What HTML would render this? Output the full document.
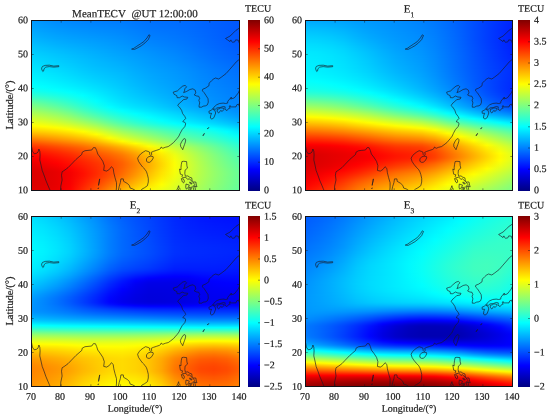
<!DOCTYPE html>
<html lang="en"><head><meta charset="utf-8"><title>Mean TECV and EOF maps</title>
<style>
html,body{margin:0;padding:0;background:#fff}
body{width:550px;height:419px;position:relative;overflow:hidden;font-family:"Liberation Serif",serif;color:#222;font-size:10px;line-height:10px;-webkit-text-stroke:0.2px #222}
.p{position:absolute;overflow:hidden}
.p i{display:block;height:1px}
.cb{position:absolute;background:linear-gradient(0deg,#000080 0%,#0000ff 12.5%,#00ffff 37.5%,#ffff00 62.5%,#ff0000 87.5%,#800000 100%)}
.t{position:absolute;white-space:nowrap}
.ti{position:absolute;white-space:nowrap;font-size:11px;line-height:11px;text-align:center;width:200px}
.ti sub{font-size:7.5px;line-height:0;vertical-align:-4.8px}
.yl{text-align:right;width:20px}
.xl{text-align:center;width:30px}
.ov{position:absolute;left:0;top:0}
</style></head><body>
<div class="p" style="left:31px;top:20px;width:209px;height:171px"><i style="background:linear-gradient(90deg,#0099ff,#0092ff,#008bff,#0086ff,#0081ff,#007eff,#007cff,#007aff,#0075ff,#0071ff,#006eff,#006cff,#0069ff,#0064ff,#0060ff,#005bff,#0057ff)"></i><i style="background:linear-gradient(90deg,#009aff,#0093ff,#008dff,#0087ff,#0083ff,#0080ff,#007eff,#007bff,#0076ff,#0071ff,#006fff,#006dff,#0069ff,#0065ff,#0060ff,#005bff,#0057ff)"></i><i style="background:linear-gradient(90deg,#009cff,#0094ff,#008eff,#0089ff,#0085ff,#0081ff,#007fff,#007cff,#0077ff,#0072ff,#006fff,#006dff,#006aff,#0065ff,#0060ff,#005bff,#0057ff)"></i><i style="background:linear-gradient(90deg,#009dff,#0096ff,#008fff,#008aff,#0086ff,#0083ff,#0080ff,#007dff,#0078ff,#0073ff,#0070ff,#006eff,#006aff,#0065ff,#0060ff,#005bff,#0057ff)"></i><i style="background:linear-gradient(90deg,#009fff,#0097ff,#0091ff,#008cff,#0088ff,#0084ff,#0082ff,#007fff,#0079ff,#0074ff,#0071ff,#006eff,#006bff,#0065ff,#0060ff,#005bff,#0057ff)"></i><i style="background:linear-gradient(90deg,#00a0ff,#0099ff,#0092ff,#008dff,#0089ff,#0086ff,#0083ff,#0080ff,#007aff,#0075ff,#0072ff,#006fff,#006bff,#0066ff,#0060ff,#005cff,#0057ff)"></i><i style="background:linear-gradient(90deg,#00a1ff,#009aff,#0094ff,#008fff,#008bff,#0087ff,#0084ff,#0081ff,#007bff,#0076ff,#0072ff,#0070ff,#006cff,#0066ff,#0061ff,#005cff,#0057ff)"></i><i style="background:linear-gradient(90deg,#00a3ff,#009bff,#0095ff,#0090ff,#008cff,#0089ff,#0086ff,#0082ff,#007cff,#0077ff,#0073ff,#0070ff,#006cff,#0066ff,#0061ff,#005cff,#0057ff)"></i><i style="background:linear-gradient(90deg,#00a4ff,#009dff,#0097ff,#0092ff,#008eff,#008aff,#0087ff,#0083ff,#007dff,#0077ff,#0074ff,#0071ff,#006dff,#0067ff,#0061ff,#005cff,#0057ff)"></i><i style="background:linear-gradient(90deg,#00a6ff,#009eff,#0098ff,#0093ff,#008fff,#008bff,#0088ff,#0085ff,#007eff,#0078ff,#0075ff,#0072ff,#006dff,#0067ff,#0062ff,#005cff,#0057ff)"></i><i style="background:linear-gradient(90deg,#00a7ff,#00a0ff,#009aff,#0095ff,#0091ff,#008dff,#008aff,#0086ff,#0080ff,#0079ff,#0075ff,#0072ff,#006eff,#0068ff,#0062ff,#005cff,#0057ff)"></i><i style="background:linear-gradient(90deg,#00a9ff,#00a1ff,#009bff,#0096ff,#0092ff,#008eff,#008bff,#0087ff,#0081ff,#007aff,#0076ff,#0073ff,#006eff,#0068ff,#0062ff,#005cff,#0057ff)"></i><i style="background:linear-gradient(90deg,#00abff,#00a3ff,#009dff,#0098ff,#0094ff,#0090ff,#008cff,#0088ff,#0082ff,#007bff,#0077ff,#0074ff,#006fff,#0069ff,#0062ff,#005dff,#0057ff)"></i><i style="background:linear-gradient(90deg,#00acff,#00a5ff,#009eff,#0099ff,#0095ff,#0091ff,#008eff,#0089ff,#0083ff,#007cff,#0078ff,#0074ff,#006fff,#0069ff,#0063ff,#005dff,#0057ff)"></i><i style="background:linear-gradient(90deg,#00aeff,#00a6ff,#00a0ff,#009bff,#0097ff,#0093ff,#008fff,#008aff,#0084ff,#007dff,#0079ff,#0075ff,#0070ff,#006aff,#0063ff,#005dff,#0057ff)"></i><i style="background:linear-gradient(90deg,#00afff,#00a8ff,#00a2ff,#009dff,#0098ff,#0094ff,#0090ff,#008cff,#0085ff,#007eff,#007aff,#0076ff,#0071ff,#006aff,#0063ff,#005dff,#0057ff)"></i><i style="background:linear-gradient(90deg,#00b1ff,#00a9ff,#00a3ff,#009eff,#009aff,#0096ff,#0092ff,#008dff,#0086ff,#007fff,#007bff,#0077ff,#0071ff,#006aff,#0064ff,#005dff,#0057ff)"></i><i style="background:linear-gradient(90deg,#00b2ff,#00abff,#00a5ff,#00a0ff,#009bff,#0097ff,#0093ff,#008eff,#0087ff,#0080ff,#007cff,#0077ff,#0072ff,#006bff,#0064ff,#005dff,#0057ff)"></i><i style="background:linear-gradient(90deg,#00b4ff,#00adff,#00a6ff,#00a1ff,#009dff,#0099ff,#0094ff,#008fff,#0088ff,#0081ff,#007dff,#0078ff,#0073ff,#006cff,#0064ff,#005eff,#0057ff)"></i><i style="background:linear-gradient(90deg,#00b6ff,#00afff,#00a8ff,#00a3ff,#009fff,#009aff,#0096ff,#0090ff,#0089ff,#0082ff,#007dff,#0079ff,#0073ff,#006cff,#0065ff,#005eff,#0057ff)"></i><i style="background:linear-gradient(90deg,#00b8ff,#00b0ff,#00aaff,#00a5ff,#00a0ff,#009cff,#0097ff,#0092ff,#008bff,#0084ff,#007fff,#007aff,#0074ff,#006dff,#0065ff,#005eff,#0057ff)"></i><i style="background:linear-gradient(90deg,#00b9ff,#00b2ff,#00acff,#00a6ff,#00a2ff,#009dff,#0098ff,#0093ff,#008cff,#0085ff,#0080ff,#007bff,#0075ff,#006dff,#0066ff,#005fff,#0058ff)"></i><i style="background:linear-gradient(90deg,#00bbff,#00b4ff,#00aeff,#00a8ff,#00a3ff,#009fff,#009aff,#0094ff,#008dff,#0086ff,#0081ff,#007cff,#0076ff,#006eff,#0066ff,#005fff,#0058ff)"></i><i style="background:linear-gradient(90deg,#00bdff,#00b6ff,#00afff,#00aaff,#00a5ff,#00a0ff,#009bff,#0095ff,#008eff,#0087ff,#0082ff,#007dff,#0076ff,#006eff,#0067ff,#0060ff,#0059ff)"></i><i style="background:linear-gradient(90deg,#00bfff,#00b8ff,#00b1ff,#00acff,#00a7ff,#00a2ff,#009cff,#0096ff,#008fff,#0089ff,#0083ff,#007eff,#0077ff,#006fff,#0067ff,#0060ff,#0059ff)"></i><i style="background:linear-gradient(90deg,#00c1ff,#00baff,#00b3ff,#00aeff,#00a8ff,#00a3ff,#009dff,#0098ff,#0091ff,#008aff,#0084ff,#007fff,#0078ff,#0070ff,#0068ff,#0061ff,#005aff)"></i><i style="background:linear-gradient(90deg,#00c3ff,#00bcff,#00b5ff,#00afff,#00aaff,#00a4ff,#009fff,#0099ff,#0092ff,#008bff,#0085ff,#0080ff,#0079ff,#0070ff,#0069ff,#0061ff,#005bff)"></i><i style="background:linear-gradient(90deg,#00c5ff,#00beff,#00b7ff,#00b1ff,#00acff,#00a6ff,#00a0ff,#009aff,#0093ff,#008dff,#0087ff,#0081ff,#007aff,#0071ff,#0069ff,#0062ff,#005bff)"></i><i style="background:linear-gradient(90deg,#00c6ff,#00c0ff,#00b9ff,#00b3ff,#00adff,#00a7ff,#00a1ff,#009bff,#0094ff,#008eff,#0088ff,#0082ff,#007bff,#0072ff,#006aff,#0063ff,#005cff)"></i><i style="background:linear-gradient(90deg,#00c8ff,#00c1ff,#00bbff,#00b5ff,#00afff,#00a9ff,#00a3ff,#009cff,#0096ff,#008fff,#0089ff,#0083ff,#007bff,#0073ff,#006bff,#0063ff,#005dff)"></i><i style="background:linear-gradient(90deg,#00caff,#00c3ff,#00bdff,#00b6ff,#00b0ff,#00aaff,#00a4ff,#009dff,#0097ff,#0090ff,#008aff,#0084ff,#007cff,#0073ff,#006bff,#0064ff,#005eff)"></i><i style="background:linear-gradient(90deg,#00ccff,#00c5ff,#00bfff,#00b8ff,#00b2ff,#00acff,#00a5ff,#009fff,#0098ff,#0092ff,#008bff,#0085ff,#007dff,#0074ff,#006cff,#0065ff,#005fff)"></i><i style="background:linear-gradient(90deg,#00ceff,#00c7ff,#00c0ff,#00baff,#00b3ff,#00adff,#00a6ff,#00a0ff,#0099ff,#0093ff,#008cff,#0086ff,#007eff,#0075ff,#006dff,#0066ff,#005fff)"></i><i style="background:linear-gradient(90deg,#00cfff,#00c9ff,#00c2ff,#00bbff,#00b5ff,#00aeff,#00a8ff,#00a1ff,#009aff,#0094ff,#008dff,#0087ff,#007fff,#0076ff,#006dff,#0066ff,#0060ff)"></i><i style="background:linear-gradient(90deg,#00d1ff,#00caff,#00c4ff,#00bdff,#00b6ff,#00b0ff,#00a9ff,#00a2ff,#009cff,#0095ff,#008eff,#0088ff,#0080ff,#0076ff,#006eff,#0067ff,#0061ff)"></i><i style="background:linear-gradient(90deg,#00d3ff,#00ccff,#00c5ff,#00bfff,#00b8ff,#00b1ff,#00aaff,#00a3ff,#009dff,#0096ff,#008fff,#0089ff,#0081ff,#0077ff,#006fff,#0068ff,#0062ff)"></i><i style="background:linear-gradient(90deg,#00d4ff,#00ceff,#00c7ff,#00c0ff,#00b9ff,#00b2ff,#00abff,#00a5ff,#009eff,#0097ff,#0090ff,#008aff,#0082ff,#0078ff,#0070ff,#0069ff,#0062ff)"></i><i style="background:linear-gradient(90deg,#00d6ff,#00cfff,#00c8ff,#00c1ff,#00baff,#00b3ff,#00adff,#00a6ff,#009fff,#0098ff,#0091ff,#008bff,#0082ff,#0079ff,#0070ff,#0069ff,#0063ff)"></i><i style="background:linear-gradient(90deg,#00d7ff,#00d1ff,#00caff,#00c3ff,#00bcff,#00b4ff,#00aeff,#00a7ff,#00a0ff,#0099ff,#0092ff,#008cff,#0083ff,#007aff,#0071ff,#006aff,#0064ff)"></i><i style="background:linear-gradient(90deg,#00d9ff,#00d2ff,#00cbff,#00c4ff,#00bdff,#00b6ff,#00afff,#00a8ff,#00a1ff,#009aff,#0093ff,#008cff,#0084ff,#007bff,#0072ff,#006bff,#0065ff)"></i><i style="background:linear-gradient(90deg,#00daff,#00d4ff,#00cdff,#00c6ff,#00beff,#00b7ff,#00b0ff,#00a9ff,#00a2ff,#009bff,#0094ff,#008dff,#0085ff,#007cff,#0073ff,#006cff,#0066ff)"></i><i style="background:linear-gradient(90deg,#00dcff,#00d5ff,#00ceff,#00c7ff,#00bfff,#00b8ff,#00b1ff,#00abff,#00a3ff,#009cff,#0095ff,#008eff,#0086ff,#007dff,#0074ff,#006dff,#0067ff)"></i><i style="background:linear-gradient(90deg,#00ddff,#00d7ff,#00d0ff,#00c8ff,#00c0ff,#00b9ff,#00b3ff,#00acff,#00a4ff,#009cff,#0096ff,#008fff,#0087ff,#007eff,#0075ff,#006eff,#0068ff)"></i><i style="background:linear-gradient(90deg,#00dfff,#00d8ff,#00d1ff,#00caff,#00c1ff,#00baff,#00b4ff,#00adff,#00a5ff,#009dff,#0097ff,#0090ff,#0088ff,#007fff,#0076ff,#006fff,#0069ff)"></i><i style="background:linear-gradient(90deg,#00e0ff,#00daff,#00d3ff,#00cbff,#00c3ff,#00bbff,#00b5ff,#00aeff,#00a6ff,#009eff,#0097ff,#0091ff,#0089ff,#0080ff,#0077ff,#0070ff,#006aff)"></i><i style="background:linear-gradient(90deg,#00e1ff,#00dbff,#00d4ff,#00ccff,#00c4ff,#00bcff,#00b6ff,#00afff,#00a7ff,#009fff,#0098ff,#0092ff,#008aff,#0081ff,#0078ff,#0071ff,#006bff)"></i><i style="background:linear-gradient(90deg,#00e3ff,#00ddff,#00d6ff,#00ceff,#00c5ff,#00bdff,#00b7ff,#00b1ff,#00a8ff,#00a0ff,#0099ff,#0093ff,#008bff,#0081ff,#0079ff,#0072ff,#006cff)"></i><i style="background:linear-gradient(90deg,#00e4ff,#00deff,#00d7ff,#00cfff,#00c6ff,#00bfff,#00b8ff,#00b2ff,#00a9ff,#00a1ff,#009aff,#0094ff,#008cff,#0082ff,#007aff,#0073ff,#006dff)"></i><i style="background:linear-gradient(90deg,#00e6ff,#00e0ff,#00d9ff,#00d1ff,#00c8ff,#00c0ff,#00baff,#00b3ff,#00aaff,#00a2ff,#009bff,#0095ff,#008dff,#0083ff,#007bff,#0074ff,#006eff)"></i><i style="background:linear-gradient(90deg,#00e7ff,#00e1ff,#00daff,#00d2ff,#00c9ff,#00c1ff,#00bbff,#00b4ff,#00abff,#00a3ff,#009cff,#0095ff,#008eff,#0084ff,#007cff,#0075ff,#006fff)"></i><i style="background:linear-gradient(90deg,#00e9ff,#00e3ff,#00dcff,#00d4ff,#00caff,#00c2ff,#00bcff,#00b5ff,#00acff,#00a3ff,#009dff,#0096ff,#008eff,#0085ff,#007dff,#0076ff,#006fff)"></i><i style="background:linear-gradient(90deg,#00ebff,#00e4ff,#00ddff,#00d5ff,#00ccff,#00c4ff,#00bdff,#00b6ff,#00adff,#00a4ff,#009dff,#0097ff,#008fff,#0086ff,#007dff,#0076ff,#0070ff)"></i><i style="background:linear-gradient(90deg,#00ecff,#00e6ff,#00dfff,#00d7ff,#00cdff,#00c5ff,#00bfff,#00b8ff,#00aeff,#00a5ff,#009eff,#0098ff,#0090ff,#0086ff,#007eff,#0077ff,#0071ff)"></i><i style="background:linear-gradient(90deg,#00eeff,#00e8ff,#00e1ff,#00d8ff,#00cfff,#00c7ff,#00c0ff,#00b9ff,#00afff,#00a6ff,#009fff,#0098ff,#0090ff,#0087ff,#007fff,#0078ff,#0072ff)"></i><i style="background:linear-gradient(90deg,#00efff,#00e9ff,#00e2ff,#00daff,#00d0ff,#00c8ff,#00c1ff,#00baff,#00b0ff,#00a7ff,#00a0ff,#0099ff,#0091ff,#0088ff,#007fff,#0078ff,#0072ff)"></i><i style="background:linear-gradient(90deg,#00f1ff,#00ebff,#00e4ff,#00dbff,#00d2ff,#00caff,#00c3ff,#00bbff,#00b1ff,#00a8ff,#00a0ff,#009aff,#0092ff,#0088ff,#0080ff,#0079ff,#0073ff)"></i><i style="background:linear-gradient(90deg,#00f2ff,#00ecff,#00e5ff,#00ddff,#00d4ff,#00cbff,#00c4ff,#00bcff,#00b2ff,#00a9ff,#00a1ff,#009aff,#0092ff,#0089ff,#0081ff,#007aff,#0073ff)"></i><i style="background:linear-gradient(90deg,#00f4ff,#00eeff,#00e7ff,#00dfff,#00d5ff,#00cdff,#00c5ff,#00bdff,#00b3ff,#00a9ff,#00a2ff,#009bff,#0093ff,#0089ff,#0081ff,#007aff,#0074ff)"></i><i style="background:linear-gradient(90deg,#00f5ff,#00efff,#00e8ff,#00e0ff,#00d7ff,#00ceff,#00c7ff,#00beff,#00b4ff,#00aaff,#00a2ff,#009bff,#0093ff,#008aff,#0082ff,#007bff,#0075ff)"></i><i style="background:linear-gradient(90deg,#00f7ff,#00f1ff,#00eaff,#00e2ff,#00d9ff,#00d0ff,#00c8ff,#00bfff,#00b5ff,#00abff,#00a3ff,#009cff,#0094ff,#008aff,#0082ff,#007bff,#0075ff)"></i><i style="background:linear-gradient(90deg,#00f8ff,#00f2ff,#00ebff,#00e3ff,#00daff,#00d2ff,#00c9ff,#00c1ff,#00b6ff,#00acff,#00a4ff,#009cff,#0094ff,#008bff,#0083ff,#007cff,#0076ff)"></i><i style="background:linear-gradient(90deg,#00faff,#00f4ff,#00edff,#00e5ff,#00dcff,#00d3ff,#00cbff,#00c2ff,#00b7ff,#00adff,#00a5ff,#009dff,#0095ff,#008bff,#0083ff,#007cff,#0076ff)"></i><i style="background:linear-gradient(90deg,#00fcff,#00f6ff,#00efff,#00e7ff,#00deff,#00d5ff,#00ccff,#00c3ff,#00b8ff,#00aeff,#00a5ff,#009eff,#0095ff,#008cff,#0084ff,#007dff,#0077ff)"></i><i style="background:linear-gradient(90deg,#00fdff,#00f8ff,#00f1ff,#00e9ff,#00e0ff,#00d7ff,#00ceff,#00c4ff,#00b9ff,#00afff,#00a6ff,#009eff,#0096ff,#008cff,#0084ff,#007dff,#0078ff)"></i><i style="background:linear-gradient(90deg,#00ffff,#00f9ff,#00f3ff,#00ebff,#00e2ff,#00d9ff,#00cfff,#00c5ff,#00baff,#00b0ff,#00a7ff,#009fff,#0096ff,#008dff,#0085ff,#007eff,#0078ff)"></i><i style="background:linear-gradient(90deg,#03fffc,#00fcff,#00f5ff,#00edff,#00e4ff,#00dbff,#00d1ff,#00c6ff,#00bbff,#00b1ff,#00a8ff,#00a0ff,#0097ff,#008eff,#0086ff,#007fff,#0079ff)"></i><i style="background:linear-gradient(90deg,#05fffa,#00feff,#00f7ff,#00efff,#00e6ff,#00ddff,#00d2ff,#00c8ff,#00bcff,#00b2ff,#00a9ff,#00a0ff,#0097ff,#008eff,#0086ff,#007fff,#0079ff)"></i><i style="background:linear-gradient(90deg,#07fff8,#01fffe,#00f9ff,#00f2ff,#00e9ff,#00dfff,#00d4ff,#00c9ff,#00beff,#00b3ff,#00aaff,#00a1ff,#0098ff,#008fff,#0087ff,#0080ff,#007aff)"></i><i style="background:linear-gradient(90deg,#0afff5,#04fffb,#00fcff,#00f4ff,#00ebff,#00e1ff,#00d6ff,#00caff,#00bfff,#00b4ff,#00abff,#00a2ff,#0099ff,#0090ff,#0088ff,#0081ff,#007aff)"></i><i style="background:linear-gradient(90deg,#0dfff2,#07fff8,#00ffff,#00f7ff,#00eeff,#00e3ff,#00d8ff,#00ccff,#00c0ff,#00b5ff,#00acff,#00a3ff,#009aff,#0090ff,#0088ff,#0081ff,#007bff)"></i><i style="background:linear-gradient(90deg,#12ffed,#0bfff4,#03fffc,#00faff,#00f0ff,#00e5ff,#00d9ff,#00cdff,#00c2ff,#00b6ff,#00adff,#00a4ff,#009aff,#0091ff,#0089ff,#0082ff,#007cff)"></i><i style="background:linear-gradient(90deg,#16ffe9,#0ffff0,#07fff8,#00fdff,#00f3ff,#00e7ff,#00dbff,#00cfff,#00c3ff,#00b8ff,#00aeff,#00a5ff,#009bff,#0092ff,#008aff,#0082ff,#007cff)"></i><i style="background:linear-gradient(90deg,#1cffe3,#14ffeb,#0cfff3,#02fffd,#00f6ff,#00eaff,#00ddff,#00d0ff,#00c4ff,#00b9ff,#00afff,#00a6ff,#009cff,#0093ff,#008aff,#0083ff,#007dff)"></i><i style="background:linear-gradient(90deg,#22ffdd,#1affe5,#10ffef,#06fff9,#00f9ff,#00ecff,#00deff,#00d1ff,#00c6ff,#00bbff,#00b0ff,#00a7ff,#009dff,#0093ff,#008bff,#0083ff,#007dff)"></i><i style="background:linear-gradient(90deg,#28ffd7,#1fffe0,#15ffea,#0afff5,#00fcff,#00eeff,#00e0ff,#00d3ff,#00c7ff,#00bcff,#00b2ff,#00a8ff,#009eff,#0094ff,#008cff,#0084ff,#007eff)"></i><i style="background:linear-gradient(90deg,#2fffd0,#25ffda,#1affe5,#0efff1,#00ffff,#00f1ff,#00e2ff,#00d4ff,#00c9ff,#00beff,#00b3ff,#00a9ff,#009fff,#0095ff,#008cff,#0085ff,#007eff)"></i><i style="background:linear-gradient(90deg,#37ffc8,#2cffd3,#20ffdf,#12ffed,#03fffc,#00f3ff,#00e4ff,#00d6ff,#00caff,#00c0ff,#00b5ff,#00aaff,#00a0ff,#0096ff,#008dff,#0085ff,#007eff)"></i><i style="background:linear-gradient(90deg,#3effc1,#33ffcc,#26ffd9,#17ffe8,#07fff8,#00f6ff,#00e6ff,#00d8ff,#00ccff,#00c2ff,#00b6ff,#00abff,#00a1ff,#0097ff,#008eff,#0086ff,#007fff)"></i><i style="background:linear-gradient(90deg,#46ffb9,#39ffc6,#2cffd3,#1cffe3,#0afff5,#00f8ff,#00e8ff,#00d9ff,#00ceff,#00c3ff,#00b8ff,#00acff,#00a2ff,#0098ff,#008fff,#0087ff,#0080ff)"></i><i style="background:linear-gradient(90deg,#4effb1,#41ffbe,#32ffcd,#21ffde,#0efff1,#00fbff,#00eaff,#00dbff,#00d0ff,#00c5ff,#00baff,#00aeff,#00a3ff,#0099ff,#008fff,#0087ff,#0080ff)"></i><i style="background:linear-gradient(90deg,#55ffaa,#48ffb7,#38ffc7,#26ffd9,#12ffed,#00feff,#00ecff,#00ddff,#00d2ff,#00c7ff,#00bbff,#00afff,#00a4ff,#009aff,#0090ff,#0088ff,#0081ff)"></i><i style="background:linear-gradient(90deg,#5dffa2,#4fffb0,#3effc1,#2bffd4,#16ffe9,#02fffd,#00eeff,#00dfff,#00d4ff,#00c9ff,#00bdff,#00b1ff,#00a5ff,#009bff,#0091ff,#0089ff,#0081ff)"></i><i style="background:linear-gradient(90deg,#65ff9a,#56ffa9,#45ffba,#30ffcf,#1affe5,#05fffa,#00f1ff,#00e1ff,#00d6ff,#00ccff,#00bfff,#00b2ff,#00a7ff,#009cff,#0092ff,#008aff,#0082ff)"></i><i style="background:linear-gradient(90deg,#6cff93,#5dffa2,#4bffb4,#36ffc9,#1effe1,#09fff6,#00f4ff,#00e4ff,#00d8ff,#00ceff,#00c1ff,#00b4ff,#00a8ff,#009dff,#0094ff,#008bff,#0083ff)"></i><i style="background:linear-gradient(90deg,#74ff8b,#64ff9b,#51ffae,#3bffc4,#23ffdc,#0cfff3,#00f6ff,#00e6ff,#00dbff,#00d0ff,#00c4ff,#00b6ff,#00aaff,#009fff,#0095ff,#008cff,#0084ff)"></i><i style="background:linear-gradient(90deg,#7aff85,#6aff95,#57ffa8,#41ffbe,#27ffd8,#10ffef,#00f9ff,#00e9ff,#00ddff,#00d3ff,#00c6ff,#00b8ff,#00acff,#00a0ff,#0096ff,#008dff,#0085ff)"></i><i style="background:linear-gradient(90deg,#81ff7e,#71ff8e,#5effa1,#47ffb8,#2cffd3,#14ffeb,#00fdff,#00ecff,#00e0ff,#00d6ff,#00c8ff,#00baff,#00aeff,#00a2ff,#0098ff,#008eff,#0086ff)"></i><i style="background:linear-gradient(90deg,#88ff77,#78ff87,#65ff9a,#4dffb2,#32ffcd,#19ffe6,#02fffd,#00efff,#00e3ff,#00d9ff,#00cbff,#00bdff,#00b1ff,#00a5ff,#009aff,#0090ff,#0087ff)"></i><i style="background:linear-gradient(90deg,#8eff71,#7fff80,#6cff93,#54ffab,#38ffc7,#1effe1,#07fff8,#00f4ff,#00e7ff,#00dcff,#00cfff,#00c1ff,#00b4ff,#00a8ff,#009dff,#0092ff,#0089ff)"></i><i style="background:linear-gradient(90deg,#95ff6a,#86ff79,#73ff8c,#5bffa4,#3effc1,#24ffdb,#0cfff3,#00f9ff,#00ebff,#00e0ff,#00d2ff,#00c4ff,#00b7ff,#00abff,#00a0ff,#0095ff,#008aff)"></i><i style="background:linear-gradient(90deg,#9bff64,#8dff72,#7bff84,#63ff9c,#44ffbb,#2affd5,#12ffed,#00feff,#00f0ff,#00e3ff,#00d6ff,#00c8ff,#00bbff,#00afff,#00a3ff,#0097ff,#008cff)"></i><i style="background:linear-gradient(90deg,#a2ff5d,#94ff6b,#82ff7d,#6aff95,#4bffb4,#30ffcf,#18ffe7,#04fffb,#00f4ff,#00e7ff,#00daff,#00cdff,#00bfff,#00b3ff,#00a6ff,#009aff,#008eff)"></i><i style="background:linear-gradient(90deg,#a9ff56,#9cff63,#8aff75,#72ff8d,#52ffad,#37ffc8,#1effe1,#09fff6,#00f9ff,#00ecff,#00deff,#00d1ff,#00c4ff,#00b6ff,#00aaff,#009dff,#0090ff)"></i><i style="background:linear-gradient(90deg,#afff50,#a3ff5c,#91ff6e,#79ff86,#5affa5,#3effc1,#24ffdb,#0ffff0,#00feff,#00f0ff,#00e2ff,#00d5ff,#00c8ff,#00baff,#00adff,#00a0ff,#0093ff)"></i><i style="background:linear-gradient(90deg,#b6ff49,#aaff55,#98ff67,#80ff7f,#61ff9e,#45ffba,#2affd5,#14ffeb,#04fffb,#00f4ff,#00e6ff,#00d9ff,#00cbff,#00beff,#00b0ff,#00a3ff,#0095ff)"></i><i style="background:linear-gradient(90deg,#bcff43,#b0ff4f,#9fff60,#88ff77,#68ff97,#4cffb3,#31ffce,#1affe5,#08fff7,#00f8ff,#00eaff,#00ddff,#00cfff,#00c2ff,#00b4ff,#00a6ff,#0098ff)"></i><i style="background:linear-gradient(90deg,#c3ff3c,#b7ff48,#a6ff59,#8fff70,#70ff8f,#53ffac,#38ffc7,#20ffdf,#0dfff2,#00fcff,#00eeff,#00e0ff,#00d3ff,#00c5ff,#00b8ff,#00a9ff,#009bff)"></i><i style="background:linear-gradient(90deg,#c9ff36,#beff41,#adff52,#96ff69,#78ff87,#5bffa4,#3fffc0,#26ffd9,#13ffec,#02fffd,#00f2ff,#00e4ff,#00d7ff,#00c9ff,#00bbff,#00adff,#009eff)"></i><i style="background:linear-gradient(90deg,#d0ff2f,#c4ff3b,#b4ff4b,#9eff61,#81ff7e,#64ff9b,#46ffb9,#2cffd3,#18ffe7,#06fff9,#00f6ff,#00e8ff,#00daff,#00cdff,#00bfff,#00b1ff,#00a2ff)"></i><i style="background:linear-gradient(90deg,#d6ff29,#cbff34,#bbff44,#a5ff5a,#89ff76,#6cff93,#4effb1,#33ffcc,#1effe1,#0bfff4,#00faff,#00ecff,#00dfff,#00d1ff,#00c4ff,#00b5ff,#00a6ff)"></i><i style="background:linear-gradient(90deg,#ddff22,#d2ff2d,#c2ff3d,#adff52,#92ff6d,#75ff8a,#56ffa9,#3affc5,#24ffdb,#10ffef,#00ffff,#00f1ff,#00e3ff,#00d6ff,#00c8ff,#00b9ff,#00aaff)"></i><i style="background:linear-gradient(90deg,#e4ff1b,#d9ff26,#c9ff36,#b5ff4a,#9bff64,#7eff81,#5effa1,#41ffbe,#2affd5,#16ffe9,#05fffa,#00f6ff,#00e8ff,#00dbff,#00cdff,#00beff,#00aeff)"></i><i style="background:linear-gradient(90deg,#ebff14,#e0ff1f,#d1ff2e,#bdff42,#a4ff5b,#87ff78,#66ff99,#49ffb6,#31ffce,#1cffe3,#0bfff4,#00fbff,#00edff,#00e0ff,#00d2ff,#00c3ff,#00b2ff)"></i><i style="background:linear-gradient(90deg,#f2ff0d,#e8ff17,#d9ff26,#c6ff39,#adff52,#91ff6e,#6fff90,#51ffae,#38ffc7,#23ffdc,#11ffee,#02fffd,#00f3ff,#00e6ff,#00d8ff,#00c8ff,#00b7ff)"></i><i style="background:linear-gradient(90deg,#f9ff06,#efff10,#e1ff1e,#cfff30,#b7ff48,#9bff64,#79ff86,#5affa5,#41ffbe,#2bffd4,#19ffe6,#09fff6,#00faff,#00edff,#00deff,#00ceff,#00bdff)"></i><i style="background:linear-gradient(90deg,#fffe00,#f7ff08,#eaff15,#d9ff26,#c1ff3e,#a5ff5a,#82ff7d,#63ff9c,#4affb5,#34ffcb,#22ffdd,#11ffee,#03fffc,#00f4ff,#00e6ff,#00d5ff,#00c3ff)"></i><i style="background:linear-gradient(90deg,#fff600,#fffe00,#f3ff0c,#e2ff1d,#cbff34,#afff50,#8dff72,#6dff92,#54ffab,#3effc1,#2bffd4,#1affe5,#0bfff4,#00fcff,#00edff,#00dcff,#00c9ff)"></i><i style="background:linear-gradient(90deg,#ffee00,#fff600,#fcff03,#ecff13,#d5ff2a,#baff45,#97ff68,#77ff88,#5effa1,#48ffb7,#34ffcb,#23ffdc,#13ffec,#05fffa,#00f5ff,#00e3ff,#00d0ff)"></i><i style="background:linear-gradient(90deg,#ffe600,#ffed00,#fff900,#f6ff09,#dfff20,#c4ff3b,#a1ff5e,#81ff7e,#68ff97,#51ffae,#3dffc2,#2bffd4,#1bffe4,#0efff1,#00fdff,#00ebff,#00d7ff)"></i><i style="background:linear-gradient(90deg,#ffde00,#ffe500,#fff000,#ffff00,#eaff15,#cfff30,#acff53,#8bff74,#72ff8d,#5bffa4,#47ffb8,#34ffcb,#24ffdb,#15ffea,#05fffa,#00f2ff,#00ddff)"></i><i style="background:linear-gradient(90deg,#ffd500,#ffdc00,#ffe700,#fff500,#f4ff0b,#d9ff26,#b6ff49,#95ff6a,#7cff83,#65ff9a,#4fffb0,#3cffc3,#2bffd4,#1dffe2,#0cfff3,#00f8ff,#00e3ff)"></i><i style="background:linear-gradient(90deg,#ffcd00,#ffd300,#ffde00,#ffec00,#fdff02,#e3ff1c,#c0ff3f,#9fff60,#85ff7a,#6eff91,#58ffa7,#44ffbb,#32ffcd,#23ffdc,#12ffed,#00feff,#00e8ff)"></i><i style="background:linear-gradient(90deg,#ffc300,#ffca00,#ffd500,#ffe300,#fff700,#edff12,#c9ff36,#a8ff57,#8eff71,#76ff89,#5fffa0,#4affb5,#39ffc6,#29ffd6,#18ffe7,#04fffb,#00edff)"></i><i style="background:linear-gradient(90deg,#ffb900,#ffc000,#ffcc00,#ffda00,#ffee00,#f7ff08,#d3ff2c,#b1ff4e,#97ff68,#7eff81,#67ff98,#51ffae,#3fffc0,#2fffd0,#1dffe2,#09fff6,#00f2ff)"></i><i style="background:linear-gradient(90deg,#ffaf00,#ffb700,#ffc300,#ffd100,#ffe400,#fffe00,#dcff23,#bbff44,#9fff60,#86ff79,#6eff91,#58ffa7,#45ffba,#34ffcb,#23ffdc,#0efff1,#00f7ff)"></i><i style="background:linear-gradient(90deg,#ffa400,#ffad00,#ffb900,#ffc800,#ffdb00,#fff400,#e6ff19,#c4ff3b,#a8ff57,#8eff71,#76ff89,#5effa1,#4bffb4,#3affc5,#28ffd7,#13ffec,#00fcff)"></i><i style="background:linear-gradient(90deg,#ff9a00,#ffa400,#ffb000,#ffbf00,#ffd200,#ffea00,#f0ff0f,#cdff32,#b1ff4e,#97ff68,#7dff82,#65ff9a,#50ffaf,#3fffc0,#2dffd2,#18ffe7,#02fffd)"></i><i style="background:linear-gradient(90deg,#ff8f00,#ff9a00,#ffa700,#ffb600,#ffc800,#ffe100,#f9ff06,#d7ff28,#baff45,#9fff60,#85ff7a,#6cff93,#57ffa8,#45ffba,#32ffcd,#1dffe2,#06fff9)"></i><i style="background:linear-gradient(90deg,#ff8500,#ff9000,#ff9e00,#ffad00,#ffbf00,#ffd700,#fffb00,#e1ff1e,#c4ff3b,#a8ff57,#8dff72,#73ff8c,#5dffa2,#4bffb4,#37ffc8,#21ffde,#0bfff4)"></i><i style="background:linear-gradient(90deg,#ff7a00,#ff8700,#ff9500,#ffa400,#ffb600,#ffcd00,#fff000,#ebff14,#ceff31,#b1ff4e,#95ff6a,#7bff84,#64ff9b,#51ffae,#3cffc3,#26ffd9,#0ffff0)"></i><i style="background:linear-gradient(90deg,#ff7000,#ff7d00,#ff8b00,#ff9a00,#ffac00,#ffc300,#ffe500,#f7ff08,#d9ff26,#bcff43,#9fff60,#83ff7c,#6cff93,#57ffa8,#42ffbd,#2bffd4,#14ffeb)"></i><i style="background:linear-gradient(90deg,#ff6600,#ff7200,#ff8100,#ff9000,#ffa200,#ffb900,#ffda00,#fffb00,#e4ff1b,#c7ff38,#a9ff56,#8dff72,#74ff8b,#5effa1,#48ffb7,#30ffcf,#18ffe7)"></i><i style="background:linear-gradient(90deg,#ff5b00,#ff6800,#ff7600,#ff8600,#ff9700,#ffae00,#ffce00,#ffee00,#f1ff0e,#d3ff2c,#b4ff4b,#97ff68,#7dff82,#66ff99,#4effb1,#36ffc9,#1dffe2)"></i><i style="background:linear-gradient(90deg,#ff5000,#ff5d00,#ff6c00,#ff7c00,#ff8d00,#ffa300,#ffc100,#ffe100,#feff01,#dfff20,#c0ff3f,#a2ff5d,#87ff78,#6eff91,#55ffaa,#3bffc4,#21ffde)"></i><i style="background:linear-gradient(90deg,#ff4600,#ff5300,#ff6200,#ff7100,#ff8300,#ff9900,#ffb500,#ffd400,#fff300,#eaff15,#cbff34,#adff52,#90ff6f,#75ff8a,#5bffa4,#40ffbf,#25ffda)"></i><i style="background:linear-gradient(90deg,#ff3d00,#ff4900,#ff5800,#ff6800,#ff7900,#ff8f00,#ffaa00,#ffc700,#ffe700,#f6ff09,#d6ff29,#b7ff48,#99ff66,#7dff82,#61ff9e,#45ffba,#2affd5)"></i><i style="background:linear-gradient(90deg,#ff3400,#ff4000,#ff4f00,#ff5f00,#ff7000,#ff8500,#ff9f00,#ffbb00,#ffdc00,#fffd00,#e0ff1f,#c0ff3f,#a1ff5e,#83ff7c,#66ff99,#49ffb6,#2dffd2)"></i><i style="background:linear-gradient(90deg,#ff2c00,#ff3900,#ff4700,#ff5600,#ff6800,#ff7d00,#ff9500,#ffb100,#ffd200,#fff400,#e9ff16,#c7ff38,#a8ff57,#89ff76,#6bff94,#4effb1,#31ffce)"></i><i style="background:linear-gradient(90deg,#ff2600,#ff3200,#ff4000,#ff4f00,#ff6100,#ff7600,#ff8d00,#ffa800,#ffc900,#ffec00,#f0ff0f,#ceff31,#adff52,#8dff72,#6fff90,#51ffae,#35ffca)"></i><i style="background:linear-gradient(90deg,#ff2000,#ff2b00,#ff3900,#ff4900,#ff5b00,#ff6f00,#ff8600,#ffa000,#ffc100,#ffe400,#f7ff08,#d4ff2b,#b2ff4d,#91ff6e,#72ff8d,#55ffaa,#38ffc7)"></i><i style="background:linear-gradient(90deg,#ff1a00,#ff2600,#ff3300,#ff4300,#ff5500,#ff6900,#ff7e00,#ff9800,#ffb900,#ffdd00,#fdff02,#d9ff26,#b7ff48,#95ff6a,#76ff89,#58ffa7,#3cffc3)"></i><i style="background:linear-gradient(90deg,#ff1500,#ff2000,#ff2d00,#ff3d00,#ff4f00,#ff6300,#ff7700,#ff9000,#ffb100,#ffd600,#fffa00,#dfff20,#bbff44,#99ff66,#79ff86,#5bffa4,#3fffc0)"></i><i style="background:linear-gradient(90deg,#ff1000,#ff1b00,#ff2800,#ff3700,#ff4a00,#ff5d00,#ff7100,#ff8900,#ffaa00,#ffcf00,#fff400,#e3ff1c,#bfff40,#9dff62,#7cff83,#5effa1,#42ffbd)"></i><i style="background:linear-gradient(90deg,#ff0c00,#ff1600,#ff2300,#ff3200,#ff4500,#ff5800,#ff6b00,#ff8300,#ffa400,#ffc900,#ffef00,#e8ff17,#c3ff3c,#a0ff5f,#7fff80,#61ff9e,#45ffba)"></i><i style="background:linear-gradient(90deg,#ff0800,#ff1200,#ff1e00,#ff2d00,#ff4000,#ff5300,#ff6600,#ff7d00,#ff9e00,#ffc400,#ffeb00,#ecff13,#c6ff39,#a2ff5d,#82ff7d,#63ff9c,#48ffb7)"></i><i style="background:linear-gradient(90deg,#ff0400,#ff0d00,#ff1a00,#ff2900,#ff3b00,#ff4e00,#ff6100,#ff7800,#ff9900,#ffc000,#ffe700,#efff10,#c9ff36,#a5ff5a,#84ff7b,#66ff99,#4affb5)"></i><i style="background:linear-gradient(90deg,#ff0000,#ff0900,#ff1600,#ff2500,#ff3700,#ff4a00,#ff5d00,#ff7400,#ff9600,#ffbc00,#ffe400,#f1ff0e,#cbff34,#a7ff58,#86ff79,#68ff97,#4cffb3)"></i><i style="background:linear-gradient(90deg,#fb0000,#ff0600,#ff1200,#ff2100,#ff3400,#ff4600,#ff5900,#ff7100,#ff9200,#ffba00,#ffe200,#f3ff0c,#cdff32,#a8ff57,#87ff78,#6aff95,#4fffb0)"></i><i style="background:linear-gradient(90deg,#f80000,#ff0200,#ff0f00,#ff1d00,#ff3000,#ff4300,#ff5600,#ff6d00,#ff8f00,#ffb700,#ffdf00,#f5ff0a,#ceff31,#aaff55,#89ff76,#6bff94,#51ffae)"></i><i style="background:linear-gradient(90deg,#f40000,#fe0000,#ff0b00,#ff1a00,#ff2c00,#ff3f00,#ff5200,#ff6a00,#ff8c00,#ffb400,#ffdd00,#f7ff08,#d0ff2f,#abff54,#8aff75,#6dff92,#53ffac)"></i><i style="background:linear-gradient(90deg,#f10000,#fb0000,#ff0800,#ff1700,#ff2900,#ff3c00,#ff4f00,#ff6700,#ff8a00,#ffb200,#ffdb00,#f8ff07,#d1ff2e,#acff53,#8cff73,#6eff91,#55ffaa)"></i><i style="background:linear-gradient(90deg,#ee0000,#f80000,#ff0500,#ff1400,#ff2600,#ff3900,#ff4c00,#ff6400,#ff8700,#ffb000,#ffda00,#faff05,#d2ff2d,#aeff51,#8dff72,#70ff8f,#56ffa9)"></i><i style="background:linear-gradient(90deg,#eb0000,#f50000,#ff0300,#ff1200,#ff2300,#ff3600,#ff4a00,#ff6200,#ff8600,#ffaf00,#ffd800,#fbff04,#d3ff2c,#afff50,#8eff71,#71ff8e,#58ffa7)"></i><i style="background:linear-gradient(90deg,#e90000,#f30000,#ff0000,#ff0f00,#ff2100,#ff3400,#ff4800,#ff6100,#ff8400,#ffad00,#ffd700,#fbff04,#d4ff2b,#afff50,#8fff70,#72ff8d,#5affa5)"></i><i style="background:linear-gradient(90deg,#e60000,#f00000,#fc0000,#ff0c00,#ff1f00,#ff3200,#ff4700,#ff6000,#ff8400,#ffad00,#ffd700,#fcff03,#d5ff2a,#b0ff4f,#90ff6f,#74ff8b,#5bffa4)"></i><i style="background:linear-gradient(90deg,#e50000,#ee0000,#fa0000,#ff0a00,#ff1c00,#ff3100,#ff4600,#ff6000,#ff8400,#ffad00,#ffd700,#fcff03,#d5ff2a,#b1ff4e,#91ff6e,#75ff8a,#5dffa2)"></i><i style="background:linear-gradient(90deg,#e30000,#eb0000,#f70000,#ff0700,#ff1a00,#ff2f00,#ff4600,#ff6100,#ff8500,#ffae00,#ffd700,#fbff04,#d5ff2a,#b1ff4e,#92ff6d,#76ff89,#5effa1)"></i><i style="background:linear-gradient(90deg,#e10000,#e90000,#f40000,#ff0400,#ff1800,#ff2e00,#ff4500,#ff6100,#ff8600,#ffaf00,#ffd900,#fbff04,#d5ff2a,#b2ff4d,#93ff6c,#77ff88,#60ff9f)"></i><i style="background:linear-gradient(90deg,#e00000,#e60000,#f10000,#ff0100,#ff1600,#ff2d00,#ff4600,#ff6300,#ff8800,#ffb000,#ffda00,#faff05,#d4ff2b,#b2ff4d,#94ff6b,#79ff86,#61ff9e)"></i><i style="background:linear-gradient(90deg,#de0000,#e40000,#ee0000,#fd0000,#ff1400,#ff2c00,#ff4600,#ff6400,#ff8a00,#ffb300,#ffdc00,#f9ff06,#d4ff2b,#b2ff4d,#94ff6b,#7aff85,#63ff9c)"></i><i style="background:linear-gradient(90deg,#dd0000,#e20000,#eb0000,#fa0000,#ff1200,#ff2b00,#ff4600,#ff6600,#ff8c00,#ffb500,#ffde00,#f8ff07,#d4ff2b,#b3ff4c,#95ff6a,#7bff84,#64ff9b)"></i><i style="background:linear-gradient(90deg,#dc0000,#e00000,#e90000,#f80000,#ff1100,#ff2a00,#ff4700,#ff6700,#ff8e00,#ffb700,#ffe000,#f7ff08,#d3ff2c,#b3ff4c,#96ff69,#7cff83,#65ff9a)"></i><i style="background:linear-gradient(90deg,#dc0000,#df0000,#e80000,#f60000,#ff1000,#ff2a00,#ff4800,#ff6900,#ff9000,#ffba00,#ffe200,#f6ff09,#d3ff2c,#b3ff4c,#96ff69,#7cff83,#66ff99)"></i><i style="background:linear-gradient(90deg,#db0000,#df0000,#e80000,#f60000,#ff0f00,#ff2a00,#ff4900,#ff6b00,#ff9300,#ffbc00,#ffe300,#f5ff0a,#d2ff2d,#b3ff4c,#96ff69,#7dff82,#66ff99)"></i><i style="background:linear-gradient(90deg,#db0000,#df0000,#e80000,#f60000,#ff1000,#ff2b00,#ff4a00,#ff6d00,#ff9500,#ffbf00,#ffe500,#f4ff0b,#d2ff2d,#b2ff4d,#96ff69,#7dff82,#66ff99)"></i><i style="background:linear-gradient(90deg,#db0000,#df0000,#e80000,#f60000,#ff1000,#ff2c00,#ff4d00,#ff7000,#ff9800,#ffc100,#ffe700,#f2ff0d,#d1ff2e,#b2ff4d,#96ff69,#7dff82,#66ff99)"></i><i style="background:linear-gradient(90deg,#db0000,#df0000,#e80000,#f60000,#ff1100,#ff2e00,#ff4f00,#ff7300,#ff9b00,#ffc400,#ffe900,#f1ff0e,#d0ff2f,#b1ff4e,#96ff69,#7cff83,#66ff99)"></i><i style="background:linear-gradient(90deg,#db0000,#df0000,#e80000,#f70000,#ff1300,#ff3000,#ff5200,#ff7700,#ff9f00,#ffc700,#ffec00,#f0ff0f,#cfff30,#b1ff4e,#95ff6a,#7cff83,#66ff99)"></i><i style="background:linear-gradient(90deg,#db0000,#df0000,#e80000,#f70000,#ff1400,#ff3300,#ff5600,#ff7b00,#ffa300,#ffca00,#ffee00,#eeff11,#ceff31,#b0ff4f,#94ff6b,#7cff83,#66ff99)"></i><i style="background:linear-gradient(90deg,#db0000,#df0000,#e80000,#f80000,#ff1600,#ff3600,#ff5a00,#ff7f00,#ffa700,#ffce00,#fff100,#ecff13,#cdff32,#afff50,#94ff6b,#7cff83,#66ff99)"></i><i style="background:linear-gradient(90deg,#db0000,#df0000,#e80000,#f80000,#ff1800,#ff3900,#ff5d00,#ff8400,#ffab00,#ffd100,#fff300,#ebff14,#ccff33,#aeff51,#93ff6c,#7bff84,#66ff99)"></i><i style="background:linear-gradient(90deg,#db0000,#df0000,#e80000,#f80000,#ff1900,#ff3b00,#ff6100,#ff8800,#ffaf00,#ffd500,#fff600,#e9ff16,#cbff34,#adff52,#92ff6d,#7bff84,#66ff99)"></i><i style="background:linear-gradient(90deg,#db0000,#df0000,#e80000,#f90000,#ff1b00,#ff3e00,#ff6500,#ff8c00,#ffb300,#ffd800,#fff900,#e7ff18,#c9ff36,#acff53,#92ff6d,#7aff85,#66ff99)"></i><i style="background:linear-gradient(90deg,#dc0000,#df0000,#e80000,#f90000,#ff1d00,#ff4100,#ff6900,#ff9000,#ffb700,#ffdc00,#fffc00,#e5ff1a,#c8ff37,#abff54,#91ff6e,#7aff85,#66ff99)"></i><i style="background:linear-gradient(90deg,#dc0000,#df0000,#e80000,#fa0000,#ff1f00,#ff4400,#ff6d00,#ff9500,#ffbc00,#ffe000,#ffff00,#e3ff1c,#c7ff38,#aaff55,#90ff6f,#79ff86,#65ff9a)"></i><i style="background:linear-gradient(90deg,#dc0000,#e00000,#e90000,#fb0000,#ff2100,#ff4700,#ff7100,#ff9a00,#ffc000,#ffe400,#fcff03,#e1ff1e,#c5ff3a,#a8ff57,#8fff70,#78ff87,#65ff9a)"></i><i style="background:linear-gradient(90deg,#dd0000,#e10000,#e90000,#fc0000,#ff2300,#ff4b00,#ff7500,#ff9e00,#ffc500,#ffe800,#f9ff06,#dfff20,#c4ff3b,#a7ff58,#8eff71,#77ff88,#64ff9b)"></i><i style="background:linear-gradient(90deg,#de0000,#e10000,#ea0000,#fd0000,#ff2600,#ff4e00,#ff7a00,#ffa300,#ffca00,#ffed00,#f5ff0a,#ddff22,#c2ff3d,#a6ff59,#8cff73,#77ff88,#63ff9c)"></i><i style="background:linear-gradient(90deg,#df0000,#e20000,#eb0000,#ff0000,#ff2800,#ff5200,#ff7e00,#ffa800,#ffcf00,#fff100,#f2ff0d,#dbff24,#c1ff3e,#a4ff5b,#8bff74,#75ff8a,#63ff9c)"></i><i style="background:linear-gradient(90deg,#e00000,#e30000,#ec0000,#ff0100,#ff2b00,#ff5600,#ff8300,#ffae00,#ffd400,#fff600,#eeff11,#d8ff27,#bfff40,#a3ff5c,#8aff75,#74ff8b,#62ff9d)"></i><i style="background:linear-gradient(90deg,#e00000,#e40000,#ed0000,#ff0200,#ff2e00,#ff5a00,#ff8800,#ffb300,#ffda00,#fffb00,#ebff14,#d6ff29,#bdff42,#a1ff5e,#88ff77,#73ff8c,#61ff9e)"></i></div>
<div class="t yl" style="left:7.9px;top:15px;transform:translateY(0.3px) rotate(0.03deg);">60</div><div class="t yl" style="left:7.9px;top:49px;transform:translateY(0.3px) rotate(0.03deg);">50</div><div class="t yl" style="left:7.9px;top:83px;transform:translateY(0.3px) rotate(0.03deg);">40</div><div class="t yl" style="left:7.9px;top:117px;transform:translateY(0.3px) rotate(0.03deg);">30</div><div class="t yl" style="left:7.9px;top:151px;transform:translateY(0.3px) rotate(0.03deg);">20</div><div class="t yl" style="left:7.9px;top:185px;transform:translateY(0.3px) rotate(0.03deg);">10</div>
<div class="ti" style="left:35px;top:8px;transform:translateY(0.2px) rotate(0.03deg);">MeanTECV&nbsp; @UT 12:00:00</div>
<div class="cb" style="left:248px;top:20px;width:12px;height:170.5px"></div><div class="t" style="left:263.5px;top:185px;transform:translateY(0.2px) rotate(0.03deg);">0</div><div class="t" style="left:263.5px;top:156px;transform:translateY(0.87px) rotate(0.03deg);">10</div><div class="t" style="left:263.5px;top:128px;transform:translateY(0.53px) rotate(0.03deg);">20</div><div class="t" style="left:263.5px;top:100px;transform:translateY(0.2px) rotate(0.03deg);">30</div><div class="t" style="left:263.5px;top:71px;transform:translateY(0.87px) rotate(0.03deg);">40</div><div class="t" style="left:263.5px;top:43px;transform:translateY(0.53px) rotate(0.03deg);">50</div><div class="t" style="left:263.5px;top:15px;transform:translateY(0.2px) rotate(0.03deg);">60</div><div class="t" style="left:245px;top:3px;transform:translateY(0.7px) rotate(0.03deg);">TECU</div>
<div class="p" style="left:305px;top:20px;width:208px;height:171px"><i style="background:linear-gradient(90deg,#00a8ff,#00a7ff,#00a4ff,#00a1ff,#009cff,#0097ff,#0093ff,#008eff,#0088ff,#0081ff,#0077ff,#006bff,#005eff,#004dff,#003eff,#0030ff,#0024ff)"></i><i style="background:linear-gradient(90deg,#00abff,#00a9ff,#00a7ff,#00a3ff,#009dff,#0098ff,#0094ff,#008eff,#0088ff,#0081ff,#0078ff,#006cff,#005eff,#004eff,#003eff,#0030ff,#0023ff)"></i><i style="background:linear-gradient(90deg,#00aeff,#00acff,#00a9ff,#00a5ff,#009eff,#0099ff,#0094ff,#008fff,#0089ff,#0082ff,#0078ff,#006cff,#005eff,#004eff,#003eff,#0030ff,#0023ff)"></i><i style="background:linear-gradient(90deg,#00b1ff,#00afff,#00abff,#00a7ff,#00a0ff,#009aff,#0095ff,#008fff,#0089ff,#0082ff,#0079ff,#006dff,#005eff,#004eff,#003eff,#0030ff,#0022ff)"></i><i style="background:linear-gradient(90deg,#00b3ff,#00b1ff,#00aeff,#00a9ff,#00a1ff,#009bff,#0096ff,#0090ff,#008aff,#0083ff,#0079ff,#006dff,#005fff,#004eff,#003eff,#002fff,#0022ff)"></i><i style="background:linear-gradient(90deg,#00b6ff,#00b4ff,#00b0ff,#00abff,#00a3ff,#009cff,#0096ff,#0090ff,#008bff,#0084ff,#007aff,#006dff,#005fff,#004eff,#003eff,#002fff,#0021ff)"></i><i style="background:linear-gradient(90deg,#00b9ff,#00b6ff,#00b2ff,#00acff,#00a4ff,#009dff,#0097ff,#0091ff,#008bff,#0084ff,#007aff,#006eff,#005fff,#004eff,#003eff,#002fff,#0021ff)"></i><i style="background:linear-gradient(90deg,#00bbff,#00b9ff,#00b5ff,#00aeff,#00a5ff,#009eff,#0098ff,#0092ff,#008cff,#0085ff,#007bff,#006eff,#005fff,#004eff,#003eff,#002fff,#0020ff)"></i><i style="background:linear-gradient(90deg,#00beff,#00bbff,#00b7ff,#00b0ff,#00a7ff,#009fff,#0098ff,#0092ff,#008cff,#0085ff,#007bff,#006eff,#0060ff,#004eff,#003eff,#002fff,#0020ff)"></i><i style="background:linear-gradient(90deg,#00c0ff,#00bdff,#00b9ff,#00b2ff,#00a8ff,#00a0ff,#0099ff,#0093ff,#008dff,#0086ff,#007cff,#006fff,#0060ff,#004eff,#003eff,#002eff,#0020ff)"></i><i style="background:linear-gradient(90deg,#00c2ff,#00c0ff,#00bbff,#00b4ff,#00aaff,#00a1ff,#009aff,#0093ff,#008dff,#0087ff,#007dff,#006fff,#0060ff,#004eff,#003eff,#002eff,#001fff)"></i><i style="background:linear-gradient(90deg,#00c5ff,#00c2ff,#00bdff,#00b6ff,#00abff,#00a2ff,#009bff,#0094ff,#008eff,#0087ff,#007dff,#0070ff,#0060ff,#004fff,#003eff,#002eff,#001fff)"></i><i style="background:linear-gradient(90deg,#00c7ff,#00c4ff,#00bfff,#00b8ff,#00adff,#00a3ff,#009cff,#0095ff,#008fff,#0088ff,#007eff,#0070ff,#0060ff,#004fff,#003eff,#002eff,#001fff)"></i><i style="background:linear-gradient(90deg,#00c9ff,#00c6ff,#00c1ff,#00b9ff,#00aeff,#00a4ff,#009cff,#0095ff,#008fff,#0088ff,#007eff,#0070ff,#0061ff,#004fff,#003eff,#002eff,#001fff)"></i><i style="background:linear-gradient(90deg,#00cbff,#00c8ff,#00c3ff,#00bbff,#00b0ff,#00a6ff,#009dff,#0096ff,#0090ff,#0089ff,#007fff,#0071ff,#0061ff,#004fff,#003eff,#002eff,#001fff)"></i><i style="background:linear-gradient(90deg,#00cdff,#00caff,#00c5ff,#00bdff,#00b1ff,#00a7ff,#009eff,#0097ff,#0090ff,#008aff,#007fff,#0071ff,#0061ff,#004fff,#003eff,#002eff,#001fff)"></i><i style="background:linear-gradient(90deg,#00cfff,#00ccff,#00c7ff,#00bfff,#00b2ff,#00a8ff,#009fff,#0097ff,#0091ff,#008aff,#0080ff,#0071ff,#0061ff,#004fff,#003eff,#002eff,#001fff)"></i><i style="background:linear-gradient(90deg,#00d1ff,#00ceff,#00c9ff,#00c0ff,#00b4ff,#00a9ff,#00a0ff,#0098ff,#0092ff,#008bff,#0080ff,#0072ff,#0062ff,#004fff,#003eff,#002eff,#001fff)"></i><i style="background:linear-gradient(90deg,#00d3ff,#00d0ff,#00caff,#00c2ff,#00b5ff,#00aaff,#00a1ff,#0099ff,#0092ff,#008cff,#0081ff,#0072ff,#0062ff,#004fff,#003eff,#002eff,#001fff)"></i><i style="background:linear-gradient(90deg,#00d5ff,#00d2ff,#00ccff,#00c4ff,#00b7ff,#00acff,#00a2ff,#0099ff,#0093ff,#008cff,#0081ff,#0072ff,#0062ff,#004fff,#003eff,#002eff,#001fff)"></i><i style="background:linear-gradient(90deg,#00d7ff,#00d4ff,#00ceff,#00c5ff,#00b9ff,#00adff,#00a3ff,#009aff,#0094ff,#008dff,#0082ff,#0073ff,#0062ff,#004fff,#003eff,#002eff,#001fff)"></i><i style="background:linear-gradient(90deg,#00d8ff,#00d5ff,#00d0ff,#00c7ff,#00baff,#00afff,#00a4ff,#009bff,#0094ff,#008dff,#0082ff,#0073ff,#0063ff,#0050ff,#003eff,#002eff,#001fff)"></i><i style="background:linear-gradient(90deg,#00daff,#00d7ff,#00d2ff,#00c9ff,#00bcff,#00b0ff,#00a5ff,#009cff,#0095ff,#008eff,#0083ff,#0073ff,#0063ff,#0050ff,#003eff,#002eff,#001fff)"></i><i style="background:linear-gradient(90deg,#00dcff,#00d9ff,#00d3ff,#00cbff,#00beff,#00b2ff,#00a6ff,#009dff,#0096ff,#008fff,#0083ff,#0074ff,#0063ff,#0050ff,#003fff,#002fff,#0020ff)"></i><i style="background:linear-gradient(90deg,#00deff,#00dbff,#00d5ff,#00ccff,#00bfff,#00b3ff,#00a8ff,#009eff,#0097ff,#008fff,#0083ff,#0074ff,#0063ff,#0051ff,#003fff,#002fff,#0020ff)"></i><i style="background:linear-gradient(90deg,#00dfff,#00dcff,#00d7ff,#00ceff,#00c1ff,#00b5ff,#00a9ff,#009fff,#0097ff,#0090ff,#0084ff,#0074ff,#0064ff,#0051ff,#003fff,#002fff,#0020ff)"></i><i style="background:linear-gradient(90deg,#00e1ff,#00deff,#00d8ff,#00d0ff,#00c3ff,#00b6ff,#00aaff,#009fff,#0098ff,#0090ff,#0084ff,#0075ff,#0064ff,#0051ff,#0040ff,#0030ff,#0020ff)"></i><i style="background:linear-gradient(90deg,#00e2ff,#00dfff,#00daff,#00d1ff,#00c4ff,#00b8ff,#00abff,#00a0ff,#0099ff,#0091ff,#0085ff,#0075ff,#0064ff,#0052ff,#0040ff,#0030ff,#0021ff)"></i><i style="background:linear-gradient(90deg,#00e4ff,#00e1ff,#00dbff,#00d3ff,#00c6ff,#00b9ff,#00acff,#00a1ff,#009aff,#0092ff,#0085ff,#0075ff,#0065ff,#0052ff,#0040ff,#0030ff,#0021ff)"></i><i style="background:linear-gradient(90deg,#00e5ff,#00e2ff,#00ddff,#00d4ff,#00c7ff,#00bbff,#00aeff,#00a2ff,#009aff,#0092ff,#0086ff,#0076ff,#0065ff,#0052ff,#0041ff,#0031ff,#0022ff)"></i><i style="background:linear-gradient(90deg,#00e6ff,#00e3ff,#00deff,#00d6ff,#00c9ff,#00bcff,#00afff,#00a3ff,#009bff,#0093ff,#0086ff,#0076ff,#0065ff,#0053ff,#0041ff,#0031ff,#0022ff)"></i><i style="background:linear-gradient(90deg,#00e8ff,#00e5ff,#00dfff,#00d7ff,#00caff,#00beff,#00b0ff,#00a4ff,#009cff,#0094ff,#0087ff,#0076ff,#0065ff,#0053ff,#0042ff,#0032ff,#0022ff)"></i><i style="background:linear-gradient(90deg,#00e9ff,#00e6ff,#00e0ff,#00d8ff,#00ccff,#00bfff,#00b1ff,#00a5ff,#009dff,#0094ff,#0087ff,#0077ff,#0066ff,#0053ff,#0042ff,#0032ff,#0023ff)"></i><i style="background:linear-gradient(90deg,#00eaff,#00e7ff,#00e1ff,#00d9ff,#00cdff,#00c0ff,#00b2ff,#00a6ff,#009eff,#0095ff,#0088ff,#0077ff,#0066ff,#0054ff,#0042ff,#0032ff,#0023ff)"></i><i style="background:linear-gradient(90deg,#00ebff,#00e8ff,#00e2ff,#00daff,#00ceff,#00c1ff,#00b3ff,#00a7ff,#009eff,#0095ff,#0088ff,#0077ff,#0066ff,#0054ff,#0043ff,#0033ff,#0024ff)"></i><i style="background:linear-gradient(90deg,#00ebff,#00e8ff,#00e3ff,#00dbff,#00cfff,#00c2ff,#00b4ff,#00a8ff,#009fff,#0096ff,#0089ff,#0078ff,#0067ff,#0054ff,#0043ff,#0033ff,#0024ff)"></i><i style="background:linear-gradient(90deg,#00ecff,#00e9ff,#00e4ff,#00dcff,#00d0ff,#00c3ff,#00b5ff,#00a9ff,#00a0ff,#0097ff,#0089ff,#0078ff,#0067ff,#0054ff,#0043ff,#0033ff,#0025ff)"></i><i style="background:linear-gradient(90deg,#00edff,#00eaff,#00e4ff,#00ddff,#00d1ff,#00c4ff,#00b6ff,#00a9ff,#00a0ff,#0097ff,#0089ff,#0078ff,#0067ff,#0055ff,#0044ff,#0034ff,#0025ff)"></i><i style="background:linear-gradient(90deg,#00edff,#00eaff,#00e5ff,#00ddff,#00d2ff,#00c5ff,#00b7ff,#00aaff,#00a1ff,#0098ff,#008aff,#0079ff,#0067ff,#0055ff,#0044ff,#0034ff,#0026ff)"></i><i style="background:linear-gradient(90deg,#00eeff,#00ebff,#00e5ff,#00deff,#00d3ff,#00c6ff,#00b8ff,#00abff,#00a2ff,#0098ff,#008aff,#0079ff,#0067ff,#0055ff,#0044ff,#0035ff,#0027ff)"></i><i style="background:linear-gradient(90deg,#00eeff,#00ebff,#00e6ff,#00deff,#00d3ff,#00c7ff,#00b9ff,#00acff,#00a2ff,#0099ff,#008bff,#0079ff,#0068ff,#0055ff,#0045ff,#0035ff,#0028ff)"></i><i style="background:linear-gradient(90deg,#00efff,#00ecff,#00e6ff,#00dfff,#00d4ff,#00c8ff,#00b9ff,#00adff,#00a3ff,#0099ff,#008bff,#007aff,#0068ff,#0056ff,#0045ff,#0036ff,#0028ff)"></i><i style="background:linear-gradient(90deg,#00efff,#00ecff,#00e7ff,#00dfff,#00d5ff,#00c9ff,#00baff,#00adff,#00a4ff,#009aff,#008cff,#007aff,#0068ff,#0056ff,#0045ff,#0037ff,#0029ff)"></i><i style="background:linear-gradient(90deg,#00f0ff,#00edff,#00e7ff,#00e0ff,#00d5ff,#00c9ff,#00bbff,#00aeff,#00a5ff,#009bff,#008cff,#007aff,#0068ff,#0056ff,#0046ff,#0037ff,#002aff)"></i><i style="background:linear-gradient(90deg,#00f0ff,#00edff,#00e8ff,#00e1ff,#00d6ff,#00caff,#00bcff,#00afff,#00a5ff,#009bff,#008cff,#007aff,#0069ff,#0056ff,#0046ff,#0038ff,#002bff)"></i><i style="background:linear-gradient(90deg,#00f1ff,#00eeff,#00e8ff,#00e1ff,#00d7ff,#00cbff,#00bdff,#00b0ff,#00a6ff,#009cff,#008dff,#007bff,#0069ff,#0057ff,#0046ff,#0038ff,#002cff)"></i><i style="background:linear-gradient(90deg,#00f1ff,#00eeff,#00e9ff,#00e2ff,#00d8ff,#00ccff,#00beff,#00b1ff,#00a7ff,#009cff,#008dff,#007bff,#0069ff,#0057ff,#0047ff,#0039ff,#002cff)"></i><i style="background:linear-gradient(90deg,#00f2ff,#00efff,#00e9ff,#00e2ff,#00d8ff,#00cdff,#00bfff,#00b2ff,#00a8ff,#009dff,#008eff,#007bff,#0069ff,#0057ff,#0047ff,#0039ff,#002dff)"></i><i style="background:linear-gradient(90deg,#00f3ff,#00efff,#00eaff,#00e3ff,#00d9ff,#00ceff,#00c0ff,#00b3ff,#00a8ff,#009eff,#008eff,#007cff,#006aff,#0057ff,#0047ff,#0039ff,#002dff)"></i><i style="background:linear-gradient(90deg,#00f3ff,#00f0ff,#00ebff,#00e4ff,#00daff,#00cfff,#00c1ff,#00b4ff,#00a9ff,#009eff,#008fff,#007cff,#006aff,#0058ff,#0048ff,#003aff,#002eff)"></i><i style="background:linear-gradient(90deg,#00f4ff,#00f1ff,#00ebff,#00e5ff,#00dbff,#00d0ff,#00c2ff,#00b5ff,#00aaff,#009fff,#0090ff,#007dff,#006aff,#0058ff,#0048ff,#003aff,#002eff)"></i><i style="background:linear-gradient(90deg,#00f5ff,#00f1ff,#00ecff,#00e6ff,#00dcff,#00d1ff,#00c3ff,#00b6ff,#00abff,#00a0ff,#0090ff,#007dff,#006bff,#0058ff,#0048ff,#003aff,#002eff)"></i><i style="background:linear-gradient(90deg,#00f6ff,#00f2ff,#00edff,#00e7ff,#00ddff,#00d2ff,#00c4ff,#00b7ff,#00acff,#00a1ff,#0091ff,#007eff,#006bff,#0059ff,#0048ff,#003aff,#002eff)"></i><i style="background:linear-gradient(90deg,#00f7ff,#00f3ff,#00eeff,#00e8ff,#00dfff,#00d4ff,#00c6ff,#00b8ff,#00adff,#00a2ff,#0092ff,#007eff,#006cff,#0059ff,#0049ff,#003aff,#002eff)"></i><i style="background:linear-gradient(90deg,#00f8ff,#00f4ff,#00efff,#00e9ff,#00e0ff,#00d5ff,#00c7ff,#00baff,#00afff,#00a3ff,#0092ff,#007fff,#006cff,#0059ff,#0049ff,#003aff,#002dff)"></i><i style="background:linear-gradient(90deg,#00f9ff,#00f6ff,#00f1ff,#00eaff,#00e1ff,#00d6ff,#00c9ff,#00bbff,#00b0ff,#00a4ff,#0093ff,#0080ff,#006dff,#005aff,#0049ff,#003aff,#002dff)"></i><i style="background:linear-gradient(90deg,#00faff,#00f7ff,#00f2ff,#00ebff,#00e3ff,#00d8ff,#00caff,#00bdff,#00b1ff,#00a4ff,#0094ff,#0080ff,#006dff,#005aff,#0049ff,#003aff,#002dff)"></i><i style="background:linear-gradient(90deg,#00fcff,#00f8ff,#00f3ff,#00edff,#00e4ff,#00d9ff,#00ccff,#00beff,#00b2ff,#00a6ff,#0095ff,#0081ff,#006eff,#005bff,#0049ff,#003aff,#002cff)"></i><i style="background:linear-gradient(90deg,#00fdff,#00faff,#00f5ff,#00eeff,#00e6ff,#00dbff,#00cdff,#00c0ff,#00b4ff,#00a7ff,#0096ff,#0082ff,#006fff,#005bff,#0049ff,#003aff,#002cff)"></i><i style="background:linear-gradient(90deg,#00ffff,#00fcff,#00f7ff,#00f0ff,#00e7ff,#00ddff,#00cfff,#00c1ff,#00b5ff,#00a8ff,#0097ff,#0083ff,#006fff,#005bff,#004aff,#003aff,#002cff)"></i><i style="background:linear-gradient(90deg,#02fffd,#00fdff,#00f8ff,#00f2ff,#00e9ff,#00deff,#00d1ff,#00c3ff,#00b6ff,#00a9ff,#0098ff,#0084ff,#0070ff,#005cff,#004aff,#003aff,#002bff)"></i><i style="background:linear-gradient(90deg,#04fffb,#00ffff,#00faff,#00f4ff,#00ebff,#00e0ff,#00d3ff,#00c5ff,#00b8ff,#00aaff,#0099ff,#0085ff,#0071ff,#005cff,#004aff,#0039ff,#002bff)"></i><i style="background:linear-gradient(90deg,#06fff9,#02fffd,#00fcff,#00f6ff,#00edff,#00e2ff,#00d5ff,#00c7ff,#00baff,#00abff,#009aff,#0086ff,#0072ff,#005dff,#004aff,#0039ff,#002aff)"></i><i style="background:linear-gradient(90deg,#08fff7,#04fffb,#00feff,#00f8ff,#00efff,#00e4ff,#00d7ff,#00c9ff,#00bbff,#00adff,#009bff,#0087ff,#0073ff,#005eff,#004aff,#0039ff,#002aff)"></i><i style="background:linear-gradient(90deg,#0afff5,#07fff8,#02fffd,#00faff,#00f1ff,#00e6ff,#00d9ff,#00cbff,#00bdff,#00aeff,#009cff,#0088ff,#0074ff,#005eff,#004bff,#0039ff,#002aff)"></i><i style="background:linear-gradient(90deg,#0cfff3,#09fff6,#04fffb,#00fcff,#00f3ff,#00e8ff,#00dbff,#00cdff,#00bfff,#00b0ff,#009eff,#008aff,#0075ff,#005fff,#004bff,#0039ff,#0029ff)"></i><i style="background:linear-gradient(90deg,#0ffff0,#0cfff3,#06fff9,#00ffff,#00f6ff,#00ebff,#00ddff,#00cfff,#00c1ff,#00b1ff,#009fff,#008bff,#0076ff,#005fff,#004bff,#0039ff,#0029ff)"></i><i style="background:linear-gradient(90deg,#12ffed,#0efff1,#09fff6,#02fffd,#00f8ff,#00edff,#00e0ff,#00d2ff,#00c3ff,#00b3ff,#00a1ff,#008cff,#0077ff,#0060ff,#004cff,#0039ff,#0029ff)"></i><i style="background:linear-gradient(90deg,#14ffeb,#11ffee,#0cfff3,#05fffa,#00fbff,#00f0ff,#00e3ff,#00d4ff,#00c5ff,#00b5ff,#00a2ff,#008eff,#0078ff,#0061ff,#004cff,#0039ff,#0029ff)"></i><i style="background:linear-gradient(90deg,#18ffe7,#14ffeb,#0ffff0,#08fff7,#00feff,#00f3ff,#00e5ff,#00d7ff,#00c8ff,#00b7ff,#00a4ff,#008fff,#0079ff,#0062ff,#004dff,#003aff,#0029ff)"></i><i style="background:linear-gradient(90deg,#1cffe3,#19ffe6,#13ffec,#0cfff3,#02fffd,#00f6ff,#00e8ff,#00daff,#00caff,#00b9ff,#00a6ff,#0091ff,#007bff,#0063ff,#004dff,#003aff,#0029ff)"></i><i style="background:linear-gradient(90deg,#21ffde,#1dffe2,#18ffe7,#11ffee,#06fff9,#00faff,#00ecff,#00ddff,#00cdff,#00bcff,#00a8ff,#0093ff,#007cff,#0064ff,#004fff,#003bff,#002aff)"></i><i style="background:linear-gradient(90deg,#27ffd8,#23ffdc,#1dffe2,#16ffe9,#0bfff4,#00feff,#00f0ff,#00e0ff,#00d0ff,#00bfff,#00abff,#0095ff,#007eff,#0066ff,#0050ff,#003cff,#002bff)"></i><i style="background:linear-gradient(90deg,#2dffd2,#29ffd6,#23ffdc,#1bffe4,#10ffef,#03fffc,#00f4ff,#00e4ff,#00d3ff,#00c2ff,#00aeff,#0098ff,#0080ff,#0068ff,#0052ff,#003eff,#002cff)"></i><i style="background:linear-gradient(90deg,#34ffcb,#30ffcf,#2affd5,#21ffde,#15ffea,#08fff7,#00f8ff,#00e7ff,#00d7ff,#00c5ff,#00b1ff,#009aff,#0083ff,#006aff,#0053ff,#003fff,#002dff)"></i><i style="background:linear-gradient(90deg,#3cffc3,#38ffc7,#31ffce,#28ffd7,#1bffe4,#0dfff2,#00fcff,#00ebff,#00dbff,#00c9ff,#00b4ff,#009dff,#0085ff,#006cff,#0055ff,#0041ff,#002fff)"></i><i style="background:linear-gradient(90deg,#44ffbb,#3fffc0,#38ffc7,#2fffd0,#21ffde,#13ffec,#02fffd,#00f0ff,#00dfff,#00ccff,#00b7ff,#00a0ff,#0088ff,#006fff,#0058ff,#0043ff,#0031ff)"></i><i style="background:linear-gradient(90deg,#4cffb3,#47ffb8,#40ffbf,#36ffc9,#28ffd7,#18ffe7,#07fff8,#00f4ff,#00e3ff,#00d0ff,#00bbff,#00a3ff,#008bff,#0071ff,#005aff,#0045ff,#0033ff)"></i><i style="background:linear-gradient(90deg,#55ffaa,#50ffaf,#48ffb7,#3dffc2,#2effd1,#1effe1,#0cfff3,#00f9ff,#00e7ff,#00d5ff,#00bfff,#00a7ff,#008eff,#0074ff,#005dff,#0048ff,#0035ff)"></i><i style="background:linear-gradient(90deg,#5effa1,#58ffa7,#50ffaf,#45ffba,#35ffca,#24ffdb,#12ffed,#00feff,#00ecff,#00d9ff,#00c3ff,#00aaff,#0091ff,#0077ff,#005fff,#004aff,#0037ff)"></i><i style="background:linear-gradient(90deg,#67ff98,#61ff9e,#58ffa7,#4dffb2,#3cffc3,#2bffd4,#17ffe8,#04fffb,#00f1ff,#00deff,#00c7ff,#00aeff,#0094ff,#007aff,#0062ff,#004dff,#0039ff)"></i><i style="background:linear-gradient(90deg,#70ff8f,#6aff95,#61ff9e,#55ffaa,#44ffbb,#31ffce,#1dffe2,#09fff6,#00f6ff,#00e3ff,#00cbff,#00b2ff,#0098ff,#007eff,#0066ff,#0050ff,#003cff)"></i><i style="background:linear-gradient(90deg,#79ff86,#73ff8c,#6aff95,#5dffa2,#4bffb4,#38ffc7,#23ffdc,#0ffff0,#00fbff,#00e8ff,#00d0ff,#00b6ff,#009cff,#0081ff,#0069ff,#0053ff,#003fff)"></i><i style="background:linear-gradient(90deg,#82ff7d,#7cff83,#72ff8d,#65ff9a,#53ffac,#3fffc0,#2affd5,#15ffea,#02fffd,#00edff,#00d5ff,#00baff,#00a0ff,#0085ff,#006cff,#0056ff,#0041ff)"></i><i style="background:linear-gradient(90deg,#8bff74,#85ff7a,#7bff84,#6dff92,#5affa5,#46ffb9,#30ffcf,#1bffe4,#07fff8,#00f2ff,#00daff,#00bfff,#00a4ff,#0089ff,#0070ff,#0059ff,#0044ff)"></i><i style="background:linear-gradient(90deg,#94ff6b,#8dff72,#83ff7c,#75ff8a,#62ff9d,#4effb1,#37ffc8,#21ffde,#0dfff2,#00f8ff,#00dfff,#00c3ff,#00a8ff,#008dff,#0074ff,#005dff,#0047ff)"></i><i style="background:linear-gradient(90deg,#9dff62,#96ff69,#8bff74,#7dff82,#6aff95,#56ffa9,#3effc1,#28ffd7,#14ffeb,#00feff,#00e5ff,#00c9ff,#00adff,#0091ff,#0078ff,#0061ff,#004bff)"></i><i style="background:linear-gradient(90deg,#a6ff59,#9fff60,#94ff6b,#86ff79,#74ff8b,#5fffa0,#47ffb8,#30ffcf,#1cffe3,#07fff8,#00ecff,#00cfff,#00b3ff,#0097ff,#007dff,#0066ff,#0050ff)"></i><i style="background:linear-gradient(90deg,#afff50,#a8ff57,#9eff61,#90ff6f,#7dff82,#69ff96,#50ffaf,#39ffc6,#24ffdb,#0ffff0,#00f4ff,#00d6ff,#00baff,#009dff,#0083ff,#006cff,#0057ff)"></i><i style="background:linear-gradient(90deg,#b9ff46,#b2ff4d,#a7ff58,#9aff65,#88ff77,#73ff8c,#5affa5,#42ffbd,#2dffd2,#18ffe7,#00fcff,#00deff,#00c1ff,#00a5ff,#008bff,#0073ff,#005eff)"></i><i style="background:linear-gradient(90deg,#c3ff3c,#bcff43,#b1ff4e,#a4ff5b,#93ff6c,#7eff81,#65ff9a,#4cffb3,#37ffc8,#21ffde,#06fff9,#00e7ff,#00c9ff,#00acff,#0092ff,#007bff,#0066ff)"></i><i style="background:linear-gradient(90deg,#cdff32,#c6ff39,#bbff44,#aeff51,#9dff62,#89ff76,#70ff8f,#57ffa8,#42ffbd,#2cffd3,#10ffef,#00f0ff,#00d2ff,#00b5ff,#009bff,#0083ff,#006eff)"></i><i style="background:linear-gradient(90deg,#d7ff28,#cfff30,#c5ff3a,#b9ff46,#a8ff57,#94ff6b,#7bff84,#62ff9d,#4cffb3,#36ffc9,#1affe5,#00f9ff,#00dbff,#00bdff,#00a3ff,#008cff,#0077ff)"></i><i style="background:linear-gradient(90deg,#e1ff1e,#d9ff26,#cfff30,#c3ff3c,#b3ff4c,#9fff60,#86ff79,#6dff92,#57ffa8,#41ffbe,#24ffdb,#03fffc,#00e4ff,#00c6ff,#00acff,#0095ff,#0080ff)"></i><i style="background:linear-gradient(90deg,#eaff15,#e3ff1c,#d9ff26,#cdff32,#bdff42,#a9ff56,#90ff6f,#77ff88,#62ff9d,#4bffb4,#2effd1,#0dfff2,#00edff,#00d0ff,#00b5ff,#009eff,#0089ff)"></i><i style="background:linear-gradient(90deg,#f4ff0b,#edff12,#e3ff1c,#d7ff28,#c7ff38,#b4ff4b,#9bff64,#83ff7c,#6eff91,#57ffa8,#3affc5,#18ffe7,#00f8ff,#00daff,#00bfff,#00a8ff,#0093ff)"></i><i style="background:linear-gradient(90deg,#fdff02,#f7ff08,#edff12,#e1ff1e,#d1ff2e,#beff41,#a6ff59,#8fff70,#7aff85,#64ff9b,#46ffb9,#23ffdc,#04fffb,#00e5ff,#00cbff,#00b3ff,#009eff)"></i><i style="background:linear-gradient(90deg,#fff700,#fffd00,#f8ff07,#ecff13,#dbff24,#c9ff36,#b2ff4d,#9bff64,#87ff78,#71ff8e,#53ffac,#2fffd0,#0ffff0,#00f1ff,#00d6ff,#00bfff,#00a9ff)"></i><i style="background:linear-gradient(90deg,#ffed00,#fff300,#fffc00,#f6ff09,#e6ff19,#d3ff2c,#bdff42,#a8ff57,#94ff6b,#7fff80,#61ff9e,#3cffc3,#1cffe3,#00feff,#00e3ff,#00cbff,#00b5ff)"></i><i style="background:linear-gradient(90deg,#ffe400,#ffe900,#fff200,#fffe00,#f0ff0f,#deff21,#c9ff36,#b4ff4b,#a2ff5d,#8dff72,#6eff91,#49ffb6,#28ffd7,#0bfff4,#00f0ff,#00d7ff,#00c1ff)"></i><i style="background:linear-gradient(90deg,#ffda00,#ffdf00,#ffe800,#fff300,#faff05,#e8ff17,#d4ff2b,#c1ff3e,#afff50,#9bff64,#7cff83,#56ffa9,#35ffca,#18ffe7,#00fdff,#00e4ff,#00cdff)"></i><i style="background:linear-gradient(90deg,#ffd000,#ffd500,#ffde00,#ffe900,#fffa00,#f2ff0d,#e0ff1f,#cdff32,#bcff43,#a9ff56,#8aff75,#63ff9c,#42ffbd,#25ffda,#0bfff4,#00f1ff,#00daff)"></i><i style="background:linear-gradient(90deg,#ffc700,#ffcc00,#ffd400,#ffdf00,#fff000,#fdff02,#ebff14,#d9ff26,#c9ff36,#b6ff49,#97ff68,#70ff8f,#4fffb0,#32ffcd,#17ffe8,#00fdff,#00e6ff)"></i><i style="background:linear-gradient(90deg,#ffbd00,#ffc200,#ffca00,#ffd500,#ffe600,#fff700,#f6ff09,#e4ff1b,#d5ff2a,#c3ff3c,#a4ff5b,#7dff82,#5cffa3,#3fffc0,#24ffdb,#0afff5,#00f2ff)"></i><i style="background:linear-gradient(90deg,#ffb400,#ffb800,#ffc000,#ffcb00,#ffdc00,#ffec00,#fffe00,#efff10,#e1ff1e,#d0ff2f,#b2ff4d,#8bff74,#6aff95,#4cffb3,#30ffcf,#17ffe8,#00feff)"></i><i style="background:linear-gradient(90deg,#ffaa00,#ffaf00,#ffb600,#ffc200,#ffd200,#ffe200,#fff300,#fbff04,#edff12,#ddff22,#c0ff3f,#9aff65,#78ff87,#5affa5,#3dffc2,#24ffdb,#0cfff3)"></i><i style="background:linear-gradient(90deg,#ffa000,#ffa500,#ffad00,#ffb800,#ffc800,#ffd800,#ffe800,#fff800,#f9ff06,#e9ff16,#ceff31,#a8ff57,#87ff78,#67ff98,#4affb5,#30ffcf,#19ffe6)"></i><i style="background:linear-gradient(90deg,#ff9700,#ff9b00,#ffa300,#ffae00,#ffbe00,#ffcd00,#ffde00,#ffed00,#fffa00,#f6ff09,#dbff24,#b6ff49,#95ff6a,#75ff8a,#57ffa8,#3dffc2,#25ffda)"></i><i style="background:linear-gradient(90deg,#ff8d00,#ff9200,#ff9a00,#ffa500,#ffb400,#ffc300,#ffd300,#ffe300,#ffee00,#fffc00,#e9ff16,#c5ff3a,#a3ff5c,#82ff7d,#64ff9b,#49ffb6,#32ffcd)"></i><i style="background:linear-gradient(90deg,#ff8300,#ff8900,#ff9000,#ff9b00,#ffaa00,#ffb900,#ffc900,#ffd800,#ffe300,#ffef00,#f6ff09,#d2ff2d,#b0ff4f,#8fff70,#70ff8f,#55ffaa,#3dffc2)"></i><i style="background:linear-gradient(90deg,#ff7a00,#ff7f00,#ff8700,#ff9100,#ffa000,#ffaf00,#ffbf00,#ffce00,#ffd800,#ffe400,#fffc00,#dfff20,#bdff42,#9bff64,#7cff83,#60ff9f,#48ffb7)"></i><i style="background:linear-gradient(90deg,#ff7100,#ff7600,#ff7d00,#ff8800,#ff9600,#ffa500,#ffb500,#ffc400,#ffcd00,#ffd900,#fff000,#ebff14,#c9ff36,#a6ff59,#87ff78,#6bff94,#51ffae)"></i><i style="background:linear-gradient(90deg,#ff6700,#ff6c00,#ff7300,#ff7e00,#ff8c00,#ff9b00,#ffab00,#ffb900,#ffc300,#ffce00,#ffe500,#f6ff09,#d4ff2b,#b1ff4e,#91ff6e,#74ff8b,#5affa5)"></i><i style="background:linear-gradient(90deg,#ff5e00,#ff6200,#ff6a00,#ff7400,#ff8200,#ff9100,#ffa100,#ffb000,#ffb900,#ffc300,#ffda00,#fffd00,#dfff20,#bcff43,#9bff64,#7eff81,#62ff9d)"></i><i style="background:linear-gradient(90deg,#ff5500,#ff5900,#ff6000,#ff6a00,#ff7800,#ff8700,#ff9800,#ffa600,#ffaf00,#ffb900,#ffd000,#fff200,#eaff15,#c6ff39,#a5ff5a,#87ff78,#6aff95)"></i><i style="background:linear-gradient(90deg,#ff4b00,#ff4f00,#ff5600,#ff5f00,#ff6e00,#ff7e00,#ff8e00,#ff9c00,#ffa500,#ffaf00,#ffc500,#ffe800,#f4ff0b,#d0ff2f,#afff50,#8fff70,#72ff8d)"></i><i style="background:linear-gradient(90deg,#ff4200,#ff4600,#ff4c00,#ff5600,#ff6500,#ff7400,#ff8500,#ff9300,#ff9b00,#ffa500,#ffbb00,#ffde00,#feff01,#daff25,#b8ff47,#98ff67,#79ff86)"></i><i style="background:linear-gradient(90deg,#ff3a00,#ff3c00,#ff4300,#ff4c00,#ff5b00,#ff6b00,#ff7b00,#ff8900,#ff9100,#ff9b00,#ffb100,#ffd500,#fff700,#e3ff1c,#c1ff3e,#a0ff5f,#81ff7e)"></i><i style="background:linear-gradient(90deg,#ff3100,#ff3400,#ff3a00,#ff4300,#ff5200,#ff6100,#ff7200,#ff8000,#ff8800,#ff9100,#ffa800,#ffcb00,#ffee00,#ecff13,#c9ff36,#a8ff57,#88ff77)"></i><i style="background:linear-gradient(90deg,#ff2900,#ff2b00,#ff3100,#ff3a00,#ff4900,#ff5800,#ff6900,#ff7700,#ff7f00,#ff8800,#ff9e00,#ffc200,#ffe500,#f5ff0a,#d1ff2e,#b0ff4f,#8fff70)"></i><i style="background:linear-gradient(90deg,#ff2100,#ff2300,#ff2900,#ff3100,#ff4000,#ff4f00,#ff6000,#ff6e00,#ff7500,#ff7e00,#ff9400,#ffb900,#ffdc00,#fdff02,#daff25,#b7ff48,#96ff69)"></i><i style="background:linear-gradient(90deg,#ff1800,#ff1b00,#ff2000,#ff2800,#ff3600,#ff4500,#ff5600,#ff6400,#ff6b00,#ff7300,#ff8a00,#ffaf00,#ffd300,#fff800,#e2ff1d,#bfff40,#9eff61)"></i><i style="background:linear-gradient(90deg,#ff1000,#ff1200,#ff1700,#ff1f00,#ff2d00,#ff3b00,#ff4c00,#ff5a00,#ff6100,#ff6900,#ff8000,#ffa600,#ffca00,#fff000,#eaff15,#c7ff38,#a5ff5a)"></i><i style="background:linear-gradient(90deg,#ff0800,#ff0a00,#ff0f00,#ff1700,#ff2300,#ff3100,#ff4300,#ff5000,#ff5700,#ff5e00,#ff7500,#ff9d00,#ffc200,#ffe700,#f2ff0d,#cfff30,#acff53)"></i><i style="background:linear-gradient(90deg,#ff0000,#ff0200,#ff0700,#ff0f00,#ff1a00,#ff2800,#ff3a00,#ff4700,#ff4d00,#ff5400,#ff6c00,#ff9400,#ffba00,#ffe000,#f9ff06,#d6ff29,#b3ff4c)"></i><i style="background:linear-gradient(90deg,#f80000,#fa0000,#ff0000,#ff0700,#ff1200,#ff1f00,#ff3100,#ff3f00,#ff4500,#ff4b00,#ff6300,#ff8c00,#ffb300,#ffd900,#fffe00,#ddff22,#baff45)"></i><i style="background:linear-gradient(90deg,#f20000,#f40000,#f90000,#ff0100,#ff0b00,#ff1800,#ff2a00,#ff3800,#ff3d00,#ff4400,#ff5b00,#ff8600,#ffac00,#ffd200,#fff700,#e3ff1c,#c0ff3f)"></i><i style="background:linear-gradient(90deg,#ed0000,#f00000,#f50000,#fc0000,#ff0600,#ff1200,#ff2400,#ff3200,#ff3700,#ff3e00,#ff5600,#ff8000,#ffa700,#ffcd00,#fff200,#e8ff17,#c5ff3a)"></i><i style="background:linear-gradient(90deg,#e90000,#ec0000,#f20000,#f80000,#ff0200,#ff0e00,#ff2000,#ff2d00,#ff3300,#ff3a00,#ff5200,#ff7b00,#ffa200,#ffc800,#ffee00,#ecff13,#c9ff36)"></i><i style="background:linear-gradient(90deg,#e50000,#e90000,#ef0000,#f50000,#fe0000,#ff0a00,#ff1b00,#ff2900,#ff2f00,#ff3600,#ff4e00,#ff7700,#ff9e00,#ffc400,#ffea00,#f0ff0f,#cdff32)"></i><i style="background:linear-gradient(90deg,#e20000,#e60000,#ec0000,#f30000,#fb0000,#ff0700,#ff1700,#ff2400,#ff2b00,#ff3300,#ff4a00,#ff7300,#ff9900,#ffc000,#ffe500,#f5ff0a,#d1ff2e)"></i><i style="background:linear-gradient(90deg,#df0000,#e40000,#ea0000,#f00000,#f80000,#ff0300,#ff1300,#ff2100,#ff2700,#ff2f00,#ff4700,#ff6f00,#ff9500,#ffbc00,#ffe100,#f8ff07,#d5ff2a)"></i><i style="background:linear-gradient(90deg,#dc0000,#e20000,#e80000,#ee0000,#f50000,#ff0000,#ff1000,#ff1d00,#ff2400,#ff2d00,#ff4400,#ff6c00,#ff9200,#ffb800,#ffde00,#fcff03,#d9ff26)"></i><i style="background:linear-gradient(90deg,#da0000,#e00000,#e60000,#ec0000,#f30000,#fd0000,#ff0d00,#ff1a00,#ff2100,#ff2a00,#ff4200,#ff6900,#ff8f00,#ffb500,#ffdb00,#ffff00,#dcff23)"></i><i style="background:linear-gradient(90deg,#d80000,#de0000,#e50000,#eb0000,#f20000,#fb0000,#ff0b00,#ff1800,#ff1f00,#ff2800,#ff4000,#ff6700,#ff8c00,#ffb300,#ffd900,#fffd00,#deff21)"></i><i style="background:linear-gradient(90deg,#d70000,#dd0000,#e40000,#ea0000,#f10000,#fa0000,#ff0900,#ff1600,#ff1e00,#ff2700,#ff3f00,#ff6600,#ff8b00,#ffb100,#ffd700,#fffb00,#e0ff1f)"></i><i style="background:linear-gradient(90deg,#d60000,#dd0000,#e40000,#ea0000,#f00000,#f90000,#ff0900,#ff1600,#ff1e00,#ff2700,#ff3f00,#ff6500,#ff8a00,#ffb100,#ffd600,#fffb00,#e0ff1f)"></i><i style="background:linear-gradient(90deg,#d60000,#dd0000,#e40000,#ea0000,#f10000,#fa0000,#ff0a00,#ff1700,#ff1f00,#ff2800,#ff4000,#ff6600,#ff8b00,#ffb200,#ffd700,#fffb00,#e0ff1f)"></i><i style="background:linear-gradient(90deg,#d70000,#dd0000,#e40000,#eb0000,#f20000,#fb0000,#ff0b00,#ff1900,#ff2100,#ff2b00,#ff4300,#ff6900,#ff8e00,#ffb400,#ffd900,#fffc00,#dfff20)"></i><i style="background:linear-gradient(90deg,#d70000,#dd0000,#e40000,#eb0000,#f30000,#fe0000,#ff0e00,#ff1c00,#ff2500,#ff3000,#ff4800,#ff6e00,#ff9200,#ffb700,#ffdb00,#fffe00,#deff21)"></i><i style="background:linear-gradient(90deg,#d80000,#de0000,#e50000,#ec0000,#f50000,#ff0100,#ff1100,#ff1f00,#ff2a00,#ff3500,#ff4e00,#ff7300,#ff9700,#ffbb00,#ffde00,#feff01,#dcff23)"></i><i style="background:linear-gradient(90deg,#d80000,#de0000,#e50000,#ed0000,#f70000,#ff0500,#ff1500,#ff2400,#ff2f00,#ff3c00,#ff5500,#ff7900,#ff9c00,#ffbf00,#ffe100,#fbff04,#daff25)"></i><i style="background:linear-gradient(90deg,#d90000,#df0000,#e60000,#ef0000,#fa0000,#ff0800,#ff1900,#ff2900,#ff3500,#ff4300,#ff5d00,#ff8000,#ffa200,#ffc400,#ffe500,#f8ff07,#d7ff28)"></i><i style="background:linear-gradient(90deg,#da0000,#df0000,#e70000,#f00000,#fc0000,#ff0c00,#ff1d00,#ff2e00,#ff3b00,#ff4a00,#ff6400,#ff8700,#ffa800,#ffc800,#ffe900,#f5ff0a,#d5ff2a)"></i><i style="background:linear-gradient(90deg,#db0000,#e00000,#e80000,#f20000,#ff0000,#ff0f00,#ff2100,#ff3300,#ff4100,#ff5100,#ff6b00,#ff8d00,#ffad00,#ffcd00,#ffed00,#f2ff0d,#d2ff2d)"></i><i style="background:linear-gradient(90deg,#dc0000,#e10000,#e90000,#f30000,#ff0300,#ff1300,#ff2600,#ff3800,#ff4600,#ff5700,#ff7100,#ff9300,#ffb200,#ffd100,#fff000,#efff10,#d0ff2f)"></i><i style="background:linear-gradient(90deg,#dd0000,#e20000,#ea0000,#f60000,#ff0600,#ff1700,#ff2b00,#ff3e00,#ff4d00,#ff5d00,#ff7700,#ff9900,#ffb800,#ffd600,#fff400,#ebff14,#cdff32)"></i><i style="background:linear-gradient(90deg,#de0000,#e40000,#ed0000,#f90000,#ff0a00,#ff1c00,#ff3100,#ff4400,#ff5300,#ff6400,#ff7e00,#ff9f00,#ffbe00,#ffdb00,#fff900,#e7ff18,#caff35)"></i><i style="background:linear-gradient(90deg,#df0000,#e60000,#ef0000,#fc0000,#ff0e00,#ff2100,#ff3700,#ff4b00,#ff5a00,#ff6b00,#ff8400,#ffa500,#ffc300,#ffe000,#fffe00,#e3ff1c,#c6ff39)"></i><i style="background:linear-gradient(90deg,#e00000,#e80000,#f20000,#ff0100,#ff1300,#ff2600,#ff3e00,#ff5200,#ff6200,#ff7200,#ff8b00,#ffac00,#ffc900,#ffe600,#fbff04,#dfff20,#c2ff3d)"></i><i style="background:linear-gradient(90deg,#e10000,#ea0000,#f60000,#ff0500,#ff1800,#ff2c00,#ff4400,#ff5a00,#ff6900,#ff7900,#ff9200,#ffb200,#ffcf00,#ffec00,#f6ff09,#daff25,#beff41)"></i><i style="background:linear-gradient(90deg,#e30000,#ec0000,#f90000,#ff0900,#ff1c00,#ff3200,#ff4b00,#ff6100,#ff7000,#ff7f00,#ff9800,#ffb800,#ffd500,#fff100,#f1ff0e,#d6ff29,#baff45)"></i><i style="background:linear-gradient(90deg,#e40000,#ef0000,#fc0000,#ff0e00,#ff2100,#ff3800,#ff5200,#ff6800,#ff7600,#ff8600,#ff9f00,#ffbe00,#ffdb00,#fff600,#edff12,#d1ff2e,#b6ff49)"></i><i style="background:linear-gradient(90deg,#e50000,#f10000,#ff0100,#ff1200,#ff2600,#ff3d00,#ff5700,#ff6e00,#ff7d00,#ff8c00,#ffa500,#ffc400,#ffe100,#fffb00,#e8ff17,#cdff32,#b3ff4c)"></i><i style="background:linear-gradient(90deg,#e70000,#f30000,#ff0400,#ff1600,#ff2c00,#ff4300,#ff5d00,#ff7300,#ff8200,#ff9200,#ffab00,#ffca00,#ffe600,#feff01,#e4ff1b,#c9ff36,#afff50)"></i><i style="background:linear-gradient(90deg,#e90000,#f60000,#ff0700,#ff1a00,#ff3100,#ff4900,#ff6200,#ff7800,#ff8800,#ff9700,#ffb100,#ffd000,#ffec00,#f9ff06,#e0ff1f,#c5ff3a,#abff54)"></i><i style="background:linear-gradient(90deg,#ea0000,#f80000,#ff0a00,#ff1f00,#ff3700,#ff4f00,#ff6800,#ff7d00,#ff8d00,#ff9d00,#ffb600,#ffd600,#fff100,#f4ff0b,#dbff24,#c2ff3d,#a7ff58)"></i><i style="background:linear-gradient(90deg,#ec0000,#fb0000,#ff0e00,#ff2300,#ff3d00,#ff5600,#ff6d00,#ff8200,#ff9200,#ffa200,#ffbc00,#ffdb00,#fff600,#f0ff0f,#d7ff28,#beff41,#a4ff5b)"></i><i style="background:linear-gradient(90deg,#ee0000,#fd0000,#ff1100,#ff2800,#ff4300,#ff5c00,#ff7200,#ff8600,#ff9700,#ffa800,#ffc200,#ffe100,#fffb00,#ebff14,#d3ff2c,#baff45,#a0ff5f)"></i><i style="background:linear-gradient(90deg,#f00000,#ff0100,#ff1400,#ff2d00,#ff4900,#ff6200,#ff7700,#ff8b00,#ff9b00,#ffad00,#ffc700,#ffe600,#fdff02,#e7ff18,#cfff30,#b6ff49,#9cff63)"></i><i style="background:linear-gradient(90deg,#f20000,#ff0300,#ff1800,#ff3100,#ff4f00,#ff6800,#ff7c00,#ff9000,#ffa000,#ffb200,#ffcc00,#ffec00,#f9ff06,#e2ff1d,#cbff34,#b3ff4c,#99ff66)"></i><i style="background:linear-gradient(90deg,#f40000,#ff0600,#ff1b00,#ff3500,#ff5400,#ff6d00,#ff8100,#ff9400,#ffa500,#ffb700,#ffd100,#fff100,#f4ff0b,#deff21,#c7ff38,#afff50,#96ff69)"></i><i style="background:linear-gradient(90deg,#f60000,#ff0900,#ff1f00,#ff3900,#ff5900,#ff7200,#ff8600,#ff9900,#ffaa00,#ffbc00,#ffd700,#fff600,#efff10,#daff25,#c3ff3c,#abff54,#92ff6d)"></i><i style="background:linear-gradient(90deg,#f80000,#ff0c00,#ff2200,#ff3e00,#ff5e00,#ff7700,#ff8b00,#ff9e00,#ffaf00,#ffc100,#ffdb00,#fffa00,#ebff14,#d5ff2a,#bfff40,#a8ff57,#8fff70)"></i><i style="background:linear-gradient(90deg,#fb0000,#ff0f00,#ff2600,#ff4100,#ff6200,#ff7c00,#ff9000,#ffa300,#ffb400,#ffc600,#ffe000,#ffff00,#e6ff19,#d1ff2e,#bbff44,#a4ff5b,#8cff73)"></i><i style="background:linear-gradient(90deg,#fe0000,#ff1200,#ff2900,#ff4500,#ff6600,#ff8000,#ff9500,#ffa700,#ffb900,#ffcb00,#ffe500,#fbff04,#e2ff1d,#cdff32,#b7ff48,#a0ff5f,#89ff76)"></i><i style="background:linear-gradient(90deg,#ff0200,#ff1500,#ff2d00,#ff4900,#ff6a00,#ff8500,#ff9900,#ffac00,#ffbd00,#ffd000,#ffea00,#f6ff09,#deff21,#c8ff37,#b3ff4c,#9cff63,#86ff79)"></i><i style="background:linear-gradient(90deg,#ff0500,#ff1900,#ff3000,#ff4d00,#ff6e00,#ff8900,#ff9e00,#ffb100,#ffc200,#ffd500,#ffee00,#f2ff0d,#d9ff26,#c4ff3b,#afff50,#99ff66,#83ff7c)"></i><i style="background:linear-gradient(90deg,#ff0800,#ff1c00,#ff3400,#ff5100,#ff7200,#ff8d00,#ffa200,#ffb600,#ffc700,#ffd900,#fff300,#eeff11,#d5ff2a,#c0ff3f,#abff54,#95ff6a,#80ff7f)"></i><i style="background:linear-gradient(90deg,#ff0c00,#ff2000,#ff3700,#ff5400,#ff7600,#ff9100,#ffa700,#ffbb00,#ffcc00,#ffde00,#fff700,#eaff15,#d2ff2d,#bcff43,#a6ff59,#91ff6e,#7dff82)"></i><i style="background:linear-gradient(90deg,#ff0f00,#ff2300,#ff3b00,#ff5800,#ff7900,#ff9400,#ffab00,#ffbf00,#ffd100,#ffe300,#fffb00,#e6ff19,#ceff31,#b8ff47,#a2ff5d,#8eff71,#7aff85)"></i></div>
<div class="t yl" style="left:281.9px;top:15px;transform:translateY(0.3px) rotate(0.03deg);">60</div><div class="t yl" style="left:281.9px;top:49px;transform:translateY(0.3px) rotate(0.03deg);">50</div><div class="t yl" style="left:281.9px;top:83px;transform:translateY(0.3px) rotate(0.03deg);">40</div><div class="t yl" style="left:281.9px;top:117px;transform:translateY(0.3px) rotate(0.03deg);">30</div><div class="t yl" style="left:281.9px;top:151px;transform:translateY(0.3px) rotate(0.03deg);">20</div><div class="t yl" style="left:281.9px;top:185px;transform:translateY(0.3px) rotate(0.03deg);">10</div>
<div class="ti" style="left:308.5px;top:3px;transform:translateY(0.5px) rotate(0.03deg);">E<sub>1</sub></div>
<div class="cb" style="left:518px;top:20px;width:12px;height:170.5px"></div><div class="t" style="left:533.5px;top:185px;transform:translateY(0.2px) rotate(0.03deg);">0</div><div class="t" style="left:533.5px;top:163px;transform:translateY(0.95px) rotate(0.03deg);">0.5</div><div class="t" style="left:533.5px;top:142px;transform:translateY(0.7px) rotate(0.03deg);">1</div><div class="t" style="left:533.5px;top:121px;transform:translateY(0.45px) rotate(0.03deg);">1.5</div><div class="t" style="left:533.5px;top:100px;transform:translateY(0.2px) rotate(0.03deg);">2</div><div class="t" style="left:533.5px;top:78px;transform:translateY(0.95px) rotate(0.03deg);">2.5</div><div class="t" style="left:533.5px;top:57px;transform:translateY(0.7px) rotate(0.03deg);">3</div><div class="t" style="left:533.5px;top:36px;transform:translateY(0.45px) rotate(0.03deg);">3.5</div><div class="t" style="left:533.5px;top:15px;transform:translateY(0.2px) rotate(0.03deg);">4</div><div class="t" style="left:518.3px;top:3px;transform:translateY(0.7px) rotate(0.03deg);">TECU</div>
<div class="p" style="left:31px;top:216px;width:209px;height:171px"><i style="background:linear-gradient(90deg,#00e0ff,#00d5ff,#00c6ff,#00b5ff,#00a0ff,#008aff,#0072ff,#005fff,#0051ff,#0044ff,#0036ff,#0028ff,#001fff,#0018ff,#0013ff,#0011ff,#000fff)"></i><i style="background:linear-gradient(90deg,#00e1ff,#00d6ff,#00c8ff,#00b6ff,#00a1ff,#008bff,#0073ff,#005fff,#0051ff,#0045ff,#0036ff,#0028ff,#001fff,#0018ff,#0014ff,#0011ff,#0010ff)"></i><i style="background:linear-gradient(90deg,#00e2ff,#00d7ff,#00c9ff,#00b8ff,#00a3ff,#008dff,#0074ff,#0060ff,#0052ff,#0045ff,#0036ff,#0029ff,#0020ff,#0019ff,#0015ff,#0012ff,#0011ff)"></i><i style="background:linear-gradient(90deg,#00e3ff,#00d9ff,#00cbff,#00b9ff,#00a4ff,#008eff,#0075ff,#0061ff,#0052ff,#0045ff,#0037ff,#0029ff,#0020ff,#0019ff,#0015ff,#0012ff,#0011ff)"></i><i style="background:linear-gradient(90deg,#00e4ff,#00daff,#00ccff,#00bbff,#00a5ff,#008fff,#0076ff,#0062ff,#0053ff,#0045ff,#0037ff,#0029ff,#0020ff,#001aff,#0016ff,#0013ff,#0012ff)"></i><i style="background:linear-gradient(90deg,#00e5ff,#00dbff,#00cdff,#00bcff,#00a6ff,#0090ff,#0077ff,#0063ff,#0053ff,#0046ff,#0037ff,#0029ff,#0021ff,#001aff,#0016ff,#0014ff,#0012ff)"></i><i style="background:linear-gradient(90deg,#00e6ff,#00dcff,#00cfff,#00bdff,#00a7ff,#0091ff,#0078ff,#0064ff,#0054ff,#0046ff,#0037ff,#002aff,#0021ff,#001bff,#0017ff,#0014ff,#0013ff)"></i><i style="background:linear-gradient(90deg,#00e7ff,#00ddff,#00d0ff,#00bfff,#00a9ff,#0092ff,#0079ff,#0064ff,#0054ff,#0046ff,#0038ff,#002aff,#0021ff,#001cff,#0018ff,#0015ff,#0014ff)"></i><i style="background:linear-gradient(90deg,#00e8ff,#00dfff,#00d1ff,#00c0ff,#00aaff,#0093ff,#007aff,#0065ff,#0055ff,#0047ff,#0038ff,#002aff,#0022ff,#001cff,#0018ff,#0016ff,#0014ff)"></i><i style="background:linear-gradient(90deg,#00e9ff,#00e0ff,#00d2ff,#00c1ff,#00abff,#0094ff,#007bff,#0066ff,#0055ff,#0047ff,#0038ff,#002aff,#0022ff,#001dff,#0019ff,#0016ff,#0015ff)"></i><i style="background:linear-gradient(90deg,#00eaff,#00e1ff,#00d4ff,#00c2ff,#00acff,#0094ff,#007cff,#0066ff,#0056ff,#0047ff,#0038ff,#002bff,#0023ff,#001dff,#001aff,#0017ff,#0015ff)"></i><i style="background:linear-gradient(90deg,#00ebff,#00e2ff,#00d5ff,#00c3ff,#00adff,#0095ff,#007cff,#0067ff,#0056ff,#0048ff,#0039ff,#002bff,#0023ff,#001eff,#001aff,#0017ff,#0016ff)"></i><i style="background:linear-gradient(90deg,#00ecff,#00e3ff,#00d6ff,#00c4ff,#00aeff,#0096ff,#007dff,#0067ff,#0057ff,#0048ff,#0039ff,#002bff,#0023ff,#001eff,#001bff,#0018ff,#0016ff)"></i><i style="background:linear-gradient(90deg,#00edff,#00e4ff,#00d7ff,#00c5ff,#00aeff,#0097ff,#007dff,#0068ff,#0057ff,#0048ff,#0039ff,#002cff,#0024ff,#001fff,#001bff,#0019ff,#0017ff)"></i><i style="background:linear-gradient(90deg,#00edff,#00e5ff,#00d8ff,#00c6ff,#00afff,#0097ff,#007eff,#0068ff,#0057ff,#0049ff,#0039ff,#002cff,#0024ff,#001fff,#001cff,#0019ff,#0018ff)"></i><i style="background:linear-gradient(90deg,#00eeff,#00e6ff,#00d9ff,#00c7ff,#00b0ff,#0098ff,#007eff,#0068ff,#0058ff,#0049ff,#003aff,#002cff,#0025ff,#0020ff,#001dff,#001aff,#0018ff)"></i><i style="background:linear-gradient(90deg,#00efff,#00e6ff,#00daff,#00c8ff,#00b0ff,#0098ff,#007eff,#0068ff,#0058ff,#0049ff,#003aff,#002cff,#0025ff,#0020ff,#001dff,#001bff,#0019ff)"></i><i style="background:linear-gradient(90deg,#00f0ff,#00e7ff,#00daff,#00c9ff,#00b1ff,#0099ff,#007fff,#0068ff,#0058ff,#0049ff,#003aff,#002dff,#0025ff,#0021ff,#001eff,#001bff,#0019ff)"></i><i style="background:linear-gradient(90deg,#00f0ff,#00e8ff,#00dbff,#00caff,#00b2ff,#0099ff,#007fff,#0068ff,#0058ff,#004aff,#003bff,#002dff,#0026ff,#0022ff,#001eff,#001cff,#001aff)"></i><i style="background:linear-gradient(90deg,#00f1ff,#00e9ff,#00dcff,#00caff,#00b2ff,#0099ff,#007fff,#0068ff,#0058ff,#004aff,#003bff,#002dff,#0026ff,#0022ff,#001fff,#001dff,#001bff)"></i><i style="background:linear-gradient(90deg,#00f2ff,#00eaff,#00ddff,#00cbff,#00b3ff,#009aff,#007fff,#0068ff,#0058ff,#004aff,#003bff,#002dff,#0027ff,#0023ff,#0020ff,#001dff,#001cff)"></i><i style="background:linear-gradient(90deg,#00f3ff,#00ebff,#00deff,#00ccff,#00b3ff,#009aff,#007fff,#0068ff,#0059ff,#004bff,#003cff,#002eff,#0027ff,#0024ff,#0021ff,#001eff,#001cff)"></i><i style="background:linear-gradient(90deg,#00f4ff,#00ebff,#00dfff,#00cdff,#00b4ff,#009aff,#007fff,#0068ff,#0059ff,#004bff,#003cff,#002eff,#0028ff,#0024ff,#0021ff,#001fff,#001dff)"></i><i style="background:linear-gradient(90deg,#00f4ff,#00ecff,#00dfff,#00cdff,#00b4ff,#009bff,#007fff,#0068ff,#0059ff,#004cff,#003cff,#002eff,#0028ff,#0025ff,#0022ff,#0020ff,#001eff)"></i><i style="background:linear-gradient(90deg,#00f5ff,#00edff,#00e0ff,#00ceff,#00b5ff,#009bff,#007fff,#0069ff,#0059ff,#004cff,#003dff,#002fff,#0029ff,#0026ff,#0023ff,#0021ff,#001fff)"></i><i style="background:linear-gradient(90deg,#00f6ff,#00eeff,#00e1ff,#00cfff,#00b5ff,#009bff,#007fff,#0069ff,#0059ff,#004cff,#003dff,#002fff,#0029ff,#0026ff,#0024ff,#0021ff,#001fff)"></i><i style="background:linear-gradient(90deg,#00f7ff,#00efff,#00e2ff,#00cfff,#00b6ff,#009bff,#007fff,#0069ff,#005aff,#004dff,#003dff,#002fff,#002aff,#0027ff,#0025ff,#0022ff,#0020ff)"></i><i style="background:linear-gradient(90deg,#00f7ff,#00efff,#00e2ff,#00d0ff,#00b6ff,#009cff,#007fff,#0069ff,#005aff,#004dff,#003eff,#0030ff,#002aff,#0028ff,#0025ff,#0023ff,#0021ff)"></i><i style="background:linear-gradient(90deg,#00f8ff,#00f0ff,#00e3ff,#00d1ff,#00b7ff,#009cff,#007fff,#0069ff,#005aff,#004dff,#003eff,#0030ff,#002bff,#0028ff,#0026ff,#0024ff,#0022ff)"></i><i style="background:linear-gradient(90deg,#00f9ff,#00f0ff,#00e3ff,#00d1ff,#00b7ff,#009cff,#007fff,#0069ff,#005aff,#004eff,#003eff,#0030ff,#002bff,#0029ff,#0027ff,#0024ff,#0022ff)"></i><i style="background:linear-gradient(90deg,#00f9ff,#00f1ff,#00e4ff,#00d1ff,#00b7ff,#009cff,#007fff,#0069ff,#005aff,#004eff,#003fff,#0031ff,#002bff,#0029ff,#0027ff,#0025ff,#0023ff)"></i><i style="background:linear-gradient(90deg,#00f9ff,#00f1ff,#00e4ff,#00d2ff,#00b7ff,#009cff,#007fff,#0069ff,#005aff,#004eff,#003fff,#0031ff,#002cff,#002aff,#0028ff,#0025ff,#0023ff)"></i><i style="background:linear-gradient(90deg,#00faff,#00f2ff,#00e4ff,#00d2ff,#00b8ff,#009cff,#007fff,#0069ff,#005aff,#004eff,#003fff,#0031ff,#002cff,#002aff,#0028ff,#0026ff,#0023ff)"></i><i style="background:linear-gradient(90deg,#00faff,#00f2ff,#00e5ff,#00d2ff,#00b8ff,#009dff,#007fff,#0069ff,#005bff,#004eff,#003fff,#0031ff,#002cff,#002aff,#0028ff,#0026ff,#0024ff)"></i><i style="background:linear-gradient(90deg,#00faff,#00f2ff,#00e5ff,#00d2ff,#00b8ff,#009dff,#007fff,#0069ff,#005bff,#004eff,#003fff,#0031ff,#002cff,#002aff,#0028ff,#0026ff,#0024ff)"></i><i style="background:linear-gradient(90deg,#00faff,#00f2ff,#00e5ff,#00d2ff,#00b8ff,#009cff,#007fff,#0068ff,#005aff,#004eff,#003fff,#0031ff,#002cff,#002aff,#0028ff,#0026ff,#0024ff)"></i><i style="background:linear-gradient(90deg,#00faff,#00f2ff,#00e4ff,#00d2ff,#00b7ff,#009cff,#007fff,#0068ff,#005aff,#004eff,#003fff,#0031ff,#002cff,#002aff,#0028ff,#0026ff,#0023ff)"></i><i style="background:linear-gradient(90deg,#00f9ff,#00f1ff,#00e4ff,#00d1ff,#00b6ff,#009bff,#007eff,#0067ff,#005aff,#004eff,#003eff,#0030ff,#002cff,#002aff,#0028ff,#0026ff,#0023ff)"></i><i style="background:linear-gradient(90deg,#00f9ff,#00f1ff,#00e3ff,#00d0ff,#00b6ff,#009aff,#007dff,#0067ff,#0059ff,#004dff,#003eff,#0030ff,#002bff,#0029ff,#0027ff,#0025ff,#0023ff)"></i><i style="background:linear-gradient(90deg,#00f9ff,#00f0ff,#00e2ff,#00cfff,#00b5ff,#0099ff,#007cff,#0066ff,#0058ff,#004cff,#003dff,#002fff,#002bff,#0029ff,#0027ff,#0025ff,#0022ff)"></i><i style="background:linear-gradient(90deg,#00f8ff,#00efff,#00e1ff,#00ceff,#00b3ff,#0098ff,#007bff,#0064ff,#0057ff,#004bff,#003cff,#002eff,#002aff,#0028ff,#0027ff,#0024ff,#0022ff)"></i><i style="background:linear-gradient(90deg,#00f8ff,#00efff,#00e0ff,#00cdff,#00b2ff,#0097ff,#0079ff,#0063ff,#0056ff,#004aff,#003bff,#002dff,#0029ff,#0028ff,#0026ff,#0024ff,#0021ff)"></i><i style="background:linear-gradient(90deg,#00f7ff,#00eeff,#00dfff,#00cbff,#00b0ff,#0095ff,#0078ff,#0061ff,#0054ff,#0049ff,#003aff,#002cff,#0028ff,#0027ff,#0025ff,#0023ff,#0021ff)"></i><i style="background:linear-gradient(90deg,#00f7ff,#00edff,#00deff,#00caff,#00afff,#0093ff,#0076ff,#0060ff,#0053ff,#0047ff,#0039ff,#002bff,#0028ff,#0026ff,#0025ff,#0023ff,#0020ff)"></i><i style="background:linear-gradient(90deg,#00f6ff,#00ecff,#00ddff,#00c8ff,#00adff,#0091ff,#0074ff,#005eff,#0051ff,#0046ff,#0038ff,#002aff,#0027ff,#0026ff,#0024ff,#0022ff,#001fff)"></i><i style="background:linear-gradient(90deg,#00f5ff,#00eaff,#00dbff,#00c7ff,#00abff,#008fff,#0072ff,#005cff,#004fff,#0044ff,#0036ff,#0029ff,#0026ff,#0025ff,#0023ff,#0021ff,#001fff)"></i><i style="background:linear-gradient(90deg,#00f4ff,#00e9ff,#00daff,#00c5ff,#00a9ff,#008dff,#0070ff,#005aff,#004dff,#0043ff,#0035ff,#0028ff,#0025ff,#0024ff,#0023ff,#0021ff,#001eff)"></i><i style="background:linear-gradient(90deg,#00f3ff,#00e8ff,#00d8ff,#00c3ff,#00a7ff,#008bff,#006eff,#0058ff,#004cff,#0041ff,#0033ff,#0026ff,#0023ff,#0023ff,#0022ff,#0020ff,#001dff)"></i><i style="background:linear-gradient(90deg,#00f2ff,#00e7ff,#00d6ff,#00c1ff,#00a5ff,#0089ff,#006bff,#0056ff,#004aff,#003fff,#0031ff,#0025ff,#0022ff,#0022ff,#0021ff,#001fff,#001cff)"></i><i style="background:linear-gradient(90deg,#00f2ff,#00e5ff,#00d5ff,#00bfff,#00a3ff,#0087ff,#0069ff,#0054ff,#0048ff,#003dff,#0030ff,#0023ff,#0021ff,#0021ff,#0020ff,#001eff,#001bff)"></i><i style="background:linear-gradient(90deg,#00f1ff,#00e4ff,#00d3ff,#00bdff,#00a1ff,#0085ff,#0067ff,#0052ff,#0046ff,#003cff,#002eff,#0022ff,#0020ff,#0020ff,#001fff,#001dff,#001aff)"></i><i style="background:linear-gradient(90deg,#00f0ff,#00e3ff,#00d2ff,#00bbff,#009fff,#0083ff,#0065ff,#004fff,#0044ff,#003aff,#002cff,#0020ff,#001fff,#001fff,#001eff,#001dff,#001aff)"></i><i style="background:linear-gradient(90deg,#00efff,#00e1ff,#00d0ff,#00b9ff,#009dff,#0080ff,#0062ff,#004dff,#0041ff,#0037ff,#002aff,#001eff,#001dff,#001dff,#001dff,#001cff,#0019ff)"></i><i style="background:linear-gradient(90deg,#00edff,#00e0ff,#00ceff,#00b7ff,#009aff,#007eff,#0060ff,#004aff,#003eff,#0034ff,#0027ff,#001cff,#001bff,#001cff,#001cff,#001aff,#0017ff)"></i><i style="background:linear-gradient(90deg,#00ebff,#00deff,#00cbff,#00b4ff,#0097ff,#007bff,#005dff,#0047ff,#003aff,#002fff,#0023ff,#0019ff,#0018ff,#001aff,#001aff,#0019ff,#0016ff)"></i><i style="background:linear-gradient(90deg,#00eaff,#00dbff,#00c9ff,#00b1ff,#0095ff,#0078ff,#0059ff,#0043ff,#0035ff,#002aff,#001fff,#0015ff,#0014ff,#0017ff,#0018ff,#0017ff,#0015ff)"></i><i style="background:linear-gradient(90deg,#00e7ff,#00d9ff,#00c6ff,#00aeff,#0091ff,#0074ff,#0055ff,#003eff,#0030ff,#0025ff,#001aff,#0011ff,#0011ff,#0014ff,#0016ff,#0015ff,#0013ff)"></i><i style="background:linear-gradient(90deg,#00e5ff,#00d6ff,#00c3ff,#00abff,#008eff,#0071ff,#0052ff,#003aff,#002bff,#001fff,#0015ff,#000dff,#000dff,#0012ff,#0013ff,#0013ff,#0012ff)"></i><i style="background:linear-gradient(90deg,#00e3ff,#00d3ff,#00c0ff,#00a8ff,#008bff,#006dff,#004eff,#0035ff,#0025ff,#0019ff,#000fff,#0008ff,#0009ff,#000fff,#0011ff,#0011ff,#0010ff)"></i><i style="background:linear-gradient(90deg,#00e0ff,#00d0ff,#00bdff,#00a5ff,#0087ff,#0069ff,#0049ff,#0031ff,#001fff,#0012ff,#0009ff,#0004ff,#0005ff,#000bff,#000eff,#000eff,#000eff)"></i><i style="background:linear-gradient(90deg,#00ddff,#00cdff,#00b9ff,#00a1ff,#0083ff,#0065ff,#0045ff,#002cff,#0019ff,#000bff,#0004ff,#0000fe,#0000ff,#0008ff,#000cff,#000cff,#000cff)"></i><i style="background:linear-gradient(90deg,#00daff,#00caff,#00b6ff,#009eff,#0080ff,#0061ff,#0041ff,#0027ff,#0013ff,#0005ff,#0000fe,#0000fa,#0000fb,#0005ff,#0009ff,#000aff,#000bff)"></i><i style="background:linear-gradient(90deg,#00d8ff,#00c7ff,#00b3ff,#009aff,#007cff,#005eff,#003dff,#0022ff,#000dff,#0000fe,#0000f8,#0000f5,#0000f7,#0002ff,#0007ff,#0008ff,#0009ff)"></i><i style="background:linear-gradient(90deg,#00d5ff,#00c4ff,#00afff,#0096ff,#0079ff,#005aff,#0039ff,#001eff,#0007ff,#0000f8,#0000f4,#0000f1,#0000f4,#0000fe,#0004ff,#0006ff,#0007ff)"></i><i style="background:linear-gradient(90deg,#00d2ff,#00c1ff,#00acff,#0093ff,#0075ff,#0056ff,#0035ff,#0019ff,#0002ff,#0000f3,#0000ef,#0000ee,#0000f0,#0000fb,#0002ff,#0005ff,#0006ff)"></i><i style="background:linear-gradient(90deg,#00cfff,#00beff,#00a9ff,#0090ff,#0072ff,#0053ff,#0031ff,#0015ff,#0000fd,#0000ee,#0000ec,#0000eb,#0000ed,#0000f9,#0000ff,#0003ff,#0004ff)"></i><i style="background:linear-gradient(90deg,#00ccff,#00bbff,#00a6ff,#008cff,#006eff,#004fff,#002eff,#0012ff,#0000f9,#0000ea,#0000e9,#0000e8,#0000eb,#0000f7,#0000fe,#0001ff,#0003ff)"></i><i style="background:linear-gradient(90deg,#00caff,#00b8ff,#00a3ff,#0089ff,#006bff,#004cff,#002aff,#000fff,#0000f6,#0000e8,#0000e7,#0000e6,#0000e9,#0000f5,#0000fc,#0000ff,#0001ff)"></i><i style="background:linear-gradient(90deg,#00c7ff,#00b5ff,#00a0ff,#0086ff,#0068ff,#0049ff,#0027ff,#000cff,#0000f3,#0000e6,#0000e6,#0000e6,#0000e8,#0000f4,#0000fb,#0000fe,#0000ff)"></i><i style="background:linear-gradient(90deg,#00c4ff,#00b2ff,#009dff,#0083ff,#0065ff,#0046ff,#0025ff,#000aff,#0000f2,#0000e5,#0000e5,#0000e5,#0000e8,#0000f3,#0000fa,#0000fd,#0000fe)"></i><i style="background:linear-gradient(90deg,#00c1ff,#00afff,#009aff,#0080ff,#0062ff,#0043ff,#0022ff,#0007ff,#0000f0,#0000e4,#0000e4,#0000e4,#0000e7,#0000f3,#0000f9,#0000fc,#0000fd)"></i><i style="background:linear-gradient(90deg,#00beff,#00acff,#0096ff,#007dff,#005fff,#0040ff,#001fff,#0005ff,#0000ef,#0000e3,#0000e3,#0000e3,#0000e7,#0000f2,#0000f8,#0000fa,#0000fb)"></i><i style="background:linear-gradient(90deg,#00bbff,#00a9ff,#0093ff,#0079ff,#005cff,#003dff,#001cff,#0002ff,#0000ed,#0000e2,#0000e2,#0000e3,#0000e7,#0000f1,#0000f7,#0000f9,#0000fa)"></i><i style="background:linear-gradient(90deg,#00b8ff,#00a5ff,#008fff,#0076ff,#0058ff,#003aff,#0019ff,#0000ff,#0000ec,#0000e1,#0000e1,#0000e2,#0000e6,#0000f1,#0000f6,#0000f8,#0000f9)"></i><i style="background:linear-gradient(90deg,#00b5ff,#00a2ff,#008cff,#0072ff,#0055ff,#0037ff,#0016ff,#0000fd,#0000ea,#0000e0,#0000e0,#0000e2,#0000e6,#0000f0,#0000f5,#0000f7,#0000f8)"></i><i style="background:linear-gradient(90deg,#00b1ff,#009eff,#0088ff,#006fff,#0052ff,#0034ff,#0013ff,#0000fa,#0000e9,#0000df,#0000e0,#0000e1,#0000e6,#0000ef,#0000f4,#0000f6,#0000f7)"></i><i style="background:linear-gradient(90deg,#00aeff,#009bff,#0084ff,#006bff,#004eff,#0031ff,#0011ff,#0000f8,#0000e8,#0000df,#0000df,#0000e1,#0000e5,#0000ef,#0000f4,#0000f5,#0000f6)"></i><i style="background:linear-gradient(90deg,#00abff,#0097ff,#0081ff,#0068ff,#004bff,#002eff,#000eff,#0000f6,#0000e7,#0000de,#0000de,#0000e1,#0000e5,#0000ee,#0000f3,#0000f4,#0000f4)"></i><i style="background:linear-gradient(90deg,#00a8ff,#0094ff,#007eff,#0065ff,#0048ff,#002bff,#000cff,#0000f5,#0000e5,#0000dd,#0000de,#0000e0,#0000e5,#0000ee,#0000f2,#0000f3,#0000f3)"></i><i style="background:linear-gradient(90deg,#00a5ff,#0091ff,#007bff,#0062ff,#0046ff,#0029ff,#000aff,#0000f3,#0000e5,#0000dd,#0000de,#0000e0,#0000e5,#0000ee,#0000f2,#0000f2,#0000f3)"></i><i style="background:linear-gradient(90deg,#00a2ff,#008fff,#0078ff,#005fff,#0043ff,#0027ff,#0008ff,#0000f1,#0000e4,#0000dc,#0000dd,#0000e0,#0000e4,#0000ed,#0000f1,#0000f2,#0000f2)"></i><i style="background:linear-gradient(90deg,#00a0ff,#008cff,#0076ff,#005dff,#0041ff,#0025ff,#0006ff,#0000f0,#0000e3,#0000dc,#0000dd,#0000df,#0000e4,#0000ed,#0000f1,#0000f1,#0000f1)"></i><i style="background:linear-gradient(90deg,#009eff,#008aff,#0074ff,#005cff,#0040ff,#0024ff,#0005ff,#0000ef,#0000e2,#0000dc,#0000dd,#0000df,#0000e4,#0000ed,#0000f0,#0000f0,#0000f0)"></i><i style="background:linear-gradient(90deg,#009cff,#0089ff,#0073ff,#005aff,#003fff,#0022ff,#0004ff,#0000ee,#0000e2,#0000dc,#0000dc,#0000df,#0000e4,#0000ed,#0000f0,#0000f0,#0000f0)"></i><i style="background:linear-gradient(90deg,#009aff,#0087ff,#0072ff,#0059ff,#003eff,#0022ff,#0003ff,#0000ee,#0000e2,#0000db,#0000dc,#0000df,#0000e4,#0000ed,#0000f0,#0000f0,#0000f0)"></i><i style="background:linear-gradient(90deg,#0099ff,#0087ff,#0072ff,#0059ff,#003eff,#0022ff,#0003ff,#0000ee,#0000e2,#0000db,#0000dc,#0000df,#0000e4,#0000ed,#0000f0,#0000f0,#0000f0)"></i><i style="background:linear-gradient(90deg,#0098ff,#0086ff,#0072ff,#005aff,#003eff,#0023ff,#0005ff,#0000f0,#0000e4,#0000de,#0000de,#0000e1,#0000e6,#0000ee,#0000f1,#0000f1,#0000f1)"></i><i style="background:linear-gradient(90deg,#0097ff,#0086ff,#0072ff,#005bff,#0041ff,#0026ff,#0009ff,#0000f5,#0000e9,#0000e3,#0000e4,#0000e6,#0000ea,#0000f2,#0000f5,#0000f5,#0000f5)"></i><i style="background:linear-gradient(90deg,#0096ff,#0086ff,#0073ff,#005dff,#0044ff,#002bff,#0010ff,#0000fd,#0000f2,#0000ec,#0000ec,#0000ee,#0000f1,#0000f8,#0000fb,#0000fb,#0000fb)"></i><i style="background:linear-gradient(90deg,#0096ff,#0087ff,#0075ff,#0060ff,#0048ff,#0031ff,#0019ff,#0009ff,#0000fd,#0000f7,#0000f7,#0000f8,#0000fa,#0001ff,#0003ff,#0003ff,#0003ff)"></i><i style="background:linear-gradient(90deg,#0095ff,#0087ff,#0077ff,#0063ff,#004dff,#0038ff,#0023ff,#0014ff,#000aff,#0004ff,#0004ff,#0004ff,#0005ff,#0009ff,#000bff,#000bff,#000bff)"></i><i style="background:linear-gradient(90deg,#0094ff,#0088ff,#0079ff,#0067ff,#0052ff,#003fff,#002dff,#0020ff,#0017ff,#0011ff,#0010ff,#000fff,#0010ff,#0012ff,#0014ff,#0014ff,#0014ff)"></i><i style="background:linear-gradient(90deg,#0094ff,#0088ff,#007bff,#006aff,#0057ff,#0047ff,#0038ff,#002cff,#0023ff,#001eff,#001bff,#001aff,#001aff,#001cff,#001cff,#001cff,#001cff)"></i><i style="background:linear-gradient(90deg,#0094ff,#0089ff,#007dff,#006eff,#005cff,#004eff,#0041ff,#0037ff,#002fff,#0029ff,#0026ff,#0024ff,#0024ff,#0025ff,#0025ff,#0025ff,#0025ff)"></i><i style="background:linear-gradient(90deg,#0094ff,#008bff,#007fff,#0072ff,#0062ff,#0055ff,#004aff,#0041ff,#0039ff,#0033ff,#0030ff,#002eff,#002dff,#002dff,#002dff,#002dff,#002dff)"></i><i style="background:linear-gradient(90deg,#0096ff,#008dff,#0083ff,#0076ff,#0067ff,#005bff,#0052ff,#004aff,#0043ff,#003dff,#0039ff,#0037ff,#0035ff,#0035ff,#0034ff,#0034ff,#0034ff)"></i><i style="background:linear-gradient(90deg,#0098ff,#0090ff,#0086ff,#007bff,#006dff,#0063ff,#005aff,#0053ff,#004cff,#0047ff,#0043ff,#0040ff,#003eff,#003dff,#003cff,#003cff,#003cff)"></i><i style="background:linear-gradient(90deg,#009cff,#0094ff,#008bff,#0080ff,#0074ff,#006aff,#0063ff,#005cff,#0056ff,#0050ff,#004cff,#0049ff,#0047ff,#0045ff,#0045ff,#0045ff,#0045ff)"></i><i style="background:linear-gradient(90deg,#00a0ff,#0099ff,#0090ff,#0086ff,#007bff,#0072ff,#006bff,#0065ff,#005fff,#005aff,#0056ff,#0052ff,#0050ff,#004eff,#004dff,#004dff,#004dff)"></i><i style="background:linear-gradient(90deg,#00a6ff,#009eff,#0096ff,#008dff,#0083ff,#007bff,#0075ff,#006fff,#0069ff,#0064ff,#0060ff,#005cff,#0059ff,#0057ff,#0057ff,#0057ff,#0057ff)"></i><i style="background:linear-gradient(90deg,#00abff,#00a4ff,#009cff,#0094ff,#008bff,#0084ff,#007eff,#0079ff,#0074ff,#006fff,#006aff,#0066ff,#0063ff,#0061ff,#0060ff,#0060ff,#0060ff)"></i><i style="background:linear-gradient(90deg,#00b1ff,#00aaff,#00a3ff,#009bff,#0093ff,#008dff,#0088ff,#0083ff,#007eff,#007aff,#0075ff,#0071ff,#006dff,#006bff,#006aff,#006aff,#006aff)"></i><i style="background:linear-gradient(90deg,#00b8ff,#00b1ff,#00aaff,#00a3ff,#009cff,#0097ff,#0092ff,#008eff,#008aff,#0085ff,#0080ff,#007cff,#0079ff,#0076ff,#0075ff,#0075ff,#0075ff)"></i><i style="background:linear-gradient(90deg,#00bfff,#00b8ff,#00b2ff,#00acff,#00a6ff,#00a2ff,#009eff,#009aff,#0096ff,#0092ff,#008dff,#0088ff,#0085ff,#0082ff,#0081ff,#0081ff,#0081ff)"></i><i style="background:linear-gradient(90deg,#00c8ff,#00c2ff,#00bcff,#00b7ff,#00b1ff,#00adff,#00aaff,#00a6ff,#00a3ff,#009fff,#009aff,#0095ff,#0092ff,#008fff,#008eff,#008eff,#008eff)"></i><i style="background:linear-gradient(90deg,#00d2ff,#00ccff,#00c7ff,#00c2ff,#00beff,#00baff,#00b7ff,#00b4ff,#00b0ff,#00acff,#00a8ff,#00a3ff,#00a0ff,#009dff,#009cff,#009cff,#009cff)"></i><i style="background:linear-gradient(90deg,#00deff,#00d8ff,#00d3ff,#00ceff,#00cbff,#00c7ff,#00c4ff,#00c1ff,#00beff,#00baff,#00b6ff,#00b2ff,#00afff,#00acff,#00abff,#00abff,#00abff)"></i><i style="background:linear-gradient(90deg,#00eaff,#00e4ff,#00dfff,#00dcff,#00d8ff,#00d5ff,#00d2ff,#00d0ff,#00ccff,#00c9ff,#00c5ff,#00c2ff,#00beff,#00bbff,#00baff,#00baff,#00baff)"></i><i style="background:linear-gradient(90deg,#00f7ff,#00f1ff,#00edff,#00e9ff,#00e6ff,#00e4ff,#00e1ff,#00deff,#00dbff,#00d8ff,#00d5ff,#00d1ff,#00ceff,#00cbff,#00caff,#00caff,#00cbff)"></i><i style="background:linear-gradient(90deg,#05fffa,#00ffff,#00fbff,#00f7ff,#00f5ff,#00f2ff,#00f0ff,#00edff,#00eaff,#00e8ff,#00e5ff,#00e2ff,#00dfff,#00dcff,#00dbff,#00dbff,#00dbff)"></i><i style="background:linear-gradient(90deg,#13ffec,#0efff1,#09fff6,#06fff9,#04fffb,#02fffd,#00ffff,#00fcff,#00faff,#00f7ff,#00f5ff,#00f2ff,#00f0ff,#00edff,#00ecff,#00ecff,#00ecff)"></i><i style="background:linear-gradient(90deg,#20ffdf,#1bffe4,#17ffe8,#15ffea,#13ffec,#11ffee,#0ffff0,#0dfff2,#0bfff4,#09fff6,#07fff8,#05fffa,#02fffd,#00ffff,#00feff,#00feff,#00feff)"></i><i style="background:linear-gradient(90deg,#2fffd0,#2affd5,#27ffd8,#24ffdb,#23ffdc,#21ffde,#1fffe0,#1dffe2,#1cffe3,#1affe5,#19ffe6,#17ffe8,#15ffea,#13ffec,#12ffed,#12ffed,#12ffed)"></i><i style="background:linear-gradient(90deg,#3fffc0,#3affc5,#37ffc8,#35ffca,#33ffcc,#32ffcd,#30ffcf,#2fffd0,#2effd1,#2dffd2,#2cffd3,#2bffd4,#2affd5,#29ffd6,#28ffd7,#27ffd8,#27ffd8)"></i><i style="background:linear-gradient(90deg,#4fffb0,#4bffb4,#48ffb7,#46ffb9,#44ffbb,#43ffbc,#42ffbd,#41ffbe,#40ffbf,#40ffbf,#40ffbf,#40ffbf,#40ffbf,#3fffc0,#3effc1,#3dffc2,#3cffc3)"></i><i style="background:linear-gradient(90deg,#60ff9f,#5cffa3,#5affa5,#57ffa8,#56ffa9,#55ffaa,#54ffab,#53ffac,#53ffac,#53ffac,#54ffab,#55ffaa,#55ffaa,#55ffaa,#55ffaa,#54ffab,#52ffad)"></i><i style="background:linear-gradient(90deg,#71ff8e,#6eff91,#6bff94,#69ff96,#67ff98,#66ff99,#65ff9a,#65ff9a,#66ff99,#67ff98,#68ff97,#6aff95,#6bff94,#6bff94,#6bff94,#6aff95,#68ff97)"></i><i style="background:linear-gradient(90deg,#81ff7e,#7eff81,#7cff83,#79ff86,#77ff88,#76ff89,#76ff89,#76ff89,#77ff88,#79ff86,#7bff84,#7eff81,#80ff7f,#81ff7e,#81ff7e,#80ff7f,#7dff82)"></i><i style="background:linear-gradient(90deg,#90ff6f,#8eff71,#8bff74,#89ff76,#87ff78,#86ff79,#86ff79,#86ff79,#87ff78,#8aff75,#8dff72,#91ff6e,#93ff6c,#95ff6a,#96ff69,#94ff6b,#91ff6e)"></i><i style="background:linear-gradient(90deg,#9eff61,#9cff63,#9aff65,#97ff68,#94ff6b,#94ff6b,#94ff6b,#94ff6b,#96ff69,#99ff66,#9dff62,#a2ff5d,#a5ff5a,#a8ff57,#a8ff57,#a7ff58,#a3ff5c)"></i><i style="background:linear-gradient(90deg,#abff54,#a9ff56,#a7ff58,#a4ff5b,#a1ff5e,#a1ff5e,#a1ff5e,#a1ff5e,#a3ff5c,#a6ff59,#abff54,#b1ff4e,#b5ff4a,#b9ff46,#b9ff46,#b8ff47,#b4ff4b)"></i><i style="background:linear-gradient(90deg,#b8ff47,#b6ff49,#b4ff4b,#b1ff4e,#aeff51,#adff52,#aeff51,#aeff51,#b0ff4f,#b4ff4b,#b9ff46,#c1ff3e,#c5ff3a,#c9ff36,#caff35,#c8ff37,#c4ff3b)"></i><i style="background:linear-gradient(90deg,#c4ff3b,#c2ff3d,#c0ff3f,#beff41,#baff45,#baff45,#baff45,#bbff44,#bdff42,#c1ff3e,#c7ff38,#cfff30,#d5ff2a,#d9ff26,#daff25,#d9ff26,#d4ff2b)"></i><i style="background:linear-gradient(90deg,#d0ff2f,#ceff31,#ccff33,#caff35,#c6ff39,#c5ff3a,#c6ff39,#c7ff38,#c9ff36,#cdff32,#d4ff2b,#ddff22,#e4ff1b,#e9ff16,#eaff15,#e8ff17,#e3ff1c)"></i><i style="background:linear-gradient(90deg,#dbff24,#daff25,#d8ff27,#d5ff2a,#d1ff2e,#d0ff2f,#d1ff2e,#d2ff2d,#d4ff2b,#d8ff27,#e0ff1f,#ebff14,#f2ff0d,#f7ff08,#f9ff06,#f7ff08,#f2ff0d)"></i><i style="background:linear-gradient(90deg,#e6ff19,#e5ff1a,#e3ff1c,#e0ff1f,#dbff24,#daff25,#dbff24,#dcff23,#dfff20,#e3ff1c,#ecff13,#f8ff07,#ffff00,#fff900,#fff700,#fff900,#fffe00)"></i><i style="background:linear-gradient(90deg,#f0ff0f,#efff10,#edff12,#e9ff16,#e5ff1a,#e4ff1b,#e4ff1b,#e5ff1a,#e8ff17,#edff12,#f6ff09,#fffa00,#fff200,#ffeb00,#ffe900,#ffec00,#fff200)"></i><i style="background:linear-gradient(90deg,#faff05,#f9ff06,#f6ff09,#f2ff0d,#edff12,#ecff13,#ecff13,#edff12,#f0ff0f,#f5ff0a,#fffe00,#fff000,#ffe600,#ffde00,#ffdc00,#ffdf00,#ffe600)"></i><i style="background:linear-gradient(90deg,#fffa00,#fffc00,#ffff00,#fbff04,#f5ff0a,#f3ff0c,#f3ff0c,#f3ff0c,#f6ff09,#fcff03,#fff600,#ffe600,#ffdb00,#ffd200,#ffd000,#ffd300,#ffdb00)"></i><i style="background:linear-gradient(90deg,#fff100,#fff400,#fff700,#fffc00,#fcff03,#f9ff06,#f9ff06,#f8ff07,#fcff03,#fffb00,#ffee00,#ffdc00,#ffd000,#ffc700,#ffc400,#ffc800,#ffd100)"></i><i style="background:linear-gradient(90deg,#ffe900,#ffec00,#ffef00,#fff500,#fffc00,#ffff00,#feff01,#fdff02,#fffc00,#fff400,#ffe600,#ffd300,#ffc600,#ffbc00,#ffb900,#ffbd00,#ffc700)"></i><i style="background:linear-gradient(90deg,#ffe000,#ffe400,#ffe800,#ffee00,#fff500,#fff900,#fffb00,#fffc00,#fff700,#ffee00,#ffdf00,#ffca00,#ffbc00,#ffb100,#ffae00,#ffb200,#ffbe00)"></i><i style="background:linear-gradient(90deg,#ffd800,#ffdc00,#ffe100,#ffe800,#fff000,#fff400,#fff700,#fff800,#fff300,#ffe900,#ffd900,#ffc200,#ffb300,#ffa600,#ffa300,#ffa800,#ffb600)"></i><i style="background:linear-gradient(90deg,#ffd100,#ffd500,#ffdb00,#ffe200,#ffea00,#ffef00,#fff300,#fff400,#ffee00,#ffe400,#ffd300,#ffbb00,#ffaa00,#ff9d00,#ff9900,#ff9f00,#ffae00)"></i><i style="background:linear-gradient(90deg,#ffca00,#ffcf00,#ffd500,#ffdd00,#ffe500,#ffeb00,#ffef00,#fff000,#ffeb00,#ffe000,#ffcd00,#ffb400,#ffa200,#ff9400,#ff9000,#ff9600,#ffa600)"></i><i style="background:linear-gradient(90deg,#ffc300,#ffc900,#ffcf00,#ffd700,#ffe000,#ffe700,#ffec00,#ffed00,#ffe700,#ffdc00,#ffc800,#ffad00,#ff9b00,#ff8b00,#ff8700,#ff8e00,#ff9f00)"></i><i style="background:linear-gradient(90deg,#ffbd00,#ffc300,#ffca00,#ffd200,#ffdc00,#ffe300,#ffe900,#ffea00,#ffe400,#ffd800,#ffc400,#ffa700,#ff9400,#ff8400,#ff8000,#ff8700,#ff9900)"></i><i style="background:linear-gradient(90deg,#ffb700,#ffbd00,#ffc500,#ffce00,#ffd800,#ffdf00,#ffe600,#ffe800,#ffe100,#ffd500,#ffbf00,#ffa200,#ff8d00,#ff7d00,#ff7900,#ff8100,#ff9300)"></i><i style="background:linear-gradient(90deg,#ffb100,#ffb800,#ffc000,#ffc900,#ffd400,#ffdc00,#ffe300,#ffe500,#ffdf00,#ffd100,#ffbb00,#ff9c00,#ff8700,#ff7600,#ff7200,#ff7a00,#ff8d00)"></i><i style="background:linear-gradient(90deg,#ffab00,#ffb200,#ffbb00,#ffc400,#ffd000,#ffd800,#ffe000,#ffe300,#ffdc00,#ffce00,#ffb700,#ff9600,#ff8100,#ff7000,#ff6c00,#ff7400,#ff8700)"></i><i style="background:linear-gradient(90deg,#ffa600,#ffad00,#ffb600,#ffc000,#ffcc00,#ffd500,#ffde00,#ffe100,#ffd900,#ffcb00,#ffb300,#ff9100,#ff7b00,#ff6a00,#ff6600,#ff6e00,#ff8200)"></i><i style="background:linear-gradient(90deg,#ffa100,#ffa900,#ffb100,#ffbc00,#ffc800,#ffd200,#ffdb00,#ffdf00,#ffd700,#ffc900,#ffaf00,#ff8c00,#ff7600,#ff6500,#ff6000,#ff6900,#ff7d00)"></i><i style="background:linear-gradient(90deg,#ff9d00,#ffa400,#ffad00,#ffb800,#ffc500,#ffd000,#ffd900,#ffdd00,#ffd500,#ffc700,#ffac00,#ff8800,#ff7100,#ff6000,#ff5b00,#ff6400,#ff7900)"></i><i style="background:linear-gradient(90deg,#ff9900,#ffa000,#ffaa00,#ffb500,#ffc300,#ffce00,#ffd800,#ffdc00,#ffd400,#ffc500,#ffaa00,#ff8500,#ff6d00,#ff5b00,#ff5700,#ff6000,#ff7500)"></i><i style="background:linear-gradient(90deg,#ff9500,#ff9d00,#ffa700,#ffb300,#ffc100,#ffcc00,#ffd700,#ffdb00,#ffd300,#ffc400,#ffa900,#ff8200,#ff6a00,#ff5800,#ff5400,#ff5c00,#ff7200)"></i><i style="background:linear-gradient(90deg,#ff9300,#ff9a00,#ffa400,#ffb000,#ffbf00,#ffcb00,#ffd700,#ffdb00,#ffd300,#ffc400,#ffa800,#ff8000,#ff6800,#ff5500,#ff5100,#ff5a00,#ff6f00)"></i><i style="background:linear-gradient(90deg,#ff9000,#ff9800,#ffa100,#ffae00,#ffbe00,#ffcb00,#ffd700,#ffdb00,#ffd300,#ffc400,#ffa700,#ff7f00,#ff6600,#ff5300,#ff4e00,#ff5700,#ff6c00)"></i><i style="background:linear-gradient(90deg,#ff8d00,#ff9500,#ff9f00,#ffac00,#ffbd00,#ffca00,#ffd700,#ffdb00,#ffd300,#ffc400,#ffa700,#ff7e00,#ff6400,#ff5000,#ff4b00,#ff5400,#ff6a00)"></i><i style="background:linear-gradient(90deg,#ff8b00,#ff9200,#ff9c00,#ffaa00,#ffbb00,#ffca00,#ffd600,#ffdb00,#ffd300,#ffc400,#ffa700,#ff7c00,#ff6200,#ff4e00,#ff4900,#ff5200,#ff6700)"></i><i style="background:linear-gradient(90deg,#ff8900,#ff9000,#ff9a00,#ffa800,#ffba00,#ffc900,#ffd600,#ffdb00,#ffd300,#ffc400,#ffa600,#ff7b00,#ff6000,#ff4c00,#ff4700,#ff5000,#ff6500)"></i><i style="background:linear-gradient(90deg,#ff8700,#ff8e00,#ff9800,#ffa700,#ffb900,#ffc900,#ffd600,#ffdb00,#ffd300,#ffc400,#ffa600,#ff7a00,#ff5f00,#ff4a00,#ff4500,#ff4e00,#ff6300)"></i><i style="background:linear-gradient(90deg,#ff8600,#ff8d00,#ff9700,#ffa500,#ffb900,#ffc800,#ffd600,#ffdb00,#ffd300,#ffc400,#ffa600,#ff7900,#ff5e00,#ff4900,#ff4400,#ff4c00,#ff6200)"></i><i style="background:linear-gradient(90deg,#ff8500,#ff8c00,#ff9600,#ffa500,#ffb800,#ffc800,#ffd600,#ffdb00,#ffd300,#ffc400,#ffa600,#ff7900,#ff5d00,#ff4800,#ff4300,#ff4c00,#ff6100)"></i><i style="background:linear-gradient(90deg,#ff8500,#ff8b00,#ff9600,#ffa400,#ffb800,#ffc800,#ffd600,#ffdb00,#ffd300,#ffc400,#ffa500,#ff7900,#ff5d00,#ff4800,#ff4300,#ff4b00,#ff6100)"></i><i style="background:linear-gradient(90deg,#ff8500,#ff8c00,#ff9600,#ffa500,#ffb900,#ffc800,#ffd600,#ffdc00,#ffd400,#ffc500,#ffa600,#ff7900,#ff5d00,#ff4900,#ff4300,#ff4c00,#ff6100)"></i><i style="background:linear-gradient(90deg,#ff8500,#ff8c00,#ff9700,#ffa500,#ffba00,#ffc900,#ffd700,#ffdd00,#ffd500,#ffc600,#ffa700,#ff7b00,#ff5f00,#ff4a00,#ff4500,#ff4d00,#ff6200)"></i><i style="background:linear-gradient(90deg,#ff8600,#ff8d00,#ff9700,#ffa700,#ffbb00,#ffcb00,#ffd900,#ffde00,#ffd700,#ffc800,#ffaa00,#ff7d00,#ff6100,#ff4c00,#ff4700,#ff4f00,#ff6400)"></i><i style="background:linear-gradient(90deg,#ff8600,#ff8e00,#ff9900,#ffa800,#ffbd00,#ffcd00,#ffdb00,#ffe000,#ffd900,#ffcb00,#ffac00,#ff8000,#ff6400,#ff4f00,#ff4900,#ff5100,#ff6600)"></i><i style="background:linear-gradient(90deg,#ff8700,#ff8f00,#ff9a00,#ffaa00,#ffbf00,#ffcf00,#ffdd00,#ffe200,#ffdc00,#ffce00,#ffb000,#ff8300,#ff6700,#ff5200,#ff4c00,#ff5400,#ff6800)"></i><i style="background:linear-gradient(90deg,#ff8800,#ff9000,#ff9c00,#ffac00,#ffc100,#ffd200,#ffe000,#ffe500,#ffde00,#ffd100,#ffb300,#ff8600,#ff6a00,#ff5500,#ff4f00,#ff5700,#ff6a00)"></i><i style="background:linear-gradient(90deg,#ff8800,#ff9100,#ff9d00,#ffae00,#ffc400,#ffd400,#ffe200,#ffe700,#ffe100,#ffd400,#ffb600,#ff8900,#ff6d00,#ff5800,#ff5300,#ff5a00,#ff6d00)"></i><i style="background:linear-gradient(90deg,#ff8900,#ff9200,#ff9e00,#ffb000,#ffc600,#ffd600,#ffe400,#ffe900,#ffe300,#ffd700,#ffb900,#ff8c00,#ff7000,#ff5b00,#ff5600,#ff5c00,#ff6f00)"></i><i style="background:linear-gradient(90deg,#ff8a00,#ff9300,#ffa000,#ffb100,#ffc800,#ffd900,#ffe600,#ffec00,#ffe600,#ffda00,#ffbc00,#ff8f00,#ff7300,#ff5e00,#ff5800,#ff5f00,#ff7100)"></i><i style="background:linear-gradient(90deg,#ff8b00,#ff9400,#ffa100,#ffb300,#ffca00,#ffdb00,#ffe900,#ffee00,#ffe800,#ffdc00,#ffbf00,#ff9200,#ff7500,#ff6100,#ff5b00,#ff6100,#ff7300)"></i><i style="background:linear-gradient(90deg,#ff8c00,#ff9600,#ffa300,#ffb500,#ffcc00,#ffdd00,#ffeb00,#fff000,#ffea00,#ffdf00,#ffc200,#ff9400,#ff7800,#ff6300,#ff5e00,#ff6400,#ff7600)"></i><i style="background:linear-gradient(90deg,#ff8d00,#ff9700,#ffa500,#ffb700,#ffce00,#ffdf00,#ffed00,#fff200,#ffed00,#ffe200,#ffc500,#ff9700,#ff7b00,#ff6600,#ff6100,#ff6700,#ff7800)"></i><i style="background:linear-gradient(90deg,#ff8e00,#ff9900,#ffa600,#ffb900,#ffd100,#ffe200,#fff000,#fff500,#fff000,#ffe500,#ffc800,#ff9a00,#ff7e00,#ff6900,#ff6400,#ff6900,#ff7a00)"></i><i style="background:linear-gradient(90deg,#ff9000,#ff9a00,#ffa800,#ffbb00,#ffd300,#ffe400,#fff200,#fff700,#fff200,#ffe800,#ffcb00,#ff9d00,#ff8100,#ff6c00,#ff6700,#ff6c00,#ff7d00)"></i><i style="background:linear-gradient(90deg,#ff9100,#ff9c00,#ffaa00,#ffbd00,#ffd500,#ffe700,#fff500,#fffa00,#fff500,#ffeb00,#ffcf00,#ffa100,#ff8400,#ff6f00,#ff6a00,#ff6f00,#ff7f00)"></i><i style="background:linear-gradient(90deg,#ff9200,#ff9d00,#ffac00,#ffbf00,#ffd800,#ffe900,#fff700,#fffc00,#fff800,#ffee00,#ffd200,#ffa400,#ff8800,#ff7300,#ff6d00,#ff7200,#ff8200)"></i><i style="background:linear-gradient(90deg,#ff9400,#ff9f00,#ffae00,#ffc200,#ffdb00,#ffec00,#fffa00,#ffff00,#fffb00,#fff100,#ffd500,#ffa700,#ff8b00,#ff7600,#ff7000,#ff7500,#ff8500)"></i></div>
<div class="t yl" style="left:7.9px;top:211px;transform:translateY(0.7px) rotate(0.03deg);">60</div><div class="t yl" style="left:7.9px;top:245px;transform:translateY(0.7px) rotate(0.03deg);">50</div><div class="t yl" style="left:7.9px;top:279px;transform:translateY(0.7px) rotate(0.03deg);">40</div><div class="t yl" style="left:7.9px;top:313px;transform:translateY(0.7px) rotate(0.03deg);">30</div><div class="t yl" style="left:7.9px;top:347px;transform:translateY(0.7px) rotate(0.03deg);">20</div><div class="t yl" style="left:7.9px;top:381px;transform:translateY(0.7px) rotate(0.03deg);">10</div>
<div class="t xl" style="left:15.5px;top:391px;transform:translateY(0.7px) rotate(0.03deg);">70</div><div class="t xl" style="left:45.2px;top:391px;transform:translateY(0.7px) rotate(0.03deg);">80</div><div class="t xl" style="left:74.9px;top:391px;transform:translateY(0.7px) rotate(0.03deg);">90</div><div class="t xl" style="left:104.6px;top:391px;transform:translateY(0.7px) rotate(0.03deg);">100</div><div class="t xl" style="left:134.4px;top:391px;transform:translateY(0.7px) rotate(0.03deg);">110</div><div class="t xl" style="left:164.1px;top:391px;transform:translateY(0.7px) rotate(0.03deg);">120</div><div class="t xl" style="left:193.8px;top:391px;transform:translateY(0.7px) rotate(0.03deg);">130</div><div class="t xl" style="left:223.5px;top:391px;transform:translateY(0.7px) rotate(0.03deg);">140</div><div class="t xl" style="left:85.3px;top:403px;transform:translateY(0.8px) rotate(0.03deg);width:100px;">Longitude/(°)</div>
<div class="ti" style="left:35px;top:199px;transform:translateY(0.5px) rotate(0.03deg);">E<sub>2</sub></div>
<div class="cb" style="left:248px;top:216px;width:12px;height:170.5px"></div><div class="t" style="left:263.5px;top:381px;transform:translateY(0.5px) rotate(0.03deg);">−2.5</div><div class="t" style="left:263.5px;top:360px;transform:translateY(0.25px) rotate(0.03deg);">−2</div><div class="t" style="left:263.5px;top:339px;transform:rotate(0.03deg);">−1.5</div><div class="t" style="left:263.5px;top:317px;transform:translateY(0.75px) rotate(0.03deg);">−1</div><div class="t" style="left:263.5px;top:296px;transform:translateY(0.5px) rotate(0.03deg);">−0.5</div><div class="t" style="left:263.5px;top:275px;transform:translateY(0.25px) rotate(0.03deg);">0</div><div class="t" style="left:263.5px;top:254px;transform:rotate(0.03deg);">0.5</div><div class="t" style="left:263.5px;top:232px;transform:translateY(0.75px) rotate(0.03deg);">1</div><div class="t" style="left:263.5px;top:211px;transform:translateY(0.5px) rotate(0.03deg);">1.5</div><div class="t" style="left:245px;top:200px;transform:translateY(0.6px) rotate(0.03deg);">TECU</div>
<div class="p" style="left:305px;top:216px;width:208px;height:171px"><i style="background:linear-gradient(90deg,#005cff,#0063ff,#006dff,#007aff,#008bff,#009bff,#00abff,#00baff,#00c8ff,#00d4ff,#00e0ff,#00ebff,#00f7ff,#06fff9,#12ffed,#1cffe3,#24ffdb)"></i><i style="background:linear-gradient(90deg,#005cff,#0064ff,#006eff,#007bff,#008cff,#009cff,#00acff,#00bbff,#00c9ff,#00d6ff,#00e1ff,#00ecff,#00f9ff,#08fff7,#13ffec,#1dffe2,#25ffda)"></i><i style="background:linear-gradient(90deg,#005dff,#0064ff,#006fff,#007cff,#008dff,#009dff,#00adff,#00bcff,#00caff,#00d7ff,#00e3ff,#00eeff,#00faff,#09fff6,#15ffea,#1effe1,#26ffd9)"></i><i style="background:linear-gradient(90deg,#005dff,#0065ff,#0070ff,#007dff,#008eff,#009eff,#00aeff,#00bdff,#00cbff,#00d8ff,#00e4ff,#00efff,#00fcff,#0afff5,#16ffe9,#1fffe0,#27ffd8)"></i><i style="background:linear-gradient(90deg,#005eff,#0066ff,#0070ff,#007eff,#008fff,#00a0ff,#00afff,#00beff,#00ccff,#00d9ff,#00e5ff,#00f1ff,#00feff,#0cfff3,#17ffe8,#20ffdf,#28ffd7)"></i><i style="background:linear-gradient(90deg,#005eff,#0066ff,#0071ff,#007fff,#0090ff,#00a1ff,#00b1ff,#00c0ff,#00cdff,#00daff,#00e7ff,#00f3ff,#00ffff,#0dfff2,#18ffe7,#22ffdd,#29ffd6)"></i><i style="background:linear-gradient(90deg,#005fff,#0067ff,#0072ff,#0080ff,#0091ff,#00a2ff,#00b2ff,#00c1ff,#00cfff,#00dcff,#00e8ff,#00f4ff,#02fffd,#0efff1,#19ffe6,#23ffdc,#2affd5)"></i><i style="background:linear-gradient(90deg,#005fff,#0068ff,#0073ff,#0081ff,#0093ff,#00a3ff,#00b3ff,#00c2ff,#00d0ff,#00ddff,#00e9ff,#00f6ff,#03fffc,#10ffef,#1bffe4,#24ffdb,#2bffd4)"></i><i style="background:linear-gradient(90deg,#0060ff,#0069ff,#0074ff,#0082ff,#0094ff,#00a4ff,#00b4ff,#00c3ff,#00d1ff,#00deff,#00ebff,#00f7ff,#05fffa,#11ffee,#1cffe3,#25ffda,#2cffd3)"></i><i style="background:linear-gradient(90deg,#0061ff,#0069ff,#0075ff,#0083ff,#0095ff,#00a6ff,#00b6ff,#00c4ff,#00d2ff,#00dfff,#00ecff,#00f9ff,#06fff9,#12ffed,#1dffe2,#26ffd9,#2dffd2)"></i><i style="background:linear-gradient(90deg,#0061ff,#006aff,#0076ff,#0084ff,#0096ff,#00a7ff,#00b7ff,#00c6ff,#00d3ff,#00e0ff,#00edff,#00faff,#07fff8,#14ffeb,#1effe1,#27ffd8,#2effd1)"></i><i style="background:linear-gradient(90deg,#0062ff,#006bff,#0076ff,#0085ff,#0097ff,#00a8ff,#00b8ff,#00c7ff,#00d4ff,#00e2ff,#00efff,#00fcff,#09fff6,#15ffea,#1fffe0,#28ffd7,#2fffd0)"></i><i style="background:linear-gradient(90deg,#0063ff,#006cff,#0077ff,#0086ff,#0098ff,#00a9ff,#00b9ff,#00c8ff,#00d6ff,#00e3ff,#00f0ff,#00fdff,#0afff5,#16ffe9,#20ffdf,#29ffd6,#30ffcf)"></i><i style="background:linear-gradient(90deg,#0063ff,#006cff,#0078ff,#0087ff,#0099ff,#00abff,#00baff,#00c9ff,#00d7ff,#00e4ff,#00f1ff,#00feff,#0cfff3,#18ffe7,#22ffdd,#2affd5,#31ffce)"></i><i style="background:linear-gradient(90deg,#0064ff,#006dff,#0079ff,#0088ff,#009bff,#00acff,#00bcff,#00caff,#00d8ff,#00e5ff,#00f3ff,#01fffe,#0dfff2,#19ffe6,#23ffdc,#2bffd4,#31ffce)"></i><i style="background:linear-gradient(90deg,#0065ff,#006eff,#007aff,#0089ff,#009cff,#00adff,#00bdff,#00ccff,#00d9ff,#00e6ff,#00f4ff,#02fffd,#0efff1,#1affe5,#24ffdb,#2cffd3,#32ffcd)"></i><i style="background:linear-gradient(90deg,#0065ff,#006fff,#007bff,#008aff,#009dff,#00aeff,#00beff,#00cdff,#00daff,#00e8ff,#00f5ff,#03fffc,#10ffef,#1cffe3,#25ffda,#2dffd2,#33ffcc)"></i><i style="background:linear-gradient(90deg,#0066ff,#006fff,#007cff,#008bff,#009eff,#00afff,#00bfff,#00ceff,#00dcff,#00e9ff,#00f6ff,#05fffa,#11ffee,#1dffe2,#26ffd9,#2dffd2,#33ffcc)"></i><i style="background:linear-gradient(90deg,#0067ff,#0070ff,#007dff,#008cff,#009fff,#00b1ff,#00c0ff,#00cfff,#00ddff,#00eaff,#00f8ff,#06fff9,#13ffec,#1effe1,#27ffd8,#2effd1,#33ffcc)"></i><i style="background:linear-gradient(90deg,#0068ff,#0071ff,#007dff,#008dff,#00a0ff,#00b2ff,#00c2ff,#00d1ff,#00deff,#00ebff,#00f9ff,#07fff8,#14ffeb,#20ffdf,#28ffd7,#2fffd0,#34ffcb)"></i><i style="background:linear-gradient(90deg,#0068ff,#0072ff,#007eff,#008eff,#00a1ff,#00b3ff,#00c3ff,#00d2ff,#00dfff,#00ecff,#00faff,#09fff6,#15ffea,#21ffde,#2affd5,#30ffcf,#34ffcb)"></i><i style="background:linear-gradient(90deg,#0069ff,#0073ff,#007fff,#008fff,#00a3ff,#00b4ff,#00c4ff,#00d3ff,#00e1ff,#00eeff,#00fbff,#0afff5,#17ffe8,#22ffdd,#2bffd4,#31ffce,#35ffca)"></i><i style="background:linear-gradient(90deg,#006aff,#0074ff,#0080ff,#0090ff,#00a4ff,#00b6ff,#00c6ff,#00d4ff,#00e2ff,#00efff,#00fdff,#0bfff4,#18ffe7,#24ffdb,#2cffd3,#32ffcd,#35ffca)"></i><i style="background:linear-gradient(90deg,#006bff,#0074ff,#0081ff,#0091ff,#00a5ff,#00b7ff,#00c7ff,#00d6ff,#00e3ff,#00f0ff,#00feff,#0dfff2,#19ffe6,#25ffda,#2dffd2,#33ffcc,#36ffc9)"></i><i style="background:linear-gradient(90deg,#006cff,#0075ff,#0082ff,#0092ff,#00a6ff,#00b8ff,#00c8ff,#00d7ff,#00e5ff,#00f2ff,#00ffff,#0efff1,#1affe5,#27ffd8,#2effd1,#34ffcb,#36ffc9)"></i><i style="background:linear-gradient(90deg,#006dff,#0076ff,#0082ff,#0093ff,#00a7ff,#00b9ff,#00c9ff,#00d8ff,#00e6ff,#00f3ff,#02fffd,#0ffff0,#1cffe3,#28ffd7,#30ffcf,#34ffcb,#36ffc9)"></i><i style="background:linear-gradient(90deg,#006eff,#0077ff,#0083ff,#0094ff,#00a8ff,#00baff,#00cbff,#00daff,#00e7ff,#00f4ff,#03fffc,#10ffef,#1dffe2,#2affd5,#31ffce,#35ffca,#37ffc8)"></i><i style="background:linear-gradient(90deg,#006fff,#0078ff,#0084ff,#0095ff,#00a9ff,#00bcff,#00ccff,#00dbff,#00e9ff,#00f6ff,#04fffb,#11ffee,#1effe1,#2bffd4,#32ffcd,#36ffc9,#37ffc8)"></i><i style="background:linear-gradient(90deg,#0070ff,#0079ff,#0085ff,#0095ff,#00aaff,#00bdff,#00cdff,#00dcff,#00eaff,#00f7ff,#05fffa,#13ffec,#20ffdf,#2cffd3,#33ffcc,#36ffc9,#37ffc8)"></i><i style="background:linear-gradient(90deg,#0071ff,#007aff,#0086ff,#0096ff,#00acff,#00beff,#00ceff,#00ddff,#00ebff,#00f8ff,#07fff8,#14ffeb,#21ffde,#2effd1,#34ffcb,#37ffc8,#38ffc7)"></i><i style="background:linear-gradient(90deg,#0072ff,#007bff,#0087ff,#0097ff,#00adff,#00bfff,#00d0ff,#00dfff,#00ecff,#00f9ff,#08fff7,#15ffea,#22ffdd,#2fffd0,#35ffca,#37ffc8,#38ffc7)"></i><i style="background:linear-gradient(90deg,#0073ff,#007bff,#0088ff,#0098ff,#00aeff,#00c1ff,#00d1ff,#00e0ff,#00edff,#00faff,#09fff6,#16ffe9,#23ffdc,#30ffcf,#36ffc9,#37ffc8,#38ffc7)"></i><i style="background:linear-gradient(90deg,#0073ff,#007cff,#0089ff,#0099ff,#00afff,#00c2ff,#00d2ff,#00e1ff,#00eeff,#00fbff,#0afff5,#17ffe8,#24ffdb,#32ffcd,#37ffc8,#38ffc7,#38ffc7)"></i><i style="background:linear-gradient(90deg,#0074ff,#007dff,#008aff,#009bff,#00b0ff,#00c3ff,#00d3ff,#00e2ff,#00efff,#00fcff,#0bfff4,#18ffe7,#25ffda,#33ffcc,#37ffc8,#38ffc7,#38ffc7)"></i><i style="background:linear-gradient(90deg,#0075ff,#007eff,#008bff,#009cff,#00b1ff,#00c4ff,#00d4ff,#00e2ff,#00f0ff,#00fdff,#0cfff3,#19ffe6,#26ffd9,#34ffcb,#38ffc7,#38ffc7,#38ffc7)"></i><i style="background:linear-gradient(90deg,#0076ff,#007fff,#008cff,#009dff,#00b3ff,#00c5ff,#00d5ff,#00e3ff,#00f1ff,#00feff,#0dfff2,#1affe5,#28ffd7,#35ffca,#39ffc6,#39ffc6,#38ffc7)"></i><i style="background:linear-gradient(90deg,#0077ff,#0080ff,#008dff,#009eff,#00b4ff,#00c6ff,#00d6ff,#00e4ff,#00f2ff,#00ffff,#0efff1,#1bffe4,#29ffd6,#36ffc9,#3affc5,#39ffc6,#38ffc7)"></i><i style="background:linear-gradient(90deg,#0078ff,#0081ff,#008eff,#009fff,#00b5ff,#00c8ff,#00d7ff,#00e5ff,#00f2ff,#01fffe,#0ffff0,#1dffe2,#2affd5,#37ffc8,#3bffc4,#3affc5,#38ffc7)"></i><i style="background:linear-gradient(90deg,#0079ff,#0082ff,#008fff,#00a1ff,#00b7ff,#00c9ff,#00d8ff,#00e6ff,#00f3ff,#01fffe,#10ffef,#1effe1,#2bffd4,#38ffc7,#3bffc4,#3bffc4,#37ffc8)"></i><i style="background:linear-gradient(90deg,#007aff,#0083ff,#0090ff,#00a2ff,#00b8ff,#00caff,#00d9ff,#00e6ff,#00f4ff,#02fffd,#11ffee,#1fffe0,#2cffd3,#39ffc6,#3cffc3,#3bffc4,#37ffc8)"></i><i style="background:linear-gradient(90deg,#007bff,#0084ff,#0092ff,#00a3ff,#00baff,#00ccff,#00daff,#00e7ff,#00f5ff,#03fffc,#11ffee,#20ffdf,#2dffd2,#39ffc6,#3dffc2,#3cffc3,#36ffc9)"></i><i style="background:linear-gradient(90deg,#007cff,#0085ff,#0093ff,#00a5ff,#00bbff,#00cdff,#00dbff,#00e8ff,#00f5ff,#04fffb,#12ffed,#21ffde,#2effd1,#3affc5,#3effc1,#3cffc3,#36ffc9)"></i><i style="background:linear-gradient(90deg,#007dff,#0087ff,#0094ff,#00a6ff,#00bdff,#00ceff,#00dcff,#00e9ff,#00f6ff,#04fffb,#13ffec,#22ffdd,#2fffd0,#3bffc4,#3effc1,#3cffc3,#35ffca)"></i><i style="background:linear-gradient(90deg,#007dff,#0088ff,#0095ff,#00a7ff,#00beff,#00d0ff,#00ddff,#00e9ff,#00f7ff,#05fffa,#14ffeb,#23ffdc,#30ffcf,#3cffc3,#3fffc0,#3dffc2,#34ffcb)"></i><i style="background:linear-gradient(90deg,#007eff,#0089ff,#0097ff,#00a9ff,#00c0ff,#00d1ff,#00deff,#00eaff,#00f7ff,#06fff9,#15ffea,#24ffdb,#31ffce,#3dffc2,#40ffbf,#3dffc2,#34ffcb)"></i><i style="background:linear-gradient(90deg,#007fff,#008aff,#0098ff,#00aaff,#00c1ff,#00d2ff,#00deff,#00ebff,#00f8ff,#06fff9,#16ffe9,#25ffda,#32ffcd,#3dffc2,#40ffbf,#3dffc2,#33ffcc)"></i><i style="background:linear-gradient(90deg,#0080ff,#008bff,#0099ff,#00abff,#00c2ff,#00d3ff,#00dfff,#00ebff,#00f8ff,#07fff8,#16ffe9,#26ffd9,#33ffcc,#3effc1,#41ffbe,#3dffc2,#32ffcd)"></i><i style="background:linear-gradient(90deg,#0081ff,#008cff,#009aff,#00adff,#00c3ff,#00d4ff,#00e0ff,#00ecff,#00f9ff,#07fff8,#17ffe8,#27ffd8,#33ffcc,#3effc1,#41ffbe,#3dffc2,#31ffce)"></i><i style="background:linear-gradient(90deg,#0082ff,#008dff,#009bff,#00aeff,#00c4ff,#00d5ff,#00e0ff,#00ecff,#00f9ff,#08fff7,#17ffe8,#28ffd7,#34ffcb,#3fffc0,#42ffbd,#3dffc2,#30ffcf)"></i><i style="background:linear-gradient(90deg,#0083ff,#008eff,#009dff,#00afff,#00c5ff,#00d6ff,#00e1ff,#00ecff,#00f9ff,#08fff7,#18ffe7,#28ffd7,#34ffcb,#3fffc0,#42ffbd,#3cffc3,#30ffcf)"></i><i style="background:linear-gradient(90deg,#0084ff,#008fff,#009eff,#00b0ff,#00c6ff,#00d6ff,#00e1ff,#00ecff,#00f9ff,#08fff7,#18ffe7,#28ffd7,#35ffca,#3fffc0,#42ffbd,#3cffc3,#2fffd0)"></i><i style="background:linear-gradient(90deg,#0085ff,#0090ff,#009fff,#00b1ff,#00c7ff,#00d7ff,#00e1ff,#00ecff,#00f9ff,#08fff7,#18ffe7,#28ffd7,#35ffca,#3fffc0,#42ffbd,#3cffc3,#2effd1)"></i><i style="background:linear-gradient(90deg,#0085ff,#0091ff,#00a0ff,#00b2ff,#00c8ff,#00d7ff,#00e1ff,#00ecff,#00f9ff,#08fff7,#18ffe7,#28ffd7,#35ffca,#3fffc0,#42ffbd,#3bffc4,#2dffd2)"></i><i style="background:linear-gradient(90deg,#0086ff,#0092ff,#00a1ff,#00b3ff,#00c8ff,#00d7ff,#00e2ff,#00ecff,#00f9ff,#08fff7,#18ffe7,#28ffd7,#34ffcb,#3fffc0,#42ffbd,#3bffc4,#2cffd3)"></i><i style="background:linear-gradient(90deg,#0087ff,#0094ff,#00a2ff,#00b4ff,#00c9ff,#00d8ff,#00e2ff,#00ecff,#00f9ff,#08fff7,#18ffe7,#28ffd7,#34ffcb,#3fffc0,#41ffbe,#3affc5,#2bffd4)"></i><i style="background:linear-gradient(90deg,#0088ff,#0095ff,#00a3ff,#00b5ff,#00caff,#00d8ff,#00e2ff,#00ecff,#00f9ff,#08fff7,#17ffe8,#27ffd8,#34ffcb,#3effc1,#41ffbe,#39ffc6,#2affd5)"></i><i style="background:linear-gradient(90deg,#0089ff,#0096ff,#00a4ff,#00b6ff,#00caff,#00d8ff,#00e2ff,#00ecff,#00f9ff,#07fff8,#17ffe8,#27ffd8,#33ffcc,#3dffc2,#40ffbf,#39ffc6,#29ffd6)"></i><i style="background:linear-gradient(90deg,#008aff,#0097ff,#00a6ff,#00b7ff,#00cbff,#00d9ff,#00e2ff,#00ecff,#00f8ff,#07fff8,#16ffe9,#26ffd9,#32ffcd,#3dffc2,#3fffc0,#38ffc7,#27ffd8)"></i><i style="background:linear-gradient(90deg,#008bff,#0098ff,#00a7ff,#00b8ff,#00cbff,#00d9ff,#00e2ff,#00ecff,#00f8ff,#07fff8,#16ffe9,#26ffd9,#32ffcd,#3cffc3,#3effc1,#36ffc9,#26ffd9)"></i><i style="background:linear-gradient(90deg,#008cff,#0099ff,#00a8ff,#00b9ff,#00ccff,#00d9ff,#00e2ff,#00ecff,#00f8ff,#06fff9,#15ffea,#25ffda,#31ffce,#3bffc4,#3dffc2,#35ffca,#25ffda)"></i><i style="background:linear-gradient(90deg,#008dff,#009aff,#00a9ff,#00baff,#00ccff,#00daff,#00e3ff,#00ecff,#00f8ff,#06fff9,#15ffea,#24ffdb,#30ffcf,#3affc5,#3cffc3,#34ffcb,#23ffdc)"></i><i style="background:linear-gradient(90deg,#008eff,#009bff,#00aaff,#00bbff,#00cdff,#00daff,#00e3ff,#00ecff,#00f8ff,#05fffa,#14ffeb,#23ffdc,#2fffd0,#38ffc7,#3bffc4,#33ffcc,#22ffdd)"></i><i style="background:linear-gradient(90deg,#008fff,#009cff,#00abff,#00bcff,#00cdff,#00daff,#00e3ff,#00ecff,#00f7ff,#04fffb,#13ffec,#22ffdd,#2effd1,#37ffc8,#39ffc6,#31ffce,#20ffdf)"></i><i style="background:linear-gradient(90deg,#0090ff,#009dff,#00acff,#00bcff,#00ceff,#00daff,#00e3ff,#00ecff,#00f7ff,#04fffb,#12ffed,#21ffde,#2dffd2,#36ffc9,#38ffc7,#30ffcf,#1fffe0)"></i><i style="background:linear-gradient(90deg,#0090ff,#009eff,#00adff,#00bdff,#00ceff,#00daff,#00e3ff,#00ecff,#00f7ff,#03fffc,#11ffee,#20ffdf,#2bffd4,#34ffcb,#37ffc8,#2effd1,#1dffe2)"></i><i style="background:linear-gradient(90deg,#0091ff,#009fff,#00adff,#00bdff,#00ceff,#00dbff,#00e3ff,#00ecff,#00f6ff,#03fffc,#11ffee,#1fffe0,#2affd5,#33ffcc,#35ffca,#2dffd2,#1cffe3)"></i><i style="background:linear-gradient(90deg,#0092ff,#009fff,#00aeff,#00beff,#00ceff,#00dbff,#00e3ff,#00ecff,#00f6ff,#02fffd,#10ffef,#1effe1,#29ffd6,#32ffcd,#34ffcb,#2bffd4,#1affe5)"></i><i style="background:linear-gradient(90deg,#0092ff,#00a0ff,#00aeff,#00beff,#00cfff,#00dbff,#00e3ff,#00ecff,#00f6ff,#01fffe,#0ffff0,#1dffe2,#28ffd7,#30ffcf,#32ffcd,#2affd5,#19ffe6)"></i><i style="background:linear-gradient(90deg,#0093ff,#00a0ff,#00aeff,#00beff,#00cfff,#00dbff,#00e3ff,#00ecff,#00f5ff,#00ffff,#0efff1,#1cffe3,#26ffd9,#2fffd0,#30ffcf,#28ffd7,#17ffe8)"></i><i style="background:linear-gradient(90deg,#0093ff,#00a0ff,#00aeff,#00beff,#00ceff,#00dbff,#00e3ff,#00ecff,#00f5ff,#00ffff,#0dfff2,#1bffe4,#25ffda,#2dffd2,#2fffd0,#27ffd8,#16ffe9)"></i><i style="background:linear-gradient(90deg,#0094ff,#00a1ff,#00aeff,#00beff,#00ceff,#00daff,#00e3ff,#00ecff,#00f4ff,#00feff,#0bfff4,#19ffe6,#23ffdc,#2bffd4,#2dffd2,#25ffda,#15ffea)"></i><i style="background:linear-gradient(90deg,#0094ff,#00a1ff,#00aeff,#00beff,#00ceff,#00daff,#00e3ff,#00ebff,#00f4ff,#00fdff,#0afff5,#18ffe7,#21ffde,#29ffd6,#2bffd4,#23ffdc,#14ffeb)"></i><i style="background:linear-gradient(90deg,#0095ff,#00a1ff,#00aeff,#00bdff,#00ceff,#00daff,#00e2ff,#00eaff,#00f3ff,#00fbff,#08fff7,#16ffe9,#1fffe0,#27ffd8,#29ffd6,#22ffdd,#12ffed)"></i><i style="background:linear-gradient(90deg,#0095ff,#00a1ff,#00aeff,#00bdff,#00cdff,#00d9ff,#00e2ff,#00eaff,#00f2ff,#00faff,#07fff8,#14ffeb,#1dffe2,#25ffda,#27ffd8,#20ffdf,#11ffee)"></i><i style="background:linear-gradient(90deg,#0096ff,#00a1ff,#00aeff,#00bcff,#00ccff,#00d8ff,#00e1ff,#00e9ff,#00f0ff,#00f9ff,#05fffa,#12ffed,#1bffe4,#23ffdc,#24ffdb,#1effe1,#10ffef)"></i><i style="background:linear-gradient(90deg,#0096ff,#00a1ff,#00aeff,#00bcff,#00ccff,#00d7ff,#00e0ff,#00e8ff,#00efff,#00f7ff,#03fffc,#0ffff0,#18ffe7,#20ffdf,#22ffdd,#1cffe3,#0ffff0)"></i><i style="background:linear-gradient(90deg,#0097ff,#00a1ff,#00adff,#00bbff,#00cbff,#00d6ff,#00dfff,#00e6ff,#00edff,#00f5ff,#01fffe,#0dfff2,#16ffe9,#1dffe2,#1fffe0,#19ffe6,#0dfff2)"></i><i style="background:linear-gradient(90deg,#0097ff,#00a1ff,#00adff,#00bbff,#00caff,#00d5ff,#00ddff,#00e5ff,#00ecff,#00f3ff,#00fdff,#0afff5,#13ffec,#1affe5,#1cffe3,#17ffe8,#0cfff3)"></i><i style="background:linear-gradient(90deg,#0098ff,#00a2ff,#00adff,#00baff,#00c9ff,#00d4ff,#00dcff,#00e3ff,#00eaff,#00f1ff,#00fbff,#07fff8,#0ffff0,#17ffe8,#19ffe6,#15ffea,#0bfff4)"></i><i style="background:linear-gradient(90deg,#0098ff,#00a2ff,#00acff,#00b9ff,#00c8ff,#00d3ff,#00dbff,#00e2ff,#00e8ff,#00efff,#00f8ff,#04fffb,#0cfff3,#13ffec,#15ffea,#12ffed,#09fff6)"></i><i style="background:linear-gradient(90deg,#0098ff,#00a1ff,#00acff,#00b9ff,#00c7ff,#00d1ff,#00d9ff,#00e0ff,#00e6ff,#00ecff,#00f5ff,#00ffff,#08fff7,#10ffef,#12ffed,#0ffff0,#08fff7)"></i><i style="background:linear-gradient(90deg,#0099ff,#00a1ff,#00acff,#00b8ff,#00c6ff,#00d0ff,#00d7ff,#00deff,#00e4ff,#00e9ff,#00f2ff,#00fbff,#05fffa,#0cfff3,#0efff1,#0cfff3,#06fff9)"></i><i style="background:linear-gradient(90deg,#0099ff,#00a1ff,#00abff,#00b7ff,#00c5ff,#00ceff,#00d6ff,#00dcff,#00e1ff,#00e7ff,#00eeff,#00f8ff,#01fffe,#08fff7,#0afff5,#09fff6,#04fffb)"></i><i style="background:linear-gradient(90deg,#0099ff,#00a1ff,#00abff,#00b6ff,#00c3ff,#00cdff,#00d4ff,#00daff,#00deff,#00e3ff,#00ebff,#00f3ff,#00fbff,#04fffb,#06fff9,#05fffa,#02fffd)"></i><i style="background:linear-gradient(90deg,#0099ff,#00a1ff,#00aaff,#00b5ff,#00c2ff,#00cbff,#00d2ff,#00d7ff,#00dcff,#00e0ff,#00e7ff,#00efff,#00f7ff,#00feff,#02fffd,#01fffe,#00feff)"></i><i style="background:linear-gradient(90deg,#0099ff,#00a1ff,#00aaff,#00b4ff,#00c0ff,#00c9ff,#00d0ff,#00d5ff,#00d9ff,#00ddff,#00e3ff,#00ebff,#00f2ff,#00faff,#00fcff,#00fcff,#00fcff)"></i><i style="background:linear-gradient(90deg,#0099ff,#00a0ff,#00a9ff,#00b3ff,#00beff,#00c7ff,#00cdff,#00d1ff,#00d5ff,#00d8ff,#00deff,#00e5ff,#00ecff,#00f4ff,#00f7ff,#00f8ff,#00f9ff)"></i><i style="background:linear-gradient(90deg,#0099ff,#00a0ff,#00a8ff,#00b1ff,#00bcff,#00c3ff,#00c8ff,#00ccff,#00cfff,#00d1ff,#00d7ff,#00deff,#00e5ff,#00ecff,#00f1ff,#00f3ff,#00f4ff)"></i><i style="background:linear-gradient(90deg,#0099ff,#00a0ff,#00a7ff,#00afff,#00b8ff,#00beff,#00c2ff,#00c5ff,#00c7ff,#00c9ff,#00ceff,#00d5ff,#00dcff,#00e4ff,#00e9ff,#00edff,#00efff)"></i><i style="background:linear-gradient(90deg,#0099ff,#009fff,#00a5ff,#00adff,#00b4ff,#00b8ff,#00bbff,#00bdff,#00bfff,#00c0ff,#00c4ff,#00cbff,#00d2ff,#00dbff,#00e1ff,#00e6ff,#00e9ff)"></i><i style="background:linear-gradient(90deg,#0099ff,#009eff,#00a4ff,#00aaff,#00afff,#00b2ff,#00b3ff,#00b4ff,#00b5ff,#00b6ff,#00b9ff,#00c0ff,#00c8ff,#00d1ff,#00d8ff,#00deff,#00e2ff)"></i><i style="background:linear-gradient(90deg,#0099ff,#009eff,#00a2ff,#00a6ff,#00abff,#00abff,#00abff,#00abff,#00abff,#00abff,#00aeff,#00b5ff,#00bdff,#00c7ff,#00cfff,#00d6ff,#00dbff)"></i><i style="background:linear-gradient(90deg,#0099ff,#009dff,#00a0ff,#00a3ff,#00a5ff,#00a5ff,#00a3ff,#00a1ff,#00a0ff,#00a0ff,#00a2ff,#00a9ff,#00b1ff,#00bcff,#00c5ff,#00cdff,#00d4ff)"></i><i style="background:linear-gradient(90deg,#0099ff,#009cff,#009eff,#009fff,#009fff,#009fff,#009bff,#0097ff,#0095ff,#0094ff,#0097ff,#009eff,#00a6ff,#00b1ff,#00bbff,#00c4ff,#00ccff)"></i><i style="background:linear-gradient(90deg,#0099ff,#009bff,#009cff,#009bff,#009aff,#0097ff,#0092ff,#008eff,#008bff,#0089ff,#008bff,#0092ff,#009aff,#00a6ff,#00b1ff,#00bbff,#00c4ff)"></i><i style="background:linear-gradient(90deg,#0099ff,#0099ff,#0098ff,#0097ff,#0094ff,#0090ff,#0089ff,#0083ff,#007fff,#007dff,#007fff,#0085ff,#008eff,#009aff,#00a6ff,#00b0ff,#00baff)"></i><i style="background:linear-gradient(90deg,#0098ff,#0097ff,#0095ff,#0092ff,#008dff,#0087ff,#007eff,#0077ff,#0072ff,#006fff,#0071ff,#0077ff,#0080ff,#008dff,#009aff,#00a5ff,#00b0ff)"></i><i style="background:linear-gradient(90deg,#0097ff,#0095ff,#0091ff,#008cff,#0086ff,#007eff,#0073ff,#006bff,#0064ff,#0061ff,#0063ff,#0069ff,#0072ff,#0080ff,#008dff,#0099ff,#00a4ff)"></i><i style="background:linear-gradient(90deg,#0096ff,#0092ff,#008dff,#0086ff,#007eff,#0074ff,#0068ff,#005eff,#0056ff,#0052ff,#0054ff,#005aff,#0063ff,#0072ff,#0080ff,#008cff,#0098ff)"></i><i style="background:linear-gradient(90deg,#0094ff,#008fff,#0088ff,#0080ff,#0076ff,#006aff,#005cff,#0051ff,#0048ff,#0043ff,#0045ff,#004bff,#0054ff,#0063ff,#0072ff,#007fff,#008cff)"></i><i style="background:linear-gradient(90deg,#0093ff,#008cff,#0083ff,#007aff,#006eff,#0061ff,#0051ff,#0044ff,#003aff,#0035ff,#0037ff,#003cff,#0045ff,#0055ff,#0065ff,#0073ff,#0080ff)"></i><i style="background:linear-gradient(90deg,#0091ff,#0089ff,#007fff,#0074ff,#0067ff,#0058ff,#0046ff,#0038ff,#002dff,#0027ff,#0028ff,#002eff,#0037ff,#0048ff,#0058ff,#0067ff,#0075ff)"></i><i style="background:linear-gradient(90deg,#0090ff,#0086ff,#007bff,#006eff,#0060ff,#004fff,#003cff,#002cff,#0020ff,#001aff,#001bff,#0021ff,#002aff,#003bff,#004cff,#005bff,#006bff)"></i><i style="background:linear-gradient(90deg,#008eff,#0083ff,#0077ff,#0069ff,#0059ff,#0047ff,#0031ff,#0020ff,#0014ff,#000cff,#000eff,#0013ff,#001cff,#002eff,#003fff,#0050ff,#0061ff)"></i><i style="background:linear-gradient(90deg,#008bff,#007fff,#0072ff,#0063ff,#0051ff,#003eff,#0026ff,#0014ff,#0006ff,#0000fd,#0000fe,#0004ff,#000dff,#001fff,#0032ff,#0045ff,#0058ff)"></i><i style="background:linear-gradient(90deg,#0087ff,#007bff,#006dff,#005cff,#004aff,#0034ff,#001bff,#0007ff,#0000f6,#0000ee,#0000ef,#0000f4,#0000fd,#0011ff,#0025ff,#0039ff,#004eff)"></i><i style="background:linear-gradient(90deg,#0084ff,#0077ff,#0068ff,#0056ff,#0042ff,#002bff,#000fff,#0000f9,#0000e9,#0000e0,#0000e1,#0000e5,#0000ee,#0002ff,#0017ff,#002dff,#0045ff)"></i><i style="background:linear-gradient(90deg,#0080ff,#0073ff,#0063ff,#0051ff,#003bff,#0023ff,#0005ff,#0000ed,#0000dc,#0000d2,#0000d3,#0000d8,#0000e0,#0000f4,#000bff,#0022ff,#003cff)"></i><i style="background:linear-gradient(90deg,#007dff,#0070ff,#005fff,#004cff,#0035ff,#001cff,#0000fb,#0000e3,#0000d1,#0000c7,#0000c8,#0000cc,#0000d4,#0000e8,#0000ff,#0018ff,#0034ff)"></i><i style="background:linear-gradient(90deg,#007bff,#006dff,#005cff,#0048ff,#0030ff,#0015ff,#0000f4,#0000da,#0000c8,#0000be,#0000bf,#0000c3,#0000ca,#0000de,#0000f5,#000fff,#002cff)"></i><i style="background:linear-gradient(90deg,#007aff,#006bff,#005aff,#0045ff,#002dff,#0011ff,#0000ee,#0000d5,#0000c3,#0000b9,#0000ba,#0000bd,#0000c4,#0000d8,#0000ee,#0008ff,#0026ff)"></i><i style="background:linear-gradient(90deg,#0079ff,#006bff,#0059ff,#0044ff,#002bff,#000fff,#0000ec,#0000d3,#0000c1,#0000b7,#0000b8,#0000ba,#0000c1,#0000d4,#0000ea,#0003ff,#0020ff)"></i><i style="background:linear-gradient(90deg,#0079ff,#006aff,#0058ff,#0043ff,#0029ff,#000dff,#0000ea,#0000d1,#0000bf,#0000b6,#0000b7,#0000b8,#0000be,#0000d1,#0000e6,#0000fe,#001aff)"></i><i style="background:linear-gradient(90deg,#007aff,#006aff,#0058ff,#0042ff,#0028ff,#000bff,#0000e8,#0000cf,#0000be,#0000b5,#0000b6,#0000b7,#0000bc,#0000ce,#0000e2,#0000f9,#0015ff)"></i><i style="background:linear-gradient(90deg,#007aff,#006aff,#0057ff,#0041ff,#0026ff,#0009ff,#0000e6,#0000cd,#0000bd,#0000b5,#0000b5,#0000b6,#0000ba,#0000cb,#0000df,#0000f5,#000fff)"></i><i style="background:linear-gradient(90deg,#007aff,#006aff,#0057ff,#0040ff,#0025ff,#0008ff,#0000e5,#0000cc,#0000bc,#0000b4,#0000b4,#0000b5,#0000b9,#0000c9,#0000dc,#0000f1,#000aff)"></i><i style="background:linear-gradient(90deg,#007bff,#006aff,#0056ff,#003fff,#0024ff,#0007ff,#0000e3,#0000cb,#0000bc,#0000b3,#0000b3,#0000b4,#0000b7,#0000c7,#0000d9,#0000ee,#0006ff)"></i><i style="background:linear-gradient(90deg,#007bff,#006aff,#0056ff,#003fff,#0023ff,#0006ff,#0000e2,#0000ca,#0000bb,#0000b3,#0000b3,#0000b3,#0000b6,#0000c6,#0000d7,#0000eb,#0003ff)"></i><i style="background:linear-gradient(90deg,#007cff,#006aff,#0056ff,#003eff,#0023ff,#0005ff,#0000e2,#0000ca,#0000bb,#0000b3,#0000b3,#0000b3,#0000b6,#0000c5,#0000d6,#0000e9,#0001ff)"></i><i style="background:linear-gradient(90deg,#007cff,#006bff,#0056ff,#003eff,#0023ff,#0005ff,#0000e2,#0000ca,#0000bb,#0000b3,#0000b2,#0000b2,#0000b6,#0000c5,#0000d6,#0000e9,#0000ff)"></i><i style="background:linear-gradient(90deg,#007eff,#006cff,#0057ff,#003fff,#0023ff,#0006ff,#0000e3,#0000cb,#0000bc,#0000b4,#0000b4,#0000b4,#0000b7,#0000c5,#0000d6,#0000e9,#0000ff)"></i><i style="background:linear-gradient(90deg,#0081ff,#006eff,#0059ff,#0041ff,#0026ff,#0009ff,#0000e7,#0000cf,#0000c1,#0000b9,#0000b8,#0000b8,#0000bb,#0000c8,#0000d8,#0000ea,#0000ff)"></i><i style="background:linear-gradient(90deg,#0085ff,#0072ff,#005dff,#0045ff,#002aff,#000dff,#0000ec,#0000d6,#0000c9,#0000c1,#0000bf,#0000be,#0000c0,#0000cc,#0000da,#0000eb,#0000ff)"></i><i style="background:linear-gradient(90deg,#008aff,#0077ff,#0061ff,#0049ff,#002eff,#0013ff,#0000f3,#0000df,#0000d3,#0000cb,#0000c8,#0000c6,#0000c8,#0000d1,#0000dd,#0000ec,#0000ff)"></i><i style="background:linear-gradient(90deg,#0090ff,#007dff,#0067ff,#004fff,#0034ff,#0019ff,#0000fc,#0000e9,#0000de,#0000d7,#0000d2,#0000cf,#0000d0,#0000d7,#0000e0,#0000ee,#0000ff)"></i><i style="background:linear-gradient(90deg,#0096ff,#0083ff,#006eff,#0055ff,#003bff,#0021ff,#0007ff,#0000f4,#0000ea,#0000e3,#0000de,#0000da,#0000da,#0000de,#0000e4,#0000ef,#0000ff)"></i><i style="background:linear-gradient(90deg,#009eff,#008aff,#0075ff,#005dff,#0042ff,#0029ff,#0011ff,#0001ff,#0000f7,#0000f1,#0000ea,#0000e5,#0000e4,#0000e6,#0000e8,#0000f1,#0000ff)"></i><i style="background:linear-gradient(90deg,#00a5ff,#0092ff,#007cff,#0064ff,#004aff,#0032ff,#001cff,#000dff,#0005ff,#0000fe,#0000f7,#0000f1,#0000ee,#0000ed,#0000ed,#0000f4,#0000ff)"></i><i style="background:linear-gradient(90deg,#00aeff,#009aff,#0084ff,#006cff,#0052ff,#003cff,#0027ff,#001aff,#0013ff,#000dff,#0006ff,#0000fd,#0000f8,#0000f4,#0000f3,#0000f7,#0000ff)"></i><i style="background:linear-gradient(90deg,#00b9ff,#00a5ff,#008fff,#0078ff,#005eff,#0049ff,#0036ff,#0029ff,#0023ff,#001dff,#0016ff,#000dff,#0006ff,#0000fe,#0000fc,#0000fd,#0004ff)"></i><i style="background:linear-gradient(90deg,#00c6ff,#00b3ff,#009eff,#0086ff,#006dff,#0059ff,#0047ff,#003cff,#0036ff,#0030ff,#0028ff,#001fff,#0015ff,#000bff,#0007ff,#0008ff,#000aff)"></i><i style="background:linear-gradient(90deg,#00d6ff,#00c3ff,#00aeff,#0097ff,#007fff,#006cff,#005bff,#0050ff,#004bff,#0046ff,#003dff,#0033ff,#0027ff,#0019ff,#0014ff,#0013ff,#0013ff)"></i><i style="background:linear-gradient(90deg,#00e7ff,#00d5ff,#00c1ff,#00aaff,#0093ff,#0080ff,#0071ff,#0067ff,#0061ff,#005cff,#0053ff,#0048ff,#003aff,#002aff,#0022ff,#001fff,#001eff)"></i><i style="background:linear-gradient(90deg,#00faff,#00e8ff,#00d4ff,#00bfff,#00a8ff,#0096ff,#0088ff,#007eff,#0079ff,#0074ff,#006bff,#005eff,#004fff,#003cff,#0031ff,#002cff,#002aff)"></i><i style="background:linear-gradient(90deg,#0dfff2,#00fbff,#00e9ff,#00d4ff,#00beff,#00adff,#009fff,#0096ff,#0091ff,#008bff,#0082ff,#0075ff,#0064ff,#004eff,#0041ff,#003aff,#0037ff)"></i><i style="background:linear-gradient(90deg,#20ffdf,#10ffef,#00fdff,#00e9ff,#00d3ff,#00c3ff,#00b6ff,#00adff,#00a8ff,#00a3ff,#0099ff,#008bff,#0079ff,#0061ff,#0052ff,#0048ff,#0044ff)"></i><i style="background:linear-gradient(90deg,#33ffcc,#23ffdc,#11ffee,#00fdff,#00e8ff,#00d8ff,#00ccff,#00c4ff,#00bfff,#00baff,#00b0ff,#00a1ff,#008eff,#0074ff,#0062ff,#0057ff,#0052ff)"></i><i style="background:linear-gradient(90deg,#46ffb9,#36ffc9,#25ffda,#12ffed,#00fdff,#00eeff,#00e2ff,#00daff,#00d5ff,#00d0ff,#00c6ff,#00b7ff,#00a3ff,#0087ff,#0074ff,#0067ff,#0060ff)"></i><i style="background:linear-gradient(90deg,#5affa5,#4affb5,#3affc5,#27ffd8,#14ffeb,#05fffa,#00f9ff,#00f0ff,#00ecff,#00e7ff,#00dcff,#00cdff,#00b8ff,#009dff,#0088ff,#007aff,#0071ff)"></i><i style="background:linear-gradient(90deg,#6fff90,#60ff9f,#50ffaf,#3effc1,#2affd5,#1cffe3,#10ffef,#08fff7,#04fffb,#00feff,#00f3ff,#00e3ff,#00ceff,#00b3ff,#009eff,#008eff,#0083ff)"></i><i style="background:linear-gradient(90deg,#84ff7b,#76ff89,#66ff99,#54ffab,#41ffbe,#33ffcc,#27ffd8,#1fffe0,#1bffe4,#16ffe9,#0cfff3,#00faff,#00e5ff,#00cbff,#00b5ff,#00a4ff,#0097ff)"></i><i style="background:linear-gradient(90deg,#9aff65,#8cff73,#7dff82,#6bff94,#59ffa6,#4bffb4,#3fffc0,#37ffc8,#32ffcd,#2effd1,#23ffdc,#12ffed,#00fcff,#00e3ff,#00cdff,#00bbff,#00adff)"></i><i style="background:linear-gradient(90deg,#b0ff4f,#a2ff5d,#93ff6c,#83ff7c,#71ff8e,#62ff9d,#56ffa9,#4effb1,#4affb5,#45ffba,#3affc5,#29ffd6,#15ffea,#00fbff,#00e6ff,#00d3ff,#00c3ff)"></i><i style="background:linear-gradient(90deg,#c6ff39,#b8ff47,#aaff55,#9aff65,#88ff77,#7aff85,#6eff91,#66ff99,#61ff9e,#5dffa2,#52ffad,#40ffbf,#2dffd2,#15ffea,#00feff,#00ebff,#00d9ff)"></i><i style="background:linear-gradient(90deg,#dbff24,#ceff31,#c0ff3f,#b1ff4e,#a0ff5f,#92ff6d,#86ff79,#7dff82,#79ff86,#75ff8a,#6aff95,#58ffa7,#44ffbb,#2dffd2,#17ffe8,#03fffc,#00efff)"></i><i style="background:linear-gradient(90deg,#f0ff0f,#e3ff1c,#d6ff29,#c7ff38,#b7ff48,#a9ff56,#9dff62,#95ff6a,#91ff6e,#8cff73,#81ff7e,#70ff8f,#5cffa3,#45ffba,#2effd1,#1affe5,#06fff9)"></i><i style="background:linear-gradient(90deg,#fff900,#f9ff06,#ecff13,#ddff22,#ceff31,#c1ff3e,#b5ff4a,#acff53,#a8ff57,#a4ff5b,#99ff66,#88ff77,#74ff8b,#5dffa2,#46ffb9,#31ffce,#1cffe3)"></i><i style="background:linear-gradient(90deg,#ffe400,#fff000,#fffd00,#f4ff0b,#e5ff1a,#d8ff27,#ccff33,#c4ff3b,#c0ff3f,#bcff43,#b1ff4e,#a0ff5f,#8cff73,#75ff8a,#5effa1,#48ffb7,#33ffcc)"></i><i style="background:linear-gradient(90deg,#ffcf00,#ffdb00,#ffe700,#fff400,#fcff03,#f0ff0f,#e4ff1b,#dcff23,#d8ff27,#d3ff2c,#c9ff36,#b8ff47,#a5ff5a,#8dff72,#75ff8a,#60ff9f,#4affb5)"></i><i style="background:linear-gradient(90deg,#ffba00,#ffc500,#ffd100,#ffde00,#ffeb00,#fff600,#fcff03,#f4ff0b,#f0ff0f,#ebff14,#e1ff1e,#d1ff2e,#bdff42,#a5ff5a,#8dff72,#77ff88,#62ff9d)"></i><i style="background:linear-gradient(90deg,#ffa500,#ffb000,#ffbc00,#ffc700,#ffd300,#ffdf00,#ffea00,#fff200,#fff600,#fffb00,#f9ff06,#eaff15,#d6ff29,#bdff42,#a6ff59,#8fff70,#7aff85)"></i><i style="background:linear-gradient(90deg,#ff9100,#ff9c00,#ffa600,#ffb100,#ffbc00,#ffc700,#ffd200,#ffda00,#ffde00,#ffe200,#ffec00,#fffc00,#efff10,#d6ff29,#beff41,#a7ff58,#92ff6d)"></i><i style="background:linear-gradient(90deg,#ff7e00,#ff8800,#ff9200,#ff9b00,#ffa500,#ffaf00,#ffba00,#ffc100,#ffc600,#ffca00,#ffd400,#ffe300,#fff600,#efff10,#d6ff29,#bfff40,#aaff55)"></i><i style="background:linear-gradient(90deg,#ff6b00,#ff7400,#ff7d00,#ff8600,#ff8f00,#ff9800,#ffa200,#ffa900,#ffad00,#ffb200,#ffbb00,#ffca00,#ffdd00,#fff700,#eeff11,#d7ff28,#c2ff3d)"></i><i style="background:linear-gradient(90deg,#ff5900,#ff6000,#ff6800,#ff7000,#ff7700,#ff7f00,#ff8900,#ff9000,#ff9300,#ff9800,#ffa100,#ffb000,#ffc300,#ffde00,#fff700,#f0ff0f,#daff25)"></i><i style="background:linear-gradient(90deg,#ff4600,#ff4c00,#ff5200,#ff5800,#ff5f00,#ff6600,#ff6e00,#ff7400,#ff7800,#ff7c00,#ff8500,#ff9400,#ffa800,#ffc300,#ffdd00,#fff400,#f4ff0b)"></i><i style="background:linear-gradient(90deg,#ff3400,#ff3800,#ff3c00,#ff4100,#ff4500,#ff4b00,#ff5200,#ff5800,#ff5b00,#ff5f00,#ff6800,#ff7700,#ff8b00,#ffa700,#ffc200,#ffda00,#fff000)"></i><i style="background:linear-gradient(90deg,#ff2300,#ff2400,#ff2700,#ff2900,#ff2c00,#ff3100,#ff3700,#ff3c00,#ff3f00,#ff4200,#ff4b00,#ff5b00,#ff6f00,#ff8c00,#ffa700,#ffbf00,#ffd700)"></i><i style="background:linear-gradient(90deg,#ff1200,#ff1200,#ff1200,#ff1300,#ff1400,#ff1700,#ff1c00,#ff2100,#ff2400,#ff2700,#ff2f00,#ff3f00,#ff5400,#ff7100,#ff8d00,#ffa600,#ffbd00)"></i><i style="background:linear-gradient(90deg,#ff0200,#ff0000,#fd0000,#fd0000,#fd0000,#fe0000,#ff0400,#ff0800,#ff0a00,#ff0d00,#ff1500,#ff2600,#ff3b00,#ff5800,#ff7400,#ff8d00,#ffa500)"></i><i style="background:linear-gradient(90deg,#f30000,#ef0000,#ec0000,#ea0000,#e90000,#ea0000,#ed0000,#f10000,#f30000,#f50000,#fd0000,#ff0f00,#ff2400,#ff4100,#ff5d00,#ff7600,#ff8e00)"></i><i style="background:linear-gradient(90deg,#e60000,#e10000,#dd0000,#db0000,#d90000,#d80000,#db0000,#de0000,#e00000,#e20000,#ea0000,#fa0000,#ff1000,#ff2d00,#ff4800,#ff6200,#ff7a00)"></i><i style="background:linear-gradient(90deg,#db0000,#d60000,#d10000,#ce0000,#cb0000,#cb0000,#cd0000,#d00000,#d10000,#d40000,#dc0000,#eb0000,#ff0000,#ff1c00,#ff3700,#ff4f00,#ff6700)"></i><i style="background:linear-gradient(90deg,#d10000,#cb0000,#c60000,#c20000,#bf0000,#be0000,#c00000,#c20000,#c40000,#c60000,#ce0000,#dd0000,#f00000,#ff0c00,#ff2600,#ff3e00,#ff5600)"></i><i style="background:linear-gradient(90deg,#c70000,#c10000,#bb0000,#b70000,#b30000,#b20000,#b40000,#b50000,#b70000,#b90000,#c10000,#cf0000,#e10000,#fb0000,#ff1600,#ff2e00,#ff4500)"></i><i style="background:linear-gradient(90deg,#be0000,#b70000,#b10000,#ac0000,#a80000,#a70000,#a80000,#a90000,#ab0000,#ad0000,#b40000,#c20000,#d40000,#ed0000,#ff0700,#ff1e00,#ff3500)"></i><i style="background:linear-gradient(90deg,#b60000,#ae0000,#a80000,#a30000,#9e0000,#9d0000,#9e0000,#9f0000,#a00000,#a30000,#a90000,#b60000,#c80000,#e00000,#f80000,#ff1000,#ff2600)"></i><i style="background:linear-gradient(90deg,#ae0000,#a70000,#a00000,#9a0000,#950000,#940000,#950000,#950000,#970000,#990000,#a00000,#ac0000,#bd0000,#d40000,#eb0000,#ff0200,#ff1900)"></i><i style="background:linear-gradient(90deg,#a80000,#a00000,#990000,#930000,#8e0000,#8d0000,#8d0000,#8e0000,#8f0000,#920000,#980000,#a40000,#b30000,#c90000,#df0000,#f50000,#ff0c00)"></i><i style="background:linear-gradient(90deg,#a20000,#9b0000,#940000,#8e0000,#890000,#880000,#880000,#880000,#890000,#8c0000,#920000,#9d0000,#ac0000,#c00000,#d50000,#ea0000,#ff0000)"></i><i style="background:linear-gradient(90deg,#9e0000,#970000,#900000,#8b0000,#860000,#850000,#850000,#850000,#860000,#890000,#8f0000,#990000,#a60000,#b90000,#cc0000,#e00000,#f50000)"></i></div>
<div class="t yl" style="left:281.9px;top:211px;transform:translateY(0.7px) rotate(0.03deg);">60</div><div class="t yl" style="left:281.9px;top:245px;transform:translateY(0.7px) rotate(0.03deg);">50</div><div class="t yl" style="left:281.9px;top:279px;transform:translateY(0.7px) rotate(0.03deg);">40</div><div class="t yl" style="left:281.9px;top:313px;transform:translateY(0.7px) rotate(0.03deg);">30</div><div class="t yl" style="left:281.9px;top:347px;transform:translateY(0.7px) rotate(0.03deg);">20</div><div class="t yl" style="left:281.9px;top:381px;transform:translateY(0.7px) rotate(0.03deg);">10</div>
<div class="t xl" style="left:289.5px;top:391px;transform:translateY(0.7px) rotate(0.03deg);">70</div><div class="t xl" style="left:319.1px;top:391px;transform:translateY(0.7px) rotate(0.03deg);">80</div><div class="t xl" style="left:348.6px;top:391px;transform:translateY(0.7px) rotate(0.03deg);">90</div><div class="t xl" style="left:378.2px;top:391px;transform:translateY(0.7px) rotate(0.03deg);">100</div><div class="t xl" style="left:407.8px;top:391px;transform:translateY(0.7px) rotate(0.03deg);">110</div><div class="t xl" style="left:437.4px;top:391px;transform:translateY(0.7px) rotate(0.03deg);">120</div><div class="t xl" style="left:466.9px;top:391px;transform:translateY(0.7px) rotate(0.03deg);">130</div><div class="t xl" style="left:496.5px;top:391px;transform:translateY(0.7px) rotate(0.03deg);">140</div><div class="t xl" style="left:358.8px;top:403px;transform:translateY(0.8px) rotate(0.03deg);width:100px;">Longitude/(°)</div>
<div class="ti" style="left:308.5px;top:199px;transform:translateY(0.5px) rotate(0.03deg);">E<sub>3</sub></div>
<div class="cb" style="left:518px;top:216px;width:12px;height:170.5px"></div><div class="t" style="left:533.5px;top:381px;transform:translateY(0.5px) rotate(0.03deg);">−2</div><div class="t" style="left:533.5px;top:347px;transform:translateY(0.5px) rotate(0.03deg);">−1</div><div class="t" style="left:533.5px;top:313px;transform:translateY(0.5px) rotate(0.03deg);">0</div><div class="t" style="left:533.5px;top:279px;transform:translateY(0.5px) rotate(0.03deg);">1</div><div class="t" style="left:533.5px;top:245px;transform:translateY(0.5px) rotate(0.03deg);">2</div><div class="t" style="left:533.5px;top:211px;transform:translateY(0.5px) rotate(0.03deg);">3</div><div class="t" style="left:518.3px;top:200px;transform:translateY(0.6px) rotate(0.03deg);">TECU</div>
<div class="t" style="left:-29.7px;top:100px;width:80px;text-align:center;font-size:10.5px;transform:rotate(-90deg);transform-origin:center center">Latitude/(°)</div>
<div class="t" style="left:-29.7px;top:296px;width:80px;text-align:center;font-size:10.5px;transform:rotate(-90deg);transform-origin:center center">Latitude/(°)</div>
<svg class="ov" width="550" height="419" viewBox="0 0 550 419"><clipPath id="c0"><rect x="31.5" y="20.5" width="208" height="170"/></clipPath><path clip-path="url(#c0)" d="M31.5,146.3 L32.4,151.1 L34.2,153.8 L36.3,153.4 L38.0,152.1 L38.9,149.0 L39.8,151.1 L40.1,154.8 L39.8,159.9 L41.0,165.0 L42.2,170.4 L44.3,175.9 L45.8,180.3 L47.8,185.1 L49.3,188.5 L50.2,190.5 M60.6,190.5 L60.8,186.1 L62.1,180.0 L61.5,175.2 L62.1,171.8 L64.8,170.1 L68.0,167.7 L71.3,164.3 L75.8,159.6 L79.0,156.8 L81.7,154.5 L82.3,152.1 L85.0,150.7 L88.0,150.4 L91.8,150.0 L93.3,147.7 L95.4,147.7 L96.6,150.4 L97.8,154.1 L100.1,157.2 L102.8,161.3 L104.3,165.7 L103.7,170.4 L106.7,171.1 L109.4,169.4 L111.4,166.7 L113.2,168.4 L113.8,172.8 L115.0,177.6 L116.5,182.7 L116.5,187.1 L116.2,190.5 M118.3,190.5 L119.2,186.4 L120.3,182.7 L120.9,178.9 L123.3,178.9 L123.6,181.3 L127.2,183.4 L129.3,185.4 L130.2,188.1 L132.5,188.8 L134.3,189.8 L135.2,190.5 M140.6,190.5 L142.0,189.1 L144.4,187.8 L147.4,185.7 L148.3,182.0 L148.3,178.3 L147.4,174.5 L146.5,171.8 L145.0,169.4 L142.6,167.0 L140.3,164.0 L138.5,161.3 L137.6,158.2 L139.1,155.8 L140.8,153.8 L143.2,152.1 L145.6,150.7 L148.0,151.4 L149.5,152.1 L149.8,154.5 L150.7,155.5 L151.8,154.5 L151.2,152.4 L153.3,151.4 L156.3,150.4 L159.3,149.4 L160.8,148.3 L161.1,147.0 L162.8,148.3 L165.2,147.3 L168.2,146.6 L170.6,144.9 L173.5,142.6 L175.0,140.9 L177.1,138.5 L178.9,136.1 L180.1,133.4 L182.2,129.6 L184.8,126.6 L185.7,123.9 L185.1,122.5 L182.7,121.5 L184.5,119.8 L185.7,118.4 L184.8,116.4 L182.7,113.7 L181.6,110.3 L179.5,107.2 L177.7,105.5 L179.5,103.1 L181.3,101.8 L183.3,99.7 L186.9,99.0 L187.8,97.3 L184.5,97.0 L182.2,96.0 L179.5,97.7 L177.1,97.7 L176.8,95.6 L174.1,94.3 L173.2,92.2 L175.0,91.6 L177.4,90.9 L179.5,88.8 L182.7,86.1 L185.1,85.4 L186.6,86.8 L184.8,88.8 L184.5,90.9 L183.6,92.6 L186.3,91.6 L189.9,89.5 L192.8,88.8 L195.2,90.2 L195.8,92.9 L194.3,95.0 L196.7,96.0 L198.8,96.3 L199.7,98.7 L198.8,100.1 L199.7,102.8 L199.1,105.5 L199.1,107.2 L201.5,107.2 L203.2,106.2 L205.6,105.8 L207.4,104.8 L208.3,102.1 L208.0,98.7 L205.9,95.3 L204.1,92.6 L202.4,90.9 L202.7,89.2 L205.3,88.2 L208.9,85.8 L209.2,83.1 L211.6,80.7 L213.1,79.3 L215.4,78.0 L218.7,79.0 L221.7,76.9 L226.1,73.5 L230.0,69.1 L233.6,65.0 L236.5,61.6 L239.5,59.3 M146.5,158.9 L148.3,156.8 L150.7,156.2 L153.0,156.5 L153.3,157.9 L151.8,160.6 L149.8,162.3 L148.0,162.3 L146.5,161.3 L146.5,158.9 M184.8,138.5 L185.7,139.8 L185.4,141.9 L184.5,144.6 L183.6,147.0 L182.7,149.7 L181.9,148.3 L180.7,146.6 L180.4,144.3 L181.6,141.9 L183.0,139.5 L184.8,138.5 M181.9,161.6 L183.6,161.3 L186.6,161.6 L186.9,165.7 L187.5,168.1 L185.1,170.1 L184.8,173.5 L185.4,176.2 L187.8,175.9 L189.6,177.2 L191.7,177.9 L192.3,181.7 L191.4,180.6 L189.0,178.6 L187.8,179.6 L186.9,178.3 L185.1,177.2 L183.0,177.9 L181.9,176.2 L182.7,174.9 L181.6,174.5 L180.4,174.2 L179.8,170.8 L179.5,169.1 L181.0,169.8 L181.0,167.4 L181.3,164.7 L181.9,161.6 M181.3,178.6 L183.3,178.9 L184.5,181.0 L183.6,183.0 L182.4,182.0 L181.3,178.6 M192.8,182.0 L195.8,182.0 L196.4,185.1 L197.0,186.8 L194.9,186.4 L194.6,184.4 L192.8,182.0 M186.0,184.0 L189.3,185.1 L188.4,187.4 L186.3,189.1 L185.7,187.1 L186.0,184.0 M193.1,185.7 L194.9,186.8 L195.5,189.5 L195.2,190.5 M194.0,190.5 L193.1,187.4 L193.1,185.7 M188.7,190.5 L189.0,187.4 L190.5,187.4 L189.9,190.5 M192.0,186.4 L191.1,189.1 L190.5,190.5 M189.6,182.0 L191.7,183.0 L192.0,184.0 L190.2,183.7 L189.6,182.0 M178.6,185.7 L179.2,188.5 L177.7,190.5 M176.5,190.5 L178.0,187.4 L178.6,185.7 M212.5,109.2 L214.8,110.3 L215.7,113.0 L213.9,117.7 L211.9,119.1 L210.4,118.1 L210.7,115.4 L211.6,113.3 L209.2,113.3 L208.9,111.3 L211.0,110.3 L212.5,109.2 M217.2,109.2 L219.0,108.9 L220.8,107.9 L223.5,108.2 L223.8,109.6 L222.3,111.3 L220.5,110.6 L218.7,113.0 L217.2,111.6 L217.2,109.2 M239.5,105.2 L238.9,105.7 L238.6,104.1 L236.8,104.8 L235.9,106.9 L234.2,106.9 L230.6,106.9 L230.0,105.5 L229.1,106.9 L230.3,107.9 L228.5,108.6 L227.0,110.6 L224.9,109.2 L225.2,106.9 L223.2,106.5 L220.2,107.5 L216.9,107.9 L215.4,109.2 L212.8,108.9 L213.9,107.2 L216.6,104.8 L219.6,103.5 L223.2,103.1 L225.5,103.5 L227.6,103.1 L227.9,101.1 L230.0,98.7 L231.5,97.0 L230.6,99.0 L234.2,98.0 L236.2,95.6 L238.3,92.9 L239.5,90.2 M239.5,43.6 L238.3,40.2 L235.6,39.9 L234.7,41.9 L232.4,42.3 L231.5,41.2 L230.9,39.9 L230.0,41.6 L227.6,39.9 L225.5,38.5 L230.0,36.1 L233.6,32.7 L235.9,30.4 L239.5,28.0 M131.6,49.1 L134.6,49.4 L137.9,47.7 L141.4,45.7 L145.0,42.9 L148.3,39.5 L150.1,35.5 L148.9,34.8 L147.1,37.8 L143.8,41.6 L140.3,44.0 L136.7,46.3 L133.7,48.4 L131.6,49.1 M41.6,68.1 L42.5,66.4 L45.2,65.4 L49.3,65.2 L53.8,66.1 L58.8,65.7 L58.8,66.7 L53.8,67.1 L49.3,66.6 L45.8,67.1 L44.0,68.8 L43.7,70.8 L42.8,71.5 L41.9,69.8 L41.6,68.1 M203.0,135.8 L203.5,134.4 L204.4,133.4 L203.8,134.7 L203.0,135.8 M207.4,128.6 L208.3,127.9 L208.9,127.6 L208.0,128.6 L207.4,128.6 M98.5,185.4 L99.0,183.0 L99.4,180.6 L99.7,178.9 L99.2,181.7 L98.7,184.0 L98.5,185.4 M98.1,188.8 L98.5,187.8 L98.2,188.6 L98.1,188.8" fill="none" stroke="#1a1a26" stroke-width="0.65" stroke-linejoin="round"/><path d="M61.2,190.5 v-2.2 M61.2,20.5 v2.2 M90.9,190.5 v-2.2 M90.9,20.5 v2.2 M120.6,190.5 v-2.2 M120.6,20.5 v2.2 M150.4,190.5 v-2.2 M150.4,20.5 v2.2 M180.1,190.5 v-2.2 M180.1,20.5 v2.2 M209.8,190.5 v-2.2 M209.8,20.5 v2.2 M31.5,54.5 h2.2 M239.5,54.5 h-2.2 M31.5,88.5 h2.2 M239.5,88.5 h-2.2 M31.5,122.5 h2.2 M239.5,122.5 h-2.2 M31.5,156.5 h2.2 M239.5,156.5 h-2.2" fill="none" stroke="#14141e" stroke-width="0.6" opacity="0.75"/><rect x="31.5" y="20.5" width="208" height="170" fill="none" stroke="#111118" stroke-width="1"/><path d="M260,162.2 h-2 M260,133.8 h-2 M260,105.5 h-2 M260,77.2 h-2 M260,48.8 h-2" fill="none" stroke="#14141e" stroke-width="0.6" opacity="0.75"/><clipPath id="c1"><rect x="305.5" y="20.5" width="207" height="170"/></clipPath><path clip-path="url(#c1)" d="M305.5,146.3 L306.4,151.1 L308.2,153.8 L310.2,153.4 L312.0,152.1 L312.9,149.0 L313.8,151.1 L314.1,154.8 L313.8,159.9 L315.0,165.0 L316.1,170.4 L318.2,175.9 L319.7,180.3 L321.8,185.1 L323.2,188.5 L324.1,190.5 M334.5,190.5 L334.6,186.1 L336.0,180.0 L335.4,175.2 L336.0,171.8 L338.6,170.1 L341.9,167.7 L345.1,164.3 L349.6,159.6 L352.8,156.8 L355.5,154.5 L356.1,152.1 L358.7,150.7 L361.7,150.4 L365.5,150.0 L367.0,147.7 L369.1,147.7 L370.3,150.4 L371.4,154.1 L373.8,157.2 L376.5,161.3 L377.9,165.7 L377.4,170.4 L380.3,171.1 L383.0,169.4 L385.0,166.7 L386.8,168.4 L387.4,172.8 L388.6,177.6 L390.1,182.7 L390.1,187.1 L389.8,190.5 M391.8,190.5 L392.7,186.4 L393.9,182.7 L394.5,178.9 L396.9,178.9 L397.2,181.3 L400.7,183.4 L402.8,185.4 L403.7,188.1 L406.0,188.8 L407.8,189.8 L408.7,190.5 M414.0,190.5 L415.5,189.1 L417.9,187.8 L420.8,185.7 L421.7,182.0 L421.7,178.3 L420.8,174.5 L419.9,171.8 L418.5,169.4 L416.1,167.0 L413.7,164.0 L412.0,161.3 L411.1,158.2 L412.5,155.8 L414.3,153.8 L416.7,152.1 L419.1,150.7 L421.4,151.4 L422.9,152.1 L423.2,154.5 L424.1,155.5 L425.3,154.5 L424.7,152.4 L426.7,151.4 L429.7,150.4 L432.7,149.4 L434.1,148.3 L434.4,147.0 L436.2,148.3 L438.6,147.3 L441.5,146.6 L443.9,144.9 L446.9,142.6 L448.3,140.9 L450.4,138.5 L452.2,136.1 L453.4,133.4 L455.4,129.6 L458.1,126.6 L459.0,123.9 L458.4,122.5 L456.0,121.5 L457.8,119.8 L459.0,118.4 L458.1,116.4 L456.0,113.7 L454.8,110.3 L452.8,107.2 L451.0,105.5 L452.8,103.1 L454.5,101.8 L456.6,99.7 L460.2,99.0 L461.0,97.3 L457.8,97.0 L455.4,96.0 L452.8,97.7 L450.4,97.7 L450.1,95.6 L447.4,94.3 L446.6,92.2 L448.3,91.6 L450.7,90.9 L452.8,88.8 L456.0,86.1 L458.4,85.4 L459.9,86.8 L458.1,88.8 L457.8,90.9 L456.9,92.6 L459.6,91.6 L463.1,89.5 L466.1,88.8 L468.4,90.2 L469.0,92.9 L467.6,95.0 L469.9,96.0 L472.0,96.3 L472.9,98.7 L472.0,100.1 L472.9,102.8 L472.3,105.5 L472.3,107.2 L474.6,107.2 L476.4,106.2 L478.8,105.8 L480.6,104.8 L481.5,102.1 L481.2,98.7 L479.1,95.3 L477.3,92.6 L475.5,90.9 L475.8,89.2 L478.5,88.2 L482.0,85.8 L482.3,83.1 L484.7,80.7 L486.2,79.3 L488.5,78.0 L491.8,79.0 L494.8,76.9 L499.2,73.5 L503.0,69.1 L506.6,65.0 L509.5,61.6 L512.5,59.3 M419.9,158.9 L421.7,156.8 L424.1,156.2 L426.4,156.5 L426.7,157.9 L425.3,160.6 L423.2,162.3 L421.4,162.3 L419.9,161.3 L419.9,158.9 M458.1,138.5 L459.0,139.8 L458.7,141.9 L457.8,144.6 L456.9,147.0 L456.0,149.7 L455.1,148.3 L453.9,146.6 L453.7,144.3 L454.8,141.9 L456.3,139.5 L458.1,138.5 M455.1,161.6 L456.9,161.3 L459.9,161.6 L460.2,165.7 L460.8,168.1 L458.4,170.1 L458.1,173.5 L458.7,176.2 L461.0,175.9 L462.8,177.2 L464.9,177.9 L465.5,181.7 L464.6,180.6 L462.2,178.6 L461.0,179.6 L460.2,178.3 L458.4,177.2 L456.3,177.9 L455.1,176.2 L456.0,174.9 L454.8,174.5 L453.7,174.2 L453.1,170.8 L452.8,169.1 L454.2,169.8 L454.2,167.4 L454.5,164.7 L455.1,161.6 M454.5,178.6 L456.6,178.9 L457.8,181.0 L456.9,183.0 L455.7,182.0 L454.5,178.6 M466.1,182.0 L469.0,182.0 L469.6,185.1 L470.2,186.8 L468.1,186.4 L467.8,184.4 L466.1,182.0 M459.3,184.0 L462.5,185.1 L461.6,187.4 L459.6,189.1 L459.0,187.1 L459.3,184.0 M466.4,185.7 L468.1,186.8 L468.7,189.5 L468.4,190.5 M467.3,190.5 L466.4,187.4 L466.4,185.7 M461.9,190.5 L462.2,187.4 L463.7,187.4 L463.1,190.5 M465.2,186.4 L464.3,189.1 L463.7,190.5 M462.8,182.0 L464.9,183.0 L465.2,184.0 L463.4,183.7 L462.8,182.0 M451.9,185.7 L452.5,188.5 L451.0,190.5 M449.8,190.5 L451.3,187.4 L451.9,185.7 M485.6,109.2 L488.0,110.3 L488.8,113.0 L487.1,117.7 L485.0,119.1 L483.5,118.1 L483.8,115.4 L484.7,113.3 L482.3,113.3 L482.0,111.3 L484.1,110.3 L485.6,109.2 M490.3,109.2 L492.1,108.9 L493.9,107.9 L496.5,108.2 L496.8,109.6 L495.3,111.3 L493.6,110.6 L491.8,113.0 L490.3,111.6 L490.3,109.2 M512.5,105.2 L511.9,105.7 L511.6,104.1 L509.8,104.8 L509.0,106.9 L507.2,106.9 L503.6,106.9 L503.0,105.5 L502.1,106.9 L503.3,107.9 L501.6,108.6 L500.1,110.6 L498.0,109.2 L498.3,106.9 L496.2,106.5 L493.3,107.5 L490.0,107.9 L488.5,109.2 L485.9,108.9 L487.1,107.2 L489.7,104.8 L492.7,103.5 L496.2,103.1 L498.6,103.5 L500.7,103.1 L501.0,101.1 L503.0,98.7 L504.5,97.0 L503.6,99.0 L507.2,98.0 L509.2,95.6 L511.3,92.9 L512.5,90.2 M512.5,43.6 L511.3,40.2 L508.7,39.9 L507.8,41.9 L505.4,42.3 L504.5,41.2 L503.9,39.9 L503.0,41.6 L500.7,39.9 L498.6,38.5 L503.0,36.1 L506.6,32.7 L509.0,30.4 L512.5,28.0 M405.2,49.1 L408.1,49.4 L411.4,47.7 L414.9,45.7 L418.5,42.9 L421.7,39.5 L423.5,35.5 L422.3,34.8 L420.5,37.8 L417.3,41.6 L413.7,44.0 L410.2,46.3 L407.2,48.4 L405.2,49.1 M315.6,68.1 L316.4,66.4 L319.1,65.4 L323.2,65.2 L327.7,66.1 L332.7,65.7 L332.7,66.7 L327.7,67.1 L323.2,66.6 L319.7,67.1 L317.9,68.8 L317.6,70.8 L316.7,71.5 L315.9,69.8 L315.6,68.1 M476.1,135.8 L476.7,134.4 L477.6,133.4 L477.0,134.7 L476.1,135.8 M480.6,128.6 L481.5,127.9 L482.0,127.6 L481.2,128.6 L480.6,128.6 M372.2,185.4 L372.6,183.0 L373.1,180.6 L373.4,178.9 L372.9,181.7 L372.3,184.0 L372.2,185.4 M371.7,188.8 L372.2,187.8 L371.9,188.6 L371.7,188.8" fill="none" stroke="#1a1a26" stroke-width="0.65" stroke-linejoin="round"/><path d="M335.1,190.5 v-2.2 M335.1,20.5 v2.2 M364.6,190.5 v-2.2 M364.6,20.5 v2.2 M394.2,190.5 v-2.2 M394.2,20.5 v2.2 M423.8,190.5 v-2.2 M423.8,20.5 v2.2 M453.4,190.5 v-2.2 M453.4,20.5 v2.2 M482.9,190.5 v-2.2 M482.9,20.5 v2.2 M305.5,54.5 h2.2 M512.5,54.5 h-2.2 M305.5,88.5 h2.2 M512.5,88.5 h-2.2 M305.5,122.5 h2.2 M512.5,122.5 h-2.2 M305.5,156.5 h2.2 M512.5,156.5 h-2.2" fill="none" stroke="#14141e" stroke-width="0.6" opacity="0.75"/><rect x="305.5" y="20.5" width="207" height="170" fill="none" stroke="#111118" stroke-width="1"/><path d="M530,169.2 h-2 M530,148.0 h-2 M530,126.8 h-2 M530,105.5 h-2 M530,84.2 h-2 M530,63.0 h-2 M530,41.8 h-2" fill="none" stroke="#14141e" stroke-width="0.6" opacity="0.75"/><clipPath id="c2"><rect x="31.5" y="216.5" width="208" height="170"/></clipPath><path clip-path="url(#c2)" d="M31.5,342.3 L32.4,347.1 L34.2,349.8 L36.3,349.4 L38.0,348.1 L38.9,345.0 L39.8,347.1 L40.1,350.8 L39.8,355.9 L41.0,361.0 L42.2,366.4 L44.3,371.9 L45.8,376.3 L47.8,381.1 L49.3,384.5 L50.2,386.5 M60.6,386.5 L60.8,382.1 L62.1,376.0 L61.5,371.2 L62.1,367.8 L64.8,366.1 L68.0,363.7 L71.3,360.3 L75.8,355.6 L79.0,352.8 L81.7,350.5 L82.3,348.1 L85.0,346.7 L88.0,346.4 L91.8,346.0 L93.3,343.7 L95.4,343.7 L96.6,346.4 L97.8,350.1 L100.1,353.2 L102.8,357.3 L104.3,361.7 L103.7,366.4 L106.7,367.1 L109.4,365.4 L111.4,362.7 L113.2,364.4 L113.8,368.8 L115.0,373.6 L116.5,378.7 L116.5,383.1 L116.2,386.5 M118.3,386.5 L119.2,382.4 L120.3,378.7 L120.9,374.9 L123.3,374.9 L123.6,377.3 L127.2,379.4 L129.3,381.4 L130.2,384.1 L132.5,384.8 L134.3,385.8 L135.2,386.5 M140.6,386.5 L142.0,385.1 L144.4,383.8 L147.4,381.7 L148.3,378.0 L148.3,374.3 L147.4,370.5 L146.5,367.8 L145.0,365.4 L142.6,363.0 L140.3,360.0 L138.5,357.3 L137.6,354.2 L139.1,351.8 L140.8,349.8 L143.2,348.1 L145.6,346.7 L148.0,347.4 L149.5,348.1 L149.8,350.5 L150.7,351.5 L151.8,350.5 L151.2,348.4 L153.3,347.4 L156.3,346.4 L159.3,345.4 L160.8,344.3 L161.1,343.0 L162.8,344.3 L165.2,343.3 L168.2,342.6 L170.6,340.9 L173.5,338.6 L175.0,336.9 L177.1,334.5 L178.9,332.1 L180.1,329.4 L182.2,325.6 L184.8,322.6 L185.7,319.9 L185.1,318.5 L182.7,317.5 L184.5,315.8 L185.7,314.4 L184.8,312.4 L182.7,309.7 L181.6,306.3 L179.5,303.2 L177.7,301.5 L179.5,299.1 L181.3,297.8 L183.3,295.7 L186.9,295.0 L187.8,293.3 L184.5,293.0 L182.2,292.0 L179.5,293.7 L177.1,293.7 L176.8,291.6 L174.1,290.3 L173.2,288.2 L175.0,287.6 L177.4,286.9 L179.5,284.8 L182.7,282.1 L185.1,281.4 L186.6,282.8 L184.8,284.8 L184.5,286.9 L183.6,288.6 L186.3,287.6 L189.9,285.5 L192.8,284.8 L195.2,286.2 L195.8,288.9 L194.3,291.0 L196.7,292.0 L198.8,292.3 L199.7,294.7 L198.8,296.1 L199.7,298.8 L199.1,301.5 L199.1,303.2 L201.5,303.2 L203.2,302.2 L205.6,301.8 L207.4,300.8 L208.3,298.1 L208.0,294.7 L205.9,291.3 L204.1,288.6 L202.4,286.9 L202.7,285.2 L205.3,284.2 L208.9,281.8 L209.2,279.1 L211.6,276.7 L213.1,275.3 L215.4,274.0 L218.7,275.0 L221.7,272.9 L226.1,269.5 L230.0,265.1 L233.6,261.0 L236.5,257.6 L239.5,255.3 M146.5,354.9 L148.3,352.8 L150.7,352.2 L153.0,352.5 L153.3,353.9 L151.8,356.6 L149.8,358.3 L148.0,358.3 L146.5,357.3 L146.5,354.9 M184.8,334.5 L185.7,335.8 L185.4,337.9 L184.5,340.6 L183.6,343.0 L182.7,345.7 L181.9,344.3 L180.7,342.6 L180.4,340.3 L181.6,337.9 L183.0,335.5 L184.8,334.5 M181.9,357.6 L183.6,357.3 L186.6,357.6 L186.9,361.7 L187.5,364.1 L185.1,366.1 L184.8,369.5 L185.4,372.2 L187.8,371.9 L189.6,373.2 L191.7,373.9 L192.3,377.7 L191.4,376.6 L189.0,374.6 L187.8,375.6 L186.9,374.3 L185.1,373.2 L183.0,373.9 L181.9,372.2 L182.7,370.9 L181.6,370.5 L180.4,370.2 L179.8,366.8 L179.5,365.1 L181.0,365.8 L181.0,363.4 L181.3,360.7 L181.9,357.6 M181.3,374.6 L183.3,374.9 L184.5,377.0 L183.6,379.0 L182.4,378.0 L181.3,374.6 M192.8,378.0 L195.8,378.0 L196.4,381.1 L197.0,382.8 L194.9,382.4 L194.6,380.4 L192.8,378.0 M186.0,380.0 L189.3,381.1 L188.4,383.4 L186.3,385.1 L185.7,383.1 L186.0,380.0 M193.1,381.7 L194.9,382.8 L195.5,385.5 L195.2,386.5 M194.0,386.5 L193.1,383.4 L193.1,381.7 M188.7,386.5 L189.0,383.4 L190.5,383.4 L189.9,386.5 M192.0,382.4 L191.1,385.1 L190.5,386.5 M189.6,378.0 L191.7,379.0 L192.0,380.0 L190.2,379.7 L189.6,378.0 M178.6,381.7 L179.2,384.5 L177.7,386.5 M176.5,386.5 L178.0,383.4 L178.6,381.7 M212.5,305.2 L214.8,306.3 L215.7,309.0 L213.9,313.7 L211.9,315.1 L210.4,314.1 L210.7,311.4 L211.6,309.3 L209.2,309.3 L208.9,307.3 L211.0,306.3 L212.5,305.2 M217.2,305.2 L219.0,304.9 L220.8,303.9 L223.5,304.2 L223.8,305.6 L222.3,307.3 L220.5,306.6 L218.7,309.0 L217.2,307.6 L217.2,305.2 M239.5,301.2 L238.9,301.7 L238.6,300.1 L236.8,300.8 L235.9,302.9 L234.2,302.9 L230.6,302.9 L230.0,301.5 L229.1,302.9 L230.3,303.9 L228.5,304.6 L227.0,306.6 L224.9,305.2 L225.2,302.9 L223.2,302.5 L220.2,303.5 L216.9,303.9 L215.4,305.2 L212.8,304.9 L213.9,303.2 L216.6,300.8 L219.6,299.5 L223.2,299.1 L225.5,299.5 L227.6,299.1 L227.9,297.1 L230.0,294.7 L231.5,293.0 L230.6,295.0 L234.2,294.0 L236.2,291.6 L238.3,288.9 L239.5,286.2 M239.5,239.6 L238.3,236.2 L235.6,235.9 L234.7,237.9 L232.4,238.3 L231.5,237.2 L230.9,235.9 L230.0,237.6 L227.6,235.9 L225.5,234.5 L230.0,232.1 L233.6,228.7 L235.9,226.4 L239.5,224.0 M131.6,245.1 L134.6,245.4 L137.9,243.7 L141.4,241.7 L145.0,238.9 L148.3,235.5 L150.1,231.5 L148.9,230.8 L147.1,233.8 L143.8,237.6 L140.3,240.0 L136.7,242.3 L133.7,244.4 L131.6,245.1 M41.6,264.1 L42.5,262.4 L45.2,261.4 L49.3,261.2 L53.8,262.1 L58.8,261.7 L58.8,262.7 L53.8,263.1 L49.3,262.6 L45.8,263.1 L44.0,264.8 L43.7,266.8 L42.8,267.5 L41.9,265.8 L41.6,264.1 M203.0,331.8 L203.5,330.4 L204.4,329.4 L203.8,330.7 L203.0,331.8 M207.4,324.6 L208.3,323.9 L208.9,323.6 L208.0,324.6 L207.4,324.6 M98.5,381.4 L99.0,379.0 L99.4,376.6 L99.7,374.9 L99.2,377.7 L98.7,380.0 L98.5,381.4 M98.1,384.8 L98.5,383.8 L98.2,384.6 L98.1,384.8" fill="none" stroke="#1a1a26" stroke-width="0.65" stroke-linejoin="round"/><path d="M61.2,386.5 v-2.2 M61.2,216.5 v2.2 M90.9,386.5 v-2.2 M90.9,216.5 v2.2 M120.6,386.5 v-2.2 M120.6,216.5 v2.2 M150.4,386.5 v-2.2 M150.4,216.5 v2.2 M180.1,386.5 v-2.2 M180.1,216.5 v2.2 M209.8,386.5 v-2.2 M209.8,216.5 v2.2 M31.5,250.5 h2.2 M239.5,250.5 h-2.2 M31.5,284.5 h2.2 M239.5,284.5 h-2.2 M31.5,318.5 h2.2 M239.5,318.5 h-2.2 M31.5,352.5 h2.2 M239.5,352.5 h-2.2" fill="none" stroke="#14141e" stroke-width="0.6" opacity="0.75"/><rect x="31.5" y="216.5" width="208" height="170" fill="none" stroke="#111118" stroke-width="1"/><path d="M260,365.2 h-2 M260,344.0 h-2 M260,322.8 h-2 M260,301.5 h-2 M260,280.2 h-2 M260,259.0 h-2 M260,237.8 h-2" fill="none" stroke="#14141e" stroke-width="0.6" opacity="0.75"/><clipPath id="c3"><rect x="305.5" y="216.5" width="207" height="170"/></clipPath><path clip-path="url(#c3)" d="M305.5,342.3 L306.4,347.1 L308.2,349.8 L310.2,349.4 L312.0,348.1 L312.9,345.0 L313.8,347.1 L314.1,350.8 L313.8,355.9 L315.0,361.0 L316.1,366.4 L318.2,371.9 L319.7,376.3 L321.8,381.1 L323.2,384.5 L324.1,386.5 M334.5,386.5 L334.6,382.1 L336.0,376.0 L335.4,371.2 L336.0,367.8 L338.6,366.1 L341.9,363.7 L345.1,360.3 L349.6,355.6 L352.8,352.8 L355.5,350.5 L356.1,348.1 L358.7,346.7 L361.7,346.4 L365.5,346.0 L367.0,343.7 L369.1,343.7 L370.3,346.4 L371.4,350.1 L373.8,353.2 L376.5,357.3 L377.9,361.7 L377.4,366.4 L380.3,367.1 L383.0,365.4 L385.0,362.7 L386.8,364.4 L387.4,368.8 L388.6,373.6 L390.1,378.7 L390.1,383.1 L389.8,386.5 M391.8,386.5 L392.7,382.4 L393.9,378.7 L394.5,374.9 L396.9,374.9 L397.2,377.3 L400.7,379.4 L402.8,381.4 L403.7,384.1 L406.0,384.8 L407.8,385.8 L408.7,386.5 M414.0,386.5 L415.5,385.1 L417.9,383.8 L420.8,381.7 L421.7,378.0 L421.7,374.3 L420.8,370.5 L419.9,367.8 L418.5,365.4 L416.1,363.0 L413.7,360.0 L412.0,357.3 L411.1,354.2 L412.5,351.8 L414.3,349.8 L416.7,348.1 L419.1,346.7 L421.4,347.4 L422.9,348.1 L423.2,350.5 L424.1,351.5 L425.3,350.5 L424.7,348.4 L426.7,347.4 L429.7,346.4 L432.7,345.4 L434.1,344.3 L434.4,343.0 L436.2,344.3 L438.6,343.3 L441.5,342.6 L443.9,340.9 L446.9,338.6 L448.3,336.9 L450.4,334.5 L452.2,332.1 L453.4,329.4 L455.4,325.6 L458.1,322.6 L459.0,319.9 L458.4,318.5 L456.0,317.5 L457.8,315.8 L459.0,314.4 L458.1,312.4 L456.0,309.7 L454.8,306.3 L452.8,303.2 L451.0,301.5 L452.8,299.1 L454.5,297.8 L456.6,295.7 L460.2,295.0 L461.0,293.3 L457.8,293.0 L455.4,292.0 L452.8,293.7 L450.4,293.7 L450.1,291.6 L447.4,290.3 L446.6,288.2 L448.3,287.6 L450.7,286.9 L452.8,284.8 L456.0,282.1 L458.4,281.4 L459.9,282.8 L458.1,284.8 L457.8,286.9 L456.9,288.6 L459.6,287.6 L463.1,285.5 L466.1,284.8 L468.4,286.2 L469.0,288.9 L467.6,291.0 L469.9,292.0 L472.0,292.3 L472.9,294.7 L472.0,296.1 L472.9,298.8 L472.3,301.5 L472.3,303.2 L474.6,303.2 L476.4,302.2 L478.8,301.8 L480.6,300.8 L481.5,298.1 L481.2,294.7 L479.1,291.3 L477.3,288.6 L475.5,286.9 L475.8,285.2 L478.5,284.2 L482.0,281.8 L482.3,279.1 L484.7,276.7 L486.2,275.3 L488.5,274.0 L491.8,275.0 L494.8,272.9 L499.2,269.5 L503.0,265.1 L506.6,261.0 L509.5,257.6 L512.5,255.3 M419.9,354.9 L421.7,352.8 L424.1,352.2 L426.4,352.5 L426.7,353.9 L425.3,356.6 L423.2,358.3 L421.4,358.3 L419.9,357.3 L419.9,354.9 M458.1,334.5 L459.0,335.8 L458.7,337.9 L457.8,340.6 L456.9,343.0 L456.0,345.7 L455.1,344.3 L453.9,342.6 L453.7,340.3 L454.8,337.9 L456.3,335.5 L458.1,334.5 M455.1,357.6 L456.9,357.3 L459.9,357.6 L460.2,361.7 L460.8,364.1 L458.4,366.1 L458.1,369.5 L458.7,372.2 L461.0,371.9 L462.8,373.2 L464.9,373.9 L465.5,377.7 L464.6,376.6 L462.2,374.6 L461.0,375.6 L460.2,374.3 L458.4,373.2 L456.3,373.9 L455.1,372.2 L456.0,370.9 L454.8,370.5 L453.7,370.2 L453.1,366.8 L452.8,365.1 L454.2,365.8 L454.2,363.4 L454.5,360.7 L455.1,357.6 M454.5,374.6 L456.6,374.9 L457.8,377.0 L456.9,379.0 L455.7,378.0 L454.5,374.6 M466.1,378.0 L469.0,378.0 L469.6,381.1 L470.2,382.8 L468.1,382.4 L467.8,380.4 L466.1,378.0 M459.3,380.0 L462.5,381.1 L461.6,383.4 L459.6,385.1 L459.0,383.1 L459.3,380.0 M466.4,381.7 L468.1,382.8 L468.7,385.5 L468.4,386.5 M467.3,386.5 L466.4,383.4 L466.4,381.7 M461.9,386.5 L462.2,383.4 L463.7,383.4 L463.1,386.5 M465.2,382.4 L464.3,385.1 L463.7,386.5 M462.8,378.0 L464.9,379.0 L465.2,380.0 L463.4,379.7 L462.8,378.0 M451.9,381.7 L452.5,384.5 L451.0,386.5 M449.8,386.5 L451.3,383.4 L451.9,381.7 M485.6,305.2 L488.0,306.3 L488.8,309.0 L487.1,313.7 L485.0,315.1 L483.5,314.1 L483.8,311.4 L484.7,309.3 L482.3,309.3 L482.0,307.3 L484.1,306.3 L485.6,305.2 M490.3,305.2 L492.1,304.9 L493.9,303.9 L496.5,304.2 L496.8,305.6 L495.3,307.3 L493.6,306.6 L491.8,309.0 L490.3,307.6 L490.3,305.2 M512.5,301.2 L511.9,301.7 L511.6,300.1 L509.8,300.8 L509.0,302.9 L507.2,302.9 L503.6,302.9 L503.0,301.5 L502.1,302.9 L503.3,303.9 L501.6,304.6 L500.1,306.6 L498.0,305.2 L498.3,302.9 L496.2,302.5 L493.3,303.5 L490.0,303.9 L488.5,305.2 L485.9,304.9 L487.1,303.2 L489.7,300.8 L492.7,299.5 L496.2,299.1 L498.6,299.5 L500.7,299.1 L501.0,297.1 L503.0,294.7 L504.5,293.0 L503.6,295.0 L507.2,294.0 L509.2,291.6 L511.3,288.9 L512.5,286.2 M512.5,239.6 L511.3,236.2 L508.7,235.9 L507.8,237.9 L505.4,238.3 L504.5,237.2 L503.9,235.9 L503.0,237.6 L500.7,235.9 L498.6,234.5 L503.0,232.1 L506.6,228.7 L509.0,226.4 L512.5,224.0 M405.2,245.1 L408.1,245.4 L411.4,243.7 L414.9,241.7 L418.5,238.9 L421.7,235.5 L423.5,231.5 L422.3,230.8 L420.5,233.8 L417.3,237.6 L413.7,240.0 L410.2,242.3 L407.2,244.4 L405.2,245.1 M315.6,264.1 L316.4,262.4 L319.1,261.4 L323.2,261.2 L327.7,262.1 L332.7,261.7 L332.7,262.7 L327.7,263.1 L323.2,262.6 L319.7,263.1 L317.9,264.8 L317.6,266.8 L316.7,267.5 L315.9,265.8 L315.6,264.1 M476.1,331.8 L476.7,330.4 L477.6,329.4 L477.0,330.7 L476.1,331.8 M480.6,324.6 L481.5,323.9 L482.0,323.6 L481.2,324.6 L480.6,324.6 M372.2,381.4 L372.6,379.0 L373.1,376.6 L373.4,374.9 L372.9,377.7 L372.3,380.0 L372.2,381.4 M371.7,384.8 L372.2,383.8 L371.9,384.6 L371.7,384.8" fill="none" stroke="#1a1a26" stroke-width="0.65" stroke-linejoin="round"/><path d="M335.1,386.5 v-2.2 M335.1,216.5 v2.2 M364.6,386.5 v-2.2 M364.6,216.5 v2.2 M394.2,386.5 v-2.2 M394.2,216.5 v2.2 M423.8,386.5 v-2.2 M423.8,216.5 v2.2 M453.4,386.5 v-2.2 M453.4,216.5 v2.2 M482.9,386.5 v-2.2 M482.9,216.5 v2.2 M305.5,250.5 h2.2 M512.5,250.5 h-2.2 M305.5,284.5 h2.2 M512.5,284.5 h-2.2 M305.5,318.5 h2.2 M512.5,318.5 h-2.2 M305.5,352.5 h2.2 M512.5,352.5 h-2.2" fill="none" stroke="#14141e" stroke-width="0.6" opacity="0.75"/><rect x="305.5" y="216.5" width="207" height="170" fill="none" stroke="#111118" stroke-width="1"/><path d="M530,352.5 h-2 M530,318.5 h-2 M530,284.5 h-2 M530,250.5 h-2" fill="none" stroke="#14141e" stroke-width="0.6" opacity="0.75"/></svg>
</body></html>
